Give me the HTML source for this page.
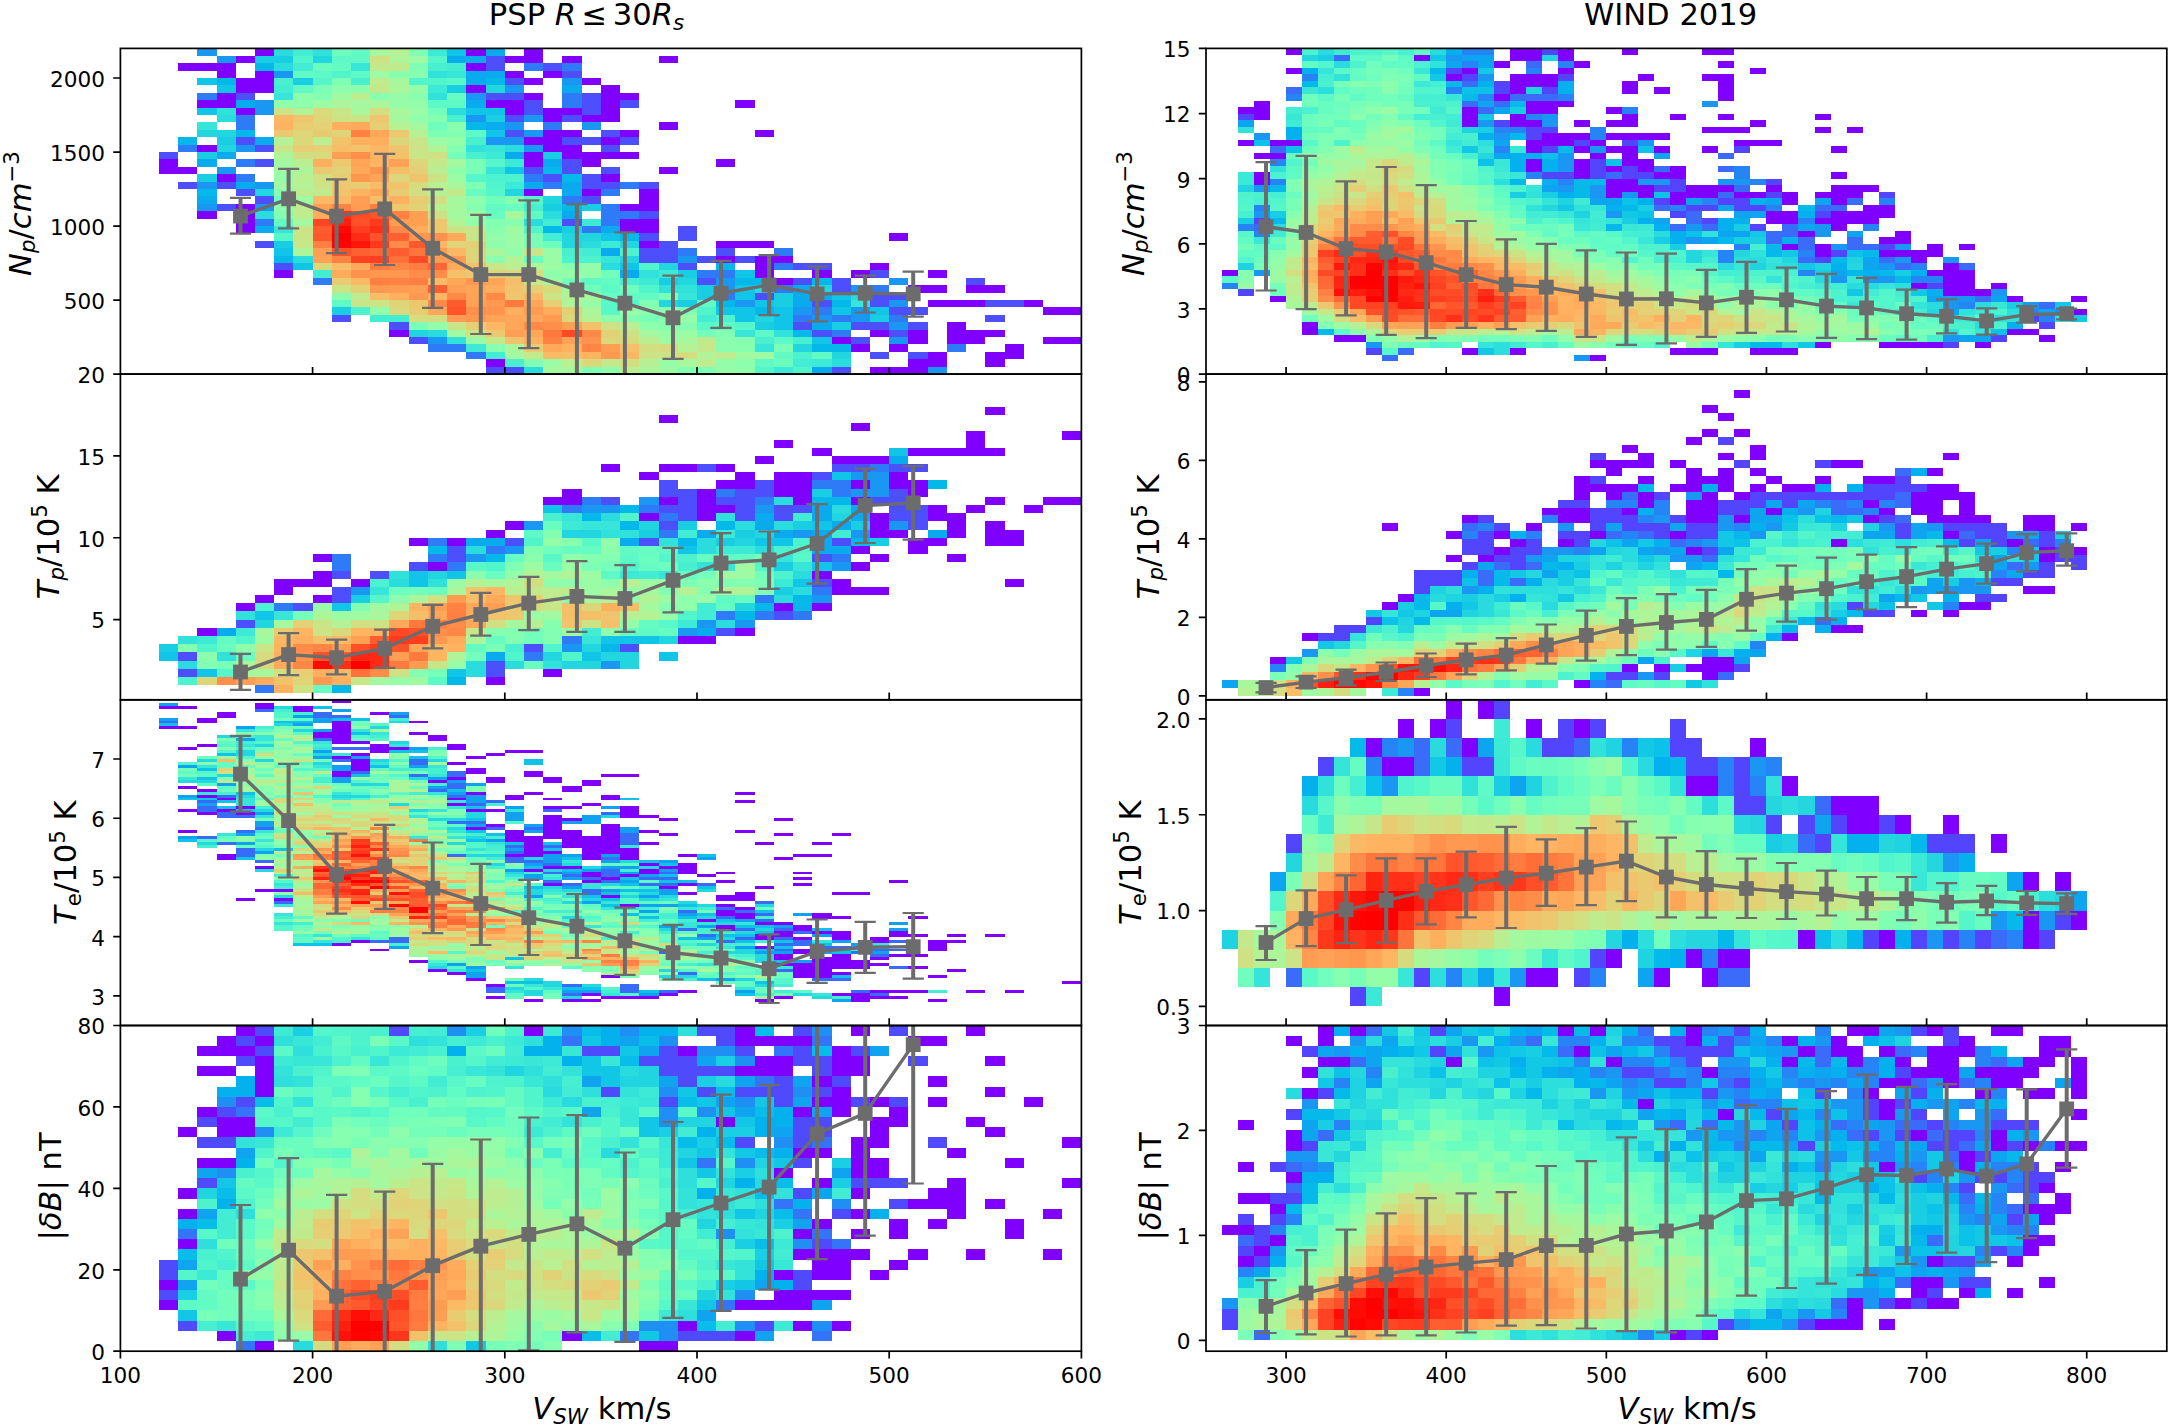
<!DOCTYPE html>
<html><head><meta charset="utf-8"><title>PSP and WIND solar wind statistics</title>
<style>html,body{margin:0;padding:0;background:#fff}svg{display:block}text{font-family:'DejaVu Sans','Liberation Sans',sans-serif;fill:#000}.i{font-style:italic}</style></head><body>
<svg width="2170" height="1427" viewBox="0 0 2170 1427">
<rect width="2170" height="1427" fill="#fff"/>
<g id="panel0">
<clipPath id="c0"><rect x="120.40" y="48.40" width="961.00" height="325.70"/></clipPath>
<g clip-path="url(#c0)"><g><g transform="translate(120.400 374.100) scale(19.2200 -7.4023)" shape-rendering="crispEdges">
<path fill="#8000ff" d="M2 27h1v2h-1zM3 27h1v1h-1zM3 41h1v1h-1zM4 21h1v1h-1zM4 30h1v1h-1zM4 36h1v1h-1zM4 41h1v1h-1zM5 26h1v1h-1zM5 36h1v2h-1zM5 40h1v2h-1zM6 19h1v4h-1zM6 35h1v1h-1zM6 38h1v2h-1zM6 42h1v1h-1zM7 38h1v3h-1zM7 43h1v1h-1zM8 13h1v1h-1zM14 5h1v1h-1zM18 38h1v1h-1zM18 41h1v1h-1zM18 43h1v1h-1zM19 1h1v1h-1zM19 36h1v1h-1zM20 35h1v2h-1zM20 40h1v1h-1zM20 42h1v1h-1zM21 24h1v1h-1zM21 28h1v2h-1zM21 31h1v1h-1zM21 37h1v1h-1zM21 39h1v1h-1zM21 42h1v2h-1zM22 30h1v3h-1zM22 34h1v2h-1zM22 40h1v1h-1zM23 29h1v2h-1zM23 32h1v1h-1zM23 35h1v1h-1zM23 42h1v1h-1zM24 24h1v1h-1zM24 28h1v2h-1zM24 34h1v1h-1zM24 39h1v1h-1zM25 26h1v1h-1zM25 29h1v1h-1zM25 31h1v1h-1zM25 34h1v5h-1zM26 19h1v2h-1zM26 22h1v1h-1zM26 29h1v1h-1zM26 32h1v1h-1zM26 37h1v1h-1zM27 17h1v1h-1zM27 19h1v2h-1zM27 22h1v3h-1zM28 27h1v1h-1zM28 33h1v1h-1zM28 42h1v1h-1zM31 15h1v1h-1zM31 17h1v1h-1zM31 28h1v1h-1zM32 17h1v1h-1zM32 36h1v1h-1zM33 13h1v3h-1zM33 17h1v1h-1zM33 32h1v1h-1zM34 12h1v1h-1zM34 15h1v1h-1zM36 13h1v1h-1zM37 4h1v1h-1zM38 3h1v1h-1zM38 13h1v1h-1zM39 0h1v1h-1zM39 5h1v1h-1zM39 14h1v1h-1zM40 0h1v1h-1zM40 3h1v1h-1zM40 18h1v1h-1zM41 0h1v2h-1zM41 4h1v2h-1zM41 11h1v1h-1zM42 1h1v2h-1zM42 9h1v1h-1zM42 11h1v1h-1zM42 13h1v1h-1zM43 4h1v3h-1zM43 9h1v1h-1zM44 4h1v2h-1zM44 9h1v1h-1zM44 11h1v1h-1zM45 1h1v2h-1zM45 5h1v1h-1zM45 11h1v1h-1zM46 2h1v2h-1zM47 9h1v1h-1zM48 4h1v1h-1zM48 8h1v1h-1zM49 4h1v1h-1zM49 8h1v1h-1z"/>
<path fill="#4d4ffc" d="M2 29h1v1h-1zM3 25h1v1h-1zM5 22h1v1h-1zM5 25h1v1h-1zM6 24h1v1h-1zM6 31h1v1h-1zM6 37h1v1h-1zM7 17h1v1h-1zM7 23h1v1h-1zM7 28h1v1h-1zM7 30h1v1h-1zM8 14h1v1h-1zM11 7h1v1h-1zM14 6h1v1h-1zM15 4h1v1h-1zM19 0h1v1h-1zM19 37h1v1h-1zM19 41h1v2h-1zM20 0h1v1h-1zM20 32h1v1h-1zM20 34h1v1h-1zM20 37h1v1h-1zM20 39h1v1h-1zM21 27h1v1h-1zM21 35h1v2h-1zM22 26h1v1h-1zM22 41h1v1h-1zM23 20h1v1h-1zM23 27h1v2h-1zM23 31h1v1h-1zM23 34h1v1h-1zM23 40h1v1h-1zM24 23h1v1h-1zM24 25h1v2h-1zM24 31h1v1h-1zM24 35h1v3h-1zM25 25h1v1h-1zM25 27h1v1h-1zM25 30h1v1h-1zM25 32h1v1h-1zM26 31h1v1h-1zM26 36h1v1h-1zM27 15h1v2h-1zM27 18h1v1h-1zM27 21h1v1h-1zM27 25h1v1h-1zM28 15h1v3h-1zM29 14h1v1h-1zM29 18h1v2h-1zM30 12h1v1h-1zM30 15h1v1h-1zM31 16h1v1h-1zM32 15h1v1h-1zM33 10h1v1h-1zM35 6h1v1h-1zM35 12h1v1h-1zM35 14h1v1h-1zM36 5h1v1h-1zM36 9h1v1h-1zM36 14h1v1h-1zM37 0h1v1h-1zM37 11h1v2h-1zM38 4h1v1h-1zM38 6h1v1h-1zM39 2h1v1h-1zM39 6h1v1h-1zM39 9h1v2h-1zM39 13h1v1h-1zM40 5h1v1h-1zM40 8h1v1h-1zM40 10h1v1h-1zM41 2h1v1h-1zM41 6h1v1h-1zM41 8h1v1h-1zM44 12h1v1h-1zM45 7h1v1h-1zM45 9h1v1h-1zM46 9h1v1h-1z"/>
<path fill="#2f7af7" d="M3 30h1v1h-1zM4 37h1v1h-1zM6 26h1v1h-1zM6 28h1v1h-1zM6 33h1v2h-1zM7 20h1v1h-1zM10 12h1v1h-1zM16 3h1v1h-1zM17 3h1v1h-1zM18 2h1v1h-1zM21 26h1v1h-1zM21 41h1v1h-1zM22 25h1v1h-1zM22 33h1v1h-1zM23 23h1v1h-1zM23 36h1v2h-1zM23 41h1v1h-1zM24 19h1v1h-1zM25 20h1v3h-1zM25 24h1v1h-1zM26 21h1v1h-1zM26 25h1v1h-1zM29 16h1v1h-1zM30 13h1v1h-1zM31 10h1v1h-1zM31 13h1v1h-1zM34 11h1v1h-1zM34 14h1v1h-1zM34 16h1v1h-1zM35 7h1v1h-1zM36 8h1v1h-1zM37 5h1v1h-1zM37 7h1v1h-1zM39 11h1v1h-1zM40 7h1v1h-1zM43 3h1v1h-1z"/>
<path fill="#04b9ea" d="M3 31h1v1h-1zM4 24h1v1h-1zM5 39h1v1h-1zM6 32h1v1h-1zM7 41h1v1h-1zM8 15h1v1h-1zM18 33h1v1h-1zM19 39h1v1h-1zM22 19h1v1h-1zM22 27h1v1h-1zM23 22h1v1h-1zM23 26h1v1h-1zM26 18h1v1h-1zM31 9h1v1h-1zM31 14h1v1h-1zM32 12h1v1h-1zM33 8h1v1h-1zM33 12h1v1h-1zM35 5h1v1h-1zM36 3h1v1h-1zM36 12h1v1h-1zM37 3h1v1h-1zM37 9h1v1h-1z"/>
<path fill="#1a96f3" d="M4 22h1v1h-1zM4 25h1v1h-1zM4 43h1v1h-1zM5 27h1v1h-1zM5 42h1v1h-1zM6 30h1v1h-1zM7 22h1v1h-1zM7 25h1v1h-1zM7 35h1v2h-1zM8 40h1v1h-1zM16 4h1v1h-1zM18 34h1v1h-1zM18 37h1v1h-1zM19 31h1v1h-1zM20 31h1v1h-1zM20 33h1v1h-1zM20 38h1v1h-1zM21 30h1v1h-1zM21 32h1v1h-1zM21 34h1v1h-1zM23 39h1v1h-1zM24 33h1v1h-1zM29 15h1v1h-1zM31 11h1v2h-1zM32 9h1v1h-1zM35 8h1v1h-1zM36 7h1v1h-1zM38 7h1v2h-1zM38 11h1v1h-1zM40 4h1v1h-1zM40 6h1v1h-1zM40 9h1v1h-1zM40 12h1v1h-1zM42 0h1v1h-1z"/>
<path fill="#09aaee" d="M4 23h1v1h-1zM4 28h1v1h-1zM5 29h1v1h-1zM6 25h1v1h-1zM6 36h1v1h-1zM7 19h1v1h-1zM7 31h1v1h-1zM17 42h1v1h-1zM18 36h1v1h-1zM18 39h1v2h-1zM18 42h1v1h-1zM19 33h1v1h-1zM19 40h1v1h-1zM19 43h1v1h-1zM20 29h1v1h-1zM21 25h1v1h-1zM22 28h1v1h-1zM23 21h1v1h-1zM23 24h1v2h-1zM23 38h1v1h-1zM25 16h1v1h-1zM25 19h1v1h-1zM26 13h1v1h-1zM35 9h1v3h-1zM36 0h1v1h-1zM36 6h1v1h-1zM36 10h1v1h-1z"/>
<path fill="#19cee3" d="M4 26h1v1h-1zM4 29h1v1h-1zM5 31h1v1h-1zM7 42h1v1h-1zM8 17h1v1h-1zM8 42h1v1h-1zM9 39h1v1h-1zM11 8h1v1h-1zM17 38h1v1h-1zM19 34h1v1h-1zM22 22h1v1h-1zM22 29h1v1h-1zM23 19h1v1h-1zM24 22h1v1h-1zM28 12h1v1h-1zM29 9h1v1h-1zM29 13h1v1h-1zM30 10h1v2h-1zM33 6h1v1h-1zM34 9h1v2h-1zM37 6h1v1h-1zM39 7h1v1h-1z"/>
<path fill="#22d6e0" d="M4 32h1v1h-1zM5 30h1v1h-1zM5 32h1v1h-1zM7 24h1v1h-1zM10 42h1v1h-1zM15 5h1v1h-1zM19 38h1v1h-1zM20 24h1v1h-1zM22 23h1v1h-1zM23 17h1v2h-1zM24 18h1v1h-1zM26 15h1v1h-1zM26 17h1v1h-1zM28 9h1v1h-1zM28 14h1v1h-1zM29 12h1v1h-1zM33 7h1v1h-1zM35 3h1v1h-1zM36 11h1v1h-1zM37 2h1v1h-1z"/>
<path fill="#37e6d8" d="M4 33h1v1h-1zM8 19h1v1h-1zM8 37h1v1h-1zM12 41h1v1h-1zM17 40h1v1h-1zM19 27h1v1h-1zM19 30h1v1h-1zM25 15h1v1h-1zM29 10h1v1h-1zM32 5h1v1h-1zM33 3h1v1h-1zM38 9h1v1h-1z"/>
<path fill="#10c5e7" d="M4 35h1v1h-1zM4 39h1v1h-1zM5 38h1v1h-1zM8 16h1v1h-1zM9 14h1v1h-1zM17 43h1v1h-1zM18 35h1v1h-1zM19 32h1v1h-1zM19 35h1v1h-1zM20 27h1v1h-1zM25 18h1v1h-1zM26 14h1v1h-1zM31 8h1v1h-1zM32 7h1v2h-1zM32 10h1v2h-1zM32 13h1v1h-1zM33 9h1v1h-1zM34 6h1v3h-1zM36 4h1v1h-1zM37 8h1v1h-1zM37 10h1v1h-1zM39 8h1v1h-1z"/>
<path fill="#2adcdd" d="M5 34h1v1h-1zM7 21h1v1h-1zM8 41h1v1h-1zM8 43h1v1h-1zM9 15h1v1h-1zM16 5h1v1h-1zM17 35h1v1h-1zM20 30h1v1h-1zM21 0h1v1h-1zM21 20h1v1h-1zM22 21h1v1h-1zM24 17h1v1h-1zM25 14h1v1h-1zM33 11h1v1h-1zM37 1h1v1h-1zM38 10h1v1h-1z"/>
<path fill="#31e2da" d="M5 35h1v1h-1zM10 43h1v1h-1zM16 37h1v1h-1zM16 40h1v1h-1zM17 4h1v1h-1zM18 30h1v1h-1zM27 13h1v1h-1zM28 11h1v1h-1zM29 11h1v1h-1zM34 5h1v1h-1z"/>
<path fill="#55f6ca" d="M8 18h1v1h-1zM10 39h1v1h-1zM16 42h1v1h-1zM18 26h1v1h-1zM19 24h1v1h-1zM19 28h1v1h-1zM21 23h1v1h-1zM26 9h1v1h-1zM32 6h1v1h-1zM33 0h1v1h-1z"/>
<path fill="#64fbc3" d="M8 20h1v1h-1zM11 41h1v1h-1zM25 12h1v1h-1zM26 10h1v1h-1zM27 10h1v1h-1zM30 9h1v1h-1zM34 2h1v1h-1z"/>
<path fill="#84ffb2" d="M8 21h1v1h-1zM17 30h1v1h-1zM17 32h1v1h-1zM19 20h1v1h-1zM20 23h1v1h-1zM26 7h1v1h-1zM29 0h1v1h-1z"/>
<path fill="#90feab" d="M8 22h1v1h-1zM8 36h1v1h-1zM15 34h1v1h-1zM18 20h1v1h-1zM32 0h1v1h-1z"/>
<path fill="#6afdc0" d="M8 23h1v1h-1zM10 41h1v1h-1zM20 22h1v1h-1zM34 1h1v1h-1z"/>
<path fill="#8afeae" d="M8 24h1v1h-1zM11 10h1v1h-1zM17 33h1v1h-1zM27 8h1v1h-1zM31 3h1v2h-1z"/>
<path fill="#a2f9a0" d="M8 25h1v1h-1zM9 20h1v1h-1z"/>
<path fill="#97fca7" d="M8 26h1v1h-1zM14 36h1v2h-1zM24 9h1v1h-1zM28 5h1v1h-1z"/>
<path fill="#9cfba4" d="M8 27h1v1h-1zM16 31h1v1h-1zM20 18h1v1h-1z"/>
<path fill="#a3f99f" d="M8 28h1v1h-1zM17 21h1v1h-1z"/>
<path fill="#aef599" d="M8 29h1v1h-1zM14 42h1v1h-1z"/>
<path fill="#c8e688" d="M8 30h1v1h-1zM9 18h1v1h-1zM15 29h1v1h-1zM18 18h1v1h-1z"/>
<path fill="#b4f295" d="M8 31h1v1h-1zM9 25h1v1h-1zM14 43h1v1h-1zM16 24h1v1h-1zM29 3h1v1h-1z"/>
<path fill="#ebc970" d="M8 32h1v1h-1zM19 5h1v1h-1z"/>
<path fill="#ffb360" d="M8 33h1v1h-1z"/>
<path fill="#fdb663" d="M8 34h1v1h-1zM19 6h1v1h-1zM21 10h1v1h-1z"/>
<path fill="#cce486" d="M8 35h1v1h-1zM9 19h1v1h-1zM10 25h1v1h-1zM13 9h1v1h-1zM17 19h1v1h-1z"/>
<path fill="#43edd3" d="M8 38h1v1h-1zM9 41h1v1h-1zM9 43h1v1h-1zM10 13h1v1h-1zM13 7h1v1h-1zM14 7h1v1h-1zM17 41h1v1h-1zM19 2h1v1h-1zM22 18h1v1h-1zM22 20h1v1h-1zM24 16h1v1h-1zM30 7h1v1h-1zM35 1h1v1h-1z"/>
<path fill="#48f0d0" d="M8 39h1v1h-1zM12 39h1v1h-1zM16 41h1v1h-1zM17 34h1v1h-1zM18 29h1v1h-1zM18 31h1v1h-1zM20 1h1v1h-1zM21 22h1v1h-1zM23 16h1v1h-1zM26 12h1v1h-1zM33 4h1v1h-1zM35 4h1v1h-1z"/>
<path fill="#adf59a" d="M9 16h1v1h-1zM11 36h1v1h-1zM13 36h1v1h-1zM24 8h1v1h-1z"/>
<path fill="#c7e789" d="M9 17h1v1h-1z"/>
<path fill="#bfec8e" d="M9 21h1v1h-1z"/>
<path fill="#beec8e" d="M9 22h1v1h-1zM12 10h1v1h-1zM13 39h1v1h-1zM30 1h1v1h-1zM31 2h1v1h-1z"/>
<path fill="#9ffaa2" d="M9 23h1v1h-1zM11 37h1v1h-1zM20 19h1v1h-1zM32 2h1v1h-1z"/>
<path fill="#bded8f" d="M9 24h1v1h-1zM12 37h1v1h-1z"/>
<path fill="#b8f092" d="M9 26h1v1h-1zM16 22h1v1h-1zM16 25h1v1h-1zM23 1h1v1h-1z"/>
<path fill="#abf69a" d="M9 27h1v1h-1zM14 38h1v1h-1z"/>
<path fill="#b9ef92" d="M9 28h1v1h-1zM16 27h1v1h-1zM26 6h1v1h-1z"/>
<path fill="#d1df82" d="M9 29h1v1h-1zM15 24h1v1h-1zM16 23h1v1h-1zM26 1h1v1h-1z"/>
<path fill="#e7cd73" d="M9 30h1v1h-1zM18 6h1v1h-1zM22 9h1v1h-1z"/>
<path fill="#dbd87b" d="M9 31h1v1h-1zM20 13h1v1h-1zM24 1h1v1h-1zM25 4h1v1h-1z"/>
<path fill="#ded579" d="M9 32h1v1h-1z"/>
<path fill="#e9cb71" d="M9 33h1v1h-1zM11 12h1v1h-1zM11 26h1v1h-1zM12 25h1v1h-1zM15 8h1v1h-1zM21 3h1v1h-1z"/>
<path fill="#f0c46c" d="M9 34h1v1h-1zM14 30h1v1h-1z"/>
<path fill="#b2f396" d="M9 35h1v1h-1zM24 7h1v1h-1z"/>
<path fill="#8efeac" d="M9 36h1v1h-1zM12 38h1v1h-1zM17 27h1v1h-1zM19 17h1v1h-1zM25 0h1v1h-1z"/>
<path fill="#8cfead" d="M9 37h1v1h-1zM11 38h1v1h-1zM18 23h1v1h-1zM19 15h1v1h-1zM22 13h1v1h-1zM25 7h1v1h-1zM27 6h1v1h-1zM28 8h1v1h-1zM32 1h1v1h-1z"/>
<path fill="#61fac5" d="M9 38h1v1h-1zM9 40h1v1h-1zM12 42h1v2h-1zM19 22h1v1h-1zM21 21h1v1h-1zM31 6h1v1h-1zM33 1h1v1h-1zM36 2h1v1h-1z"/>
<path fill="#51f5cc" d="M9 42h1v1h-1zM11 40h1v1h-1zM15 39h1v1h-1zM16 39h1v1h-1zM19 25h1v1h-1zM21 19h1v1h-1zM27 11h1v1h-1zM27 14h1v1h-1zM30 8h1v1h-1zM35 0h1v1h-1z"/>
<path fill="#d9d97c" d="M10 14h1v1h-1z"/>
<path fill="#ffa256" d="M10 15h1v1h-1zM14 28h1v1h-1z"/>
<path fill="#ff9f54" d="M10 16h1v1h-1zM11 29h1v1h-1zM15 11h1v1h-1zM15 20h1v2h-1zM17 11h1v1h-1zM23 6h1v1h-1z"/>
<path fill="#ff8042" d="M10 17h1v1h-1z"/>
<path fill="#ff572c" d="M10 18h1v1h-1z"/>
<path fill="#ff5b2e" d="M10 19h1v1h-1zM17 9h1v1h-1z"/>
<path fill="#ff4523" d="M10 20h1v1h-1z"/>
<path fill="#ffac5d" d="M10 21h1v1h-1zM17 14h1v1h-1z"/>
<path fill="#ffa155" d="M10 22h1v1h-1zM18 9h1v1h-1z"/>
<path fill="#faba65" d="M10 23h1v1h-1z"/>
<path fill="#c0eb8d" d="M10 24h1v1h-1zM14 41h1v1h-1z"/>
<path fill="#cfe183" d="M10 26h1v1h-1zM16 29h1v1h-1z"/>
<path fill="#eaca71" d="M10 27h1v1h-1z"/>
<path fill="#ffaf5e" d="M10 28h1v1h-1zM11 33h1v1h-1zM12 31h1v1h-1zM13 31h1v1h-1zM20 8h1v1h-1zM21 4h1v1h-1z"/>
<path fill="#d7db7e" d="M10 29h1v1h-1z"/>
<path fill="#e4d075" d="M10 30h1v1h-1z"/>
<path fill="#bced90" d="M10 31h1v1h-1zM20 14h1v1h-1zM27 4h1v1h-1z"/>
<path fill="#eaca70" d="M10 32h1v1h-1z"/>
<path fill="#e3d176" d="M10 33h1v1h-1zM12 11h1v1h-1zM15 22h1v1h-1zM25 5h1v1h-1z"/>
<path fill="#ddd67a" d="M10 34h1v1h-1zM14 26h1v1h-1z"/>
<path fill="#dad97c" d="M10 35h1v1h-1zM22 11h1v1h-1z"/>
<path fill="#9dfba3" d="M10 36h1v1h-1zM13 40h1v1h-1zM15 42h1v1h-1zM22 12h1v1h-1zM22 14h1v1h-1zM28 4h1v1h-1zM33 2h1v1h-1z"/>
<path fill="#82ffb3" d="M10 37h1v1h-1zM27 9h1v1h-1zM31 5h1v1h-1z"/>
<path fill="#7dffb6" d="M10 38h1v1h-1zM15 41h1v1h-1zM24 0h1v1h-1zM30 0h1v1h-1z"/>
<path fill="#5df9c6" d="M10 40h1v1h-1zM11 9h1v1h-1zM11 42h1v1h-1zM12 40h1v1h-1zM16 36h1v1h-1zM17 36h1v1h-1zM18 32h1v1h-1zM24 12h1v1h-1zM25 11h1v1h-1zM33 5h1v1h-1zM34 4h1v1h-1z"/>
<path fill="#c9e587" d="M11 11h1v1h-1zM11 35h1v1h-1zM15 31h1v1h-1zM17 6h1v1h-1zM18 19h1v1h-1zM22 10h1v1h-1z"/>
<path fill="#ffab5c" d="M11 13h1v1h-1z"/>
<path fill="#f7bd67" d="M11 14h1v1h-1zM11 30h1v1h-1z"/>
<path fill="#ff8243" d="M11 15h1v1h-1zM12 32h1v1h-1zM14 21h1v1h-1z"/>
<path fill="#ff5129" d="M11 16h1v1h-1zM12 20h1v1h-1z"/>
<path fill="#ff0402" d="M11 17h1v1h-1z"/>
<path fill="#ff0000" d="M11 18h1v1h-1z"/>
<path fill="#ff0904" d="M11 19h1v1h-1z"/>
<path fill="#ff2010" d="M11 20h1v1h-1z"/>
<path fill="#ff3018" d="M11 21h1v1h-1z"/>
<path fill="#ff8344" d="M11 22h1v1h-1z"/>
<path fill="#fcb864" d="M11 23h1v1h-1z"/>
<path fill="#f3c26a" d="M11 24h1v1h-1z"/>
<path fill="#eec76e" d="M11 25h1v1h-1z"/>
<path fill="#e1d277" d="M11 27h1v1h-1zM11 32h1v1h-1z"/>
<path fill="#ecc86f" d="M11 28h1v1h-1zM14 22h1v1h-1zM16 19h1v1h-1z"/>
<path fill="#f2c36b" d="M11 31h1v1h-1zM12 30h1v1h-1zM14 25h1v1h-1z"/>
<path fill="#cee284" d="M11 34h1v1h-1zM13 42h1v1h-1z"/>
<path fill="#80ffb4" d="M11 39h1v1h-1zM15 43h1v1h-1zM18 25h1v1h-1zM21 1h1v1h-1zM29 8h1v1h-1z"/>
<path fill="#6dfdbe" d="M11 43h1v1h-1zM21 15h1v1h-1zM22 17h1v1h-1zM26 11h1v1h-1z"/>
<path fill="#4cf3ce" d="M12 8h1v1h-1zM19 26h1v1h-1zM20 26h1v1h-1zM23 15h1v1h-1zM24 15h1v1h-1zM26 16h1v1h-1zM31 7h1v1h-1zM35 2h1v1h-1z"/>
<path fill="#cae587" d="M12 9h1v1h-1z"/>
<path fill="#fab965" d="M12 12h1v1h-1z"/>
<path fill="#ff924d" d="M12 13h1v1h-1z"/>
<path fill="#ffa95a" d="M12 14h1v1h-1zM17 18h1v1h-1z"/>
<path fill="#ff4322" d="M12 15h1v1h-1z"/>
<path fill="#ff6031" d="M12 16h1v1h-1zM14 18h1v1h-1z"/>
<path fill="#ff150b" d="M12 17h1v1h-1z"/>
<path fill="#ff2b16" d="M12 18h1v1h-1z"/>
<path fill="#ff3f20" d="M12 19h1v1h-1zM13 15h1v1h-1z"/>
<path fill="#ff4c26" d="M12 21h1v1h-1z"/>
<path fill="#ff9d53" d="M12 22h1v1h-1zM14 20h1v1h-1z"/>
<path fill="#ff9e54" d="M12 23h1v1h-1zM20 5h1v1h-1z"/>
<path fill="#ffb260" d="M12 24h1v1h-1z"/>
<path fill="#ff974f" d="M12 26h1v1h-1zM13 13h1v1h-1zM18 7h1v1h-1z"/>
<path fill="#ffaa5b" d="M12 27h1v1h-1zM12 33h1v1h-1zM22 3h1v1h-1z"/>
<path fill="#ffa558" d="M12 28h1v1h-1zM13 24h1v1h-1zM18 11h1v1h-1zM19 12h1v1h-1z"/>
<path fill="#ff8e4a" d="M12 29h1v1h-1zM22 6h1v1h-1z"/>
<path fill="#cbe486" d="M12 34h1v1h-1zM15 30h1v1h-1zM28 2h1v1h-1z"/>
<path fill="#a7f79d" d="M12 35h1v1h-1zM17 22h1v1h-1zM20 21h1v1h-1zM23 0h1v1h-1zM29 1h1v1h-1zM29 4h1v1h-1z"/>
<path fill="#a5f89f" d="M12 36h1v1h-1zM17 28h1v1h-1zM20 2h1v1h-1zM22 0h1v1h-1zM27 5h1v1h-1z"/>
<path fill="#92fdaa" d="M13 8h1v1h-1zM17 31h1v1h-1zM20 16h1v1h-1zM31 1h1v1h-1z"/>
<path fill="#f5bf68" d="M13 10h1v1h-1zM14 27h1v1h-1z"/>
<path fill="#ff9850" d="M13 11h1v1h-1zM25 2h1v1h-1z"/>
<path fill="#ff7f42" d="M13 12h1v1h-1zM13 22h1v1h-1zM15 12h1v1h-1z"/>
<path fill="#ff7c40" d="M13 14h1v1h-1z"/>
<path fill="#ff6634" d="M13 16h1v1h-1z"/>
<path fill="#ff371c" d="M13 17h1v1h-1z"/>
<path fill="#ff522a" d="M13 18h1v1h-1z"/>
<path fill="#ff2e17" d="M13 19h1v1h-1z"/>
<path fill="#ff3a1d" d="M13 20h1v1h-1z"/>
<path fill="#ff552b" d="M13 21h1v1h-1z"/>
<path fill="#f6be68" d="M13 23h1v1h-1zM20 12h1v1h-1zM23 2h1v1h-1z"/>
<path fill="#f8bc67" d="M13 25h1v1h-1z"/>
<path fill="#ffa457" d="M13 26h1v1h-1zM19 7h1v1h-1z"/>
<path fill="#ff944e" d="M13 27h1v1h-1zM19 8h1v1h-1z"/>
<path fill="#ffb462" d="M13 28h1v1h-1z"/>
<path fill="#ffb461" d="M13 29h1v1h-1zM16 10h1v1h-1zM24 2h1v1h-1z"/>
<path fill="#fdb763" d="M13 30h1v1h-1z"/>
<path fill="#ffa759" d="M13 32h1v1h-1zM16 8h1v1h-1zM20 6h1v2h-1zM21 5h1v1h-1zM21 7h1v1h-1z"/>
<path fill="#e5ce74" d="M13 33h1v1h-1zM15 27h1v1h-1z"/>
<path fill="#efc66d" d="M13 34h1v1h-1zM20 10h1v1h-1z"/>
<path fill="#d4dd80" d="M13 35h1v1h-1zM21 13h1v1h-1zM29 2h1v1h-1z"/>
<path fill="#88ffaf" d="M13 37h1v1h-1zM14 40h1v1h-1zM15 37h1v1h-1zM15 40h1v1h-1zM19 19h1v1h-1zM20 20h1v1h-1zM28 6h1v1h-1zM32 3h1v1h-1z"/>
<path fill="#c4e98b" d="M13 38h1v1h-1zM19 4h1v1h-1z"/>
<path fill="#c2ea8c" d="M13 41h1v1h-1zM25 1h1v1h-1zM30 4h1v1h-1z"/>
<path fill="#a9f79c" d="M13 43h1v1h-1zM14 39h1v1h-1zM17 25h1v1h-1zM19 16h1v1h-1zM20 3h1v1h-1zM24 10h1v1h-1z"/>
<path fill="#d8da7d" d="M14 8h1v1h-1z"/>
<path fill="#e0d478" d="M14 9h1v1h-1zM15 28h1v1h-1zM18 15h1v1h-1zM19 13h1v1h-1z"/>
<path fill="#ffb160" d="M14 10h1v1h-1zM14 23h1v1h-1zM23 3h1v1h-1z"/>
<path fill="#ff9a51" d="M14 11h1v1h-1zM17 15h1v1h-1zM22 7h1v1h-1z"/>
<path fill="#ff8143" d="M14 12h1v1h-1zM22 4h1v1h-1z"/>
<path fill="#ff9750" d="M14 13h1v1h-1zM15 18h1v1h-1z"/>
<path fill="#ff8545" d="M14 14h1v1h-1zM24 3h1v1h-1z"/>
<path fill="#ff713a" d="M14 15h1v1h-1z"/>
<path fill="#ff5c2f" d="M14 16h1v1h-1z"/>
<path fill="#ff8b48" d="M14 17h1v1h-1z"/>
<path fill="#ff8948" d="M14 19h1v1h-1z"/>
<path fill="#e8cc72" d="M14 24h1v1h-1zM15 23h1v1h-1z"/>
<path fill="#f4c16a" d="M14 29h1v1h-1z"/>
<path fill="#dcd67a" d="M14 31h1v1h-1zM18 16h1v1h-1z"/>
<path fill="#ecc970" d="M14 32h1v1h-1zM18 13h1v1h-1z"/>
<path fill="#b6f194" d="M14 33h1v1h-1zM15 32h1v1h-1z"/>
<path fill="#a6f89e" d="M14 34h1v1h-1zM15 33h1v1h-1zM17 23h1v1h-1zM23 11h1v1h-1z"/>
<path fill="#aaf69b" d="M14 35h1v1h-1zM27 0h1v1h-1z"/>
<path fill="#7bffb7" d="M15 6h1v1h-1zM16 32h1v1h-1zM21 17h1v1h-1z"/>
<path fill="#d5dd7f" d="M15 7h1v1h-1z"/>
<path fill="#edc76e" d="M15 9h1v1h-1z"/>
<path fill="#ff9951" d="M15 10h1v1h-1zM19 9h1v1h-1z"/>
<path fill="#ff8c49" d="M15 13h1v1h-1zM16 13h1v1h-1z"/>
<path fill="#ff7d40" d="M15 14h1v1h-1z"/>
<path fill="#ff4a25" d="M15 15h1v1h-1z"/>
<path fill="#ff753c" d="M15 16h1v1h-1z"/>
<path fill="#ff5a2e" d="M15 17h1v1h-1z"/>
<path fill="#ffac5c" d="M15 19h1v1h-1z"/>
<path fill="#d6db7e" d="M15 25h1v1h-1zM26 4h1v1h-1zM28 3h1v1h-1z"/>
<path fill="#f0c46d" d="M15 26h1v1h-1z"/>
<path fill="#9afca5" d="M15 35h1v1h-1zM17 26h1v1h-1zM18 21h1v1h-1zM20 17h1v1h-1zM22 1h1v1h-1zM22 15h1v1h-1zM28 0h1v1h-1zM29 5h1v1h-1z"/>
<path fill="#94fda9" d="M15 36h1v1h-1zM16 6h1v1h-1zM19 18h1v1h-1zM24 13h1v2h-1z"/>
<path fill="#95fda8" d="M15 38h1v1h-1zM18 4h1v1h-1zM23 13h1v1h-1zM28 1h1v1h-1zM31 0h1v1h-1z"/>
<path fill="#d3de81" d="M16 7h1v1h-1z"/>
<path fill="#ff8847" d="M16 9h1v1h-1zM17 10h1v1h-1z"/>
<path fill="#ff5e30" d="M16 11h1v1h-1z"/>
<path fill="#faba66" d="M16 12h1v1h-1z"/>
<path fill="#ff6534" d="M16 14h1v1h-1z"/>
<path fill="#ff9b52" d="M16 15h1v2h-1zM17 7h1v1h-1z"/>
<path fill="#feb662" d="M16 17h1v1h-1z"/>
<path fill="#ff914c" d="M16 18h1v1h-1z"/>
<path fill="#efc56d" d="M16 20h1v1h-1z"/>
<path fill="#d0e183" d="M16 21h1v1h-1z"/>
<path fill="#cde284" d="M16 26h1v1h-1zM25 6h1v1h-1zM26 5h1v1h-1z"/>
<path fill="#c3e98b" d="M16 28h1v1h-1zM17 24h1v1h-1z"/>
<path fill="#b0f497" d="M16 30h1v1h-1zM23 10h1v1h-1z"/>
<path fill="#70febd" d="M16 33h1v1h-1zM19 23h1v1h-1zM24 11h1v1h-1z"/>
<path fill="#86ffb1" d="M16 34h1v1h-1zM18 22h1v1h-1zM19 3h1v1h-1zM23 14h1v1h-1zM28 7h1v1h-1zM29 6h1v1h-1zM32 4h1v1h-1z"/>
<path fill="#73febb" d="M16 35h1v1h-1zM23 12h1v1h-1zM25 13h1v1h-1zM30 5h1v1h-1z"/>
<path fill="#3dead5" d="M16 38h1v1h-1zM16 43h1v1h-1zM18 3h1v1h-1zM19 29h1v1h-1zM20 25h1v1h-1zM20 28h1v1h-1zM24 20h1v1h-1zM25 17h1v1h-1zM27 12h1v1h-1zM28 13h1v1h-1zM34 0h1v1h-1zM36 1h1v1h-1z"/>
<path fill="#a0faa1" d="M17 5h1v1h-1z"/>
<path fill="#ff532a" d="M17 8h1v1h-1z"/>
<path fill="#ffa85a" d="M17 12h1v1h-1z"/>
<path fill="#f3c16a" d="M17 13h1v1h-1z"/>
<path fill="#fbb864" d="M17 16h1v1h-1zM26 2h1v1h-1z"/>
<path fill="#e0d378" d="M17 17h1v1h-1z"/>
<path fill="#b1f397" d="M17 20h1v1h-1zM20 15h1v1h-1z"/>
<path fill="#76ffba" d="M17 29h1v1h-1z"/>
<path fill="#67fcc1" d="M17 37h1v1h-1zM18 24h1v1h-1zM19 21h1v1h-1zM25 10h1v1h-1z"/>
<path fill="#59f8c8" d="M17 39h1v1h-1zM25 8h1v2h-1zM30 6h1v1h-1z"/>
<path fill="#c7e688" d="M18 5h1v1h-1zM19 14h1v1h-1z"/>
<path fill="#ff904b" d="M18 8h1v1h-1z"/>
<path fill="#ffa357" d="M18 10h1v1h-1z"/>
<path fill="#ff954e" d="M18 12h1v1h-1z"/>
<path fill="#f4c069" d="M18 14h1v1h-1zM26 3h1v1h-1z"/>
<path fill="#e3d075" d="M18 17h1v1h-1z"/>
<path fill="#78ffb8" d="M18 27h1v2h-1zM21 18h1v1h-1zM27 7h1v1h-1zM28 10h1v1h-1zM34 3h1v1h-1z"/>
<path fill="#ff8a48" d="M19 10h1v1h-1z"/>
<path fill="#ffae5d" d="M19 11h1v1h-1z"/>
<path fill="#f1c36c" d="M20 4h1v1h-1zM20 11h1v1h-1z"/>
<path fill="#ff7a3f" d="M20 9h1v1h-1z"/>
<path fill="#c5e88a" d="M21 2h1v1h-1zM21 12h1v1h-1zM21 16h1v1h-1zM30 3h1v1h-1z"/>
<path fill="#ff8947" d="M21 6h1v1h-1zM24 5h1v1h-1z"/>
<path fill="#ff9c52" d="M21 8h1v1h-1z"/>
<path fill="#ffa659" d="M21 9h1v1h-1z"/>
<path fill="#e5cf74" d="M21 11h1v1h-1z"/>
<path fill="#aff498" d="M21 14h1v1h-1zM23 9h1v1h-1zM30 2h1v1h-1z"/>
<path fill="#f9bb66" d="M22 2h1v1h-1z"/>
<path fill="#ff793e" d="M22 5h1v1h-1z"/>
<path fill="#ffad5d" d="M22 8h1v1h-1z"/>
<path fill="#99fca6" d="M22 16h1v1h-1zM26 8h1v1h-1zM29 7h1v1h-1z"/>
<path fill="#ffa156" d="M23 4h1v1h-1z"/>
<path fill="#ff4925" d="M23 5h1v1h-1z"/>
<path fill="#dcd77b" d="M23 7h1v1h-1z"/>
<path fill="#e4cf75" d="M23 8h1v1h-1z"/>
<path fill="#ff934d" d="M24 4h1v1h-1z"/>
<path fill="#f2c26b" d="M24 6h1v1h-1z"/>
<path fill="#ff9e53" d="M25 3h1v1h-1z"/>
<path fill="#bbee90" d="M26 0h1v1h-1z"/>
<path fill="#b5f194" d="M27 1h1v1h-1z"/>
<path fill="#cce385" d="M27 2h1v1h-1z"/>
<path fill="#d2df81" d="M27 3h1v1h-1z"/>
</g></g></g>
<g clip-path="url(#c0)" stroke="#6c6c6c" fill="#6c6c6c">
<path d="M240.5 233.6V197.9M288.6 228.3V168.8M336.6 253.1V179.4M384.7 265.0V153.8M432.7 307.8V189.3M480.8 334.0V214.8M528.8 348.2V200.4M576.9 383.0V204.1M624.9 383.0V232.3M673.0 358.9V275.6M721.0 327.8V260.8M769.1 315.2V255.1M817.1 321.4V266.5M865.2 312.5V275.6M913.2 316.7V271.7" fill="none" stroke-width="4.0"/>
<path d="M229.9 233.6h21.2M229.9 197.9h21.2M278.0 228.3h21.2M278.0 168.8h21.2M326.0 253.1h21.2M326.0 179.4h21.2M374.1 265.0h21.2M374.1 153.8h21.2M422.1 307.8h21.2M422.1 189.3h21.2M470.2 334.0h21.2M470.2 214.8h21.2M518.2 348.2h21.2M518.2 200.4h21.2M566.3 383.0h21.2M566.3 204.1h21.2M614.3 383.0h21.2M614.3 232.3h21.2M662.4 358.9h21.2M662.4 275.6h21.2M710.4 327.8h21.2M710.4 260.8h21.2M758.5 315.2h21.2M758.5 255.1h21.2M806.5 321.4h21.2M806.5 266.5h21.2M854.6 312.5h21.2M854.6 275.6h21.2M902.6 316.7h21.2M902.6 271.7h21.2" fill="none" stroke-width="2.2" />
<polyline points="240.5,216.1 288.6,198.8 336.6,216.1 384.7,208.9 432.7,248.3 480.8,274.6 528.8,274.6 576.9,289.9 624.9,303.2 673.0,317.8 721.0,293.3 769.1,285.0 817.1,293.9 865.2,293.3 913.2,293.9" fill="none" stroke-width="3.4" stroke-linejoin="round"/>
<rect x="233.1" y="208.7" width="14.8" height="14.8" stroke="none"/>
<rect x="281.2" y="191.4" width="14.8" height="14.8" stroke="none"/>
<rect x="329.2" y="208.7" width="14.8" height="14.8" stroke="none"/>
<rect x="377.3" y="201.5" width="14.8" height="14.8" stroke="none"/>
<rect x="425.3" y="240.9" width="14.8" height="14.8" stroke="none"/>
<rect x="473.4" y="267.2" width="14.8" height="14.8" stroke="none"/>
<rect x="521.4" y="267.2" width="14.8" height="14.8" stroke="none"/>
<rect x="569.5" y="282.5" width="14.8" height="14.8" stroke="none"/>
<rect x="617.5" y="295.8" width="14.8" height="14.8" stroke="none"/>
<rect x="665.6" y="310.4" width="14.8" height="14.8" stroke="none"/>
<rect x="713.6" y="285.9" width="14.8" height="14.8" stroke="none"/>
<rect x="761.7" y="277.6" width="14.8" height="14.8" stroke="none"/>
<rect x="809.7" y="286.5" width="14.8" height="14.8" stroke="none"/>
<rect x="857.8" y="285.9" width="14.8" height="14.8" stroke="none"/>
<rect x="905.8" y="286.5" width="14.8" height="14.8" stroke="none"/>
</g>
</g>
<g id="panel1">
<clipPath id="c1"><rect x="120.40" y="374.10" width="961.00" height="325.70"/></clipPath>
<g clip-path="url(#c1)"><g><g transform="translate(120.400 701.437) scale(19.2200 -8.1834)" shape-rendering="crispEdges">
<path fill="#10c5e7" d="M2 5h1v1h-1zM4 3h1v1h-1zM7 10h1v1h-1zM11 11h1v1h-1zM15 14h1v2h-1zM17 3h1v1h-1zM17 15h1v1h-1zM22 23h1v1h-1zM24 5h1v1h-1zM25 7h1v1h-1zM26 7h1v1h-1zM27 7h1v1h-1zM28 5h1v1h-1zM29 18h1v1h-1zM33 19h1v1h-1zM34 19h1v1h-1zM35 14h1v1h-1zM36 16h1v1h-1zM36 21h1v1h-1zM37 27h1v1h-1zM40 30h1v1h-1z"/>
<path fill="#19cee3" d="M2 6h1v1h-1zM12 12h1v1h-1zM27 20h1v1h-1zM29 21h1v1h-1zM31 19h1v1h-1zM32 20h1v1h-1zM34 13h1v1h-1zM34 16h1v1h-1zM35 21h1v1h-1zM36 25h1v1h-1zM38 21h1v1h-1zM39 19h1v1h-1z"/>
<path fill="#4cf3ce" d="M3 2h1v1h-1zM7 11h1v1h-1zM13 14h1v1h-1zM29 17h1v1h-1zM34 15h1v1h-1zM34 18h1v1h-1zM35 19h1v1h-1z"/>
<path fill="#4d4ffc" d="M3 3h1v1h-1zM3 5h1v1h-1zM6 9h1v1h-1zM9 11h1v1h-1zM11 12h1v2h-1zM11 15h1v1h-1zM13 15h1v1h-1zM15 16h1v1h-1zM17 17h1v2h-1zM19 3h1v2h-1zM20 19h1v1h-1zM21 6h1v1h-1zM25 24h1v1h-1zM26 6h1v1h-1zM27 19h1v1h-1zM28 21h1v1h-1zM28 23h1v1h-1zM28 25h1v2h-1zM29 22h1v4h-1zM30 28h1v1h-1zM31 8h1v1h-1zM31 24h1v1h-1zM32 22h1v4h-1zM33 25h1v2h-1zM34 10h1v1h-1zM34 22h1v2h-1zM35 23h1v1h-1zM36 14h1v1h-1zM36 17h1v1h-1zM36 27h1v1h-1zM37 19h1v1h-1zM37 28h1v1h-1zM38 28h1v1h-1zM39 24h1v1h-1zM40 22h1v4h-1zM40 28h1v1h-1zM41 21h1v3h-1zM41 28h1v1h-1z"/>
<path fill="#2adcdd" d="M3 4h1v1h-1zM14 14h1v1h-1zM18 3h1v2h-1zM18 18h1v1h-1zM20 4h1v1h-1zM25 22h1v1h-1zM30 18h1v2h-1zM31 9h1v1h-1zM32 21h1v1h-1zM33 18h1v1h-1zM34 12h1v1h-1zM34 21h1v1h-1zM34 24h1v1h-1zM35 13h1v1h-1zM35 15h1v1h-1zM37 23h1v1h-1z"/>
<path fill="#86ffb1" d="M3 6h1v1h-1zM19 8h1v1h-1zM24 17h1v1h-1zM28 11h1v1h-1zM30 13h1v1h-1z"/>
<path fill="#31e2da" d="M3 7h1v1h-1zM5 5h1v1h-1zM6 10h1v1h-1zM14 15h1v1h-1zM16 14h1v1h-1zM22 4h1v1h-1zM25 20h1v1h-1zM26 20h1v1h-1zM28 19h1v1h-1zM30 16h1v1h-1zM31 22h1v1h-1z"/>
<path fill="#ded579" d="M4 2h1v1h-1z"/>
<path fill="#82ffb3" d="M4 4h1v1h-1zM20 7h1v1h-1zM21 18h1v1h-1zM22 8h1v1h-1zM28 13h1v1h-1z"/>
<path fill="#8cfead" d="M4 5h1v1h-1zM14 12h1v1h-1zM23 14h1v1h-1zM25 14h1v1h-1zM25 18h1v1h-1zM29 12h1v1h-1zM30 14h1v1h-1z"/>
<path fill="#51f5cc" d="M4 6h1v1h-1zM6 7h1v1h-1zM19 16h1v1h-1zM20 5h1v1h-1zM21 19h1v1h-1zM22 6h1v1h-1zM23 5h1v1h-1zM26 16h1v1h-1zM26 22h1v1h-1zM29 10h1v1h-1z"/>
<path fill="#3dead5" d="M4 7h1v1h-1zM6 8h1v1h-1zM23 21h1v1h-1zM26 15h1v1h-1zM29 9h1v1h-1zM31 18h1v1h-1zM31 20h1v1h-1zM32 18h1v1h-1zM34 14h1v1h-1z"/>
<path fill="#8000ff" d="M4 8h1v1h-1zM6 11h1v1h-1zM7 12h1v1h-1zM8 13h1v2h-1zM9 14h1v1h-1zM10 12h1v1h-1zM10 14h1v2h-1zM10 17h1v1h-1zM12 14h1v1h-1zM15 19h1v1h-1zM16 16h1v1h-1zM17 19h1v1h-1zM19 2h1v1h-1zM19 20h1v1h-1zM20 21h1v1h-1zM22 3h1v1h-1zM22 24h1v1h-1zM23 24h1v2h-1zM25 28h1v1h-1zM27 22h1v1h-1zM27 27h1v1h-1zM28 24h1v1h-1zM28 28h1v1h-1zM28 34h1v1h-1zM29 7h1v1h-1zM29 28h1v1h-1zM30 7h1v1h-1zM30 22h1v4h-1zM31 23h1v1h-1zM31 26h1v1h-1zM31 28h1v1h-1zM32 8h1v1h-1zM32 26h1v2h-1zM33 29h1v1h-1zM34 11h1v1h-1zM34 25h1v3h-1zM34 31h1v1h-1zM35 24h1v4h-1zM36 11h1v1h-1zM36 15h1v1h-1zM36 30h1v1h-1zM37 13h1v2h-1zM37 29h1v1h-1zM38 13h1v1h-1zM38 16h1v1h-1zM38 18h1v1h-1zM38 24h1v1h-1zM38 26h1v1h-1zM38 29h1v1h-1zM38 33h1v1h-1zM39 13h1v1h-1zM39 17h1v1h-1zM39 20h1v3h-1zM39 29h1v1h-1zM40 20h1v1h-1zM40 26h1v2h-1zM41 18h1v2h-1zM41 25h1v2h-1zM41 30h1v1h-1zM42 19h1v1h-1zM42 22h1v2h-1zM42 30h1v1h-1zM43 17h1v1h-1zM43 20h1v3h-1zM43 30h1v1h-1zM44 23h1v1h-1zM44 30h1v3h-1zM45 19h1v3h-1zM45 24h1v1h-1zM45 30h1v1h-1zM45 35h1v1h-1zM46 14h1v1h-1zM46 19h1v2h-1zM47 23h1v1h-1zM48 24h1v1h-1zM49 24h1v1h-1zM49 32h1v1h-1z"/>
<path fill="#ff904b" d="M5 2h1v1h-1z"/>
<path fill="#55f6ca" d="M5 3h1v1h-1zM13 12h1v1h-1zM28 17h1v1h-1zM33 16h1v1h-1zM35 18h1v1h-1z"/>
<path fill="#78ffb8" d="M5 4h1v1h-1zM16 3h1v1h-1z"/>
<path fill="#6afdc0" d="M5 6h1v1h-1zM6 5h1v1h-1zM16 13h1v1h-1zM19 15h1v1h-1zM21 4h1v1h-1zM22 16h1v1h-1zM22 21h1v1h-1zM27 17h1v1h-1zM29 15h1v1h-1z"/>
<path fill="#64fbc3" d="M5 7h1v1h-1zM18 6h1v1h-1zM27 9h1v1h-1zM31 11h1v1h-1zM32 17h1v1h-1z"/>
<path fill="#09aaee" d="M5 8h1v1h-1zM18 19h1v1h-1zM19 5h1v1h-1zM19 19h1v1h-1zM26 19h1v1h-1zM30 8h1v1h-1zM30 20h1v1h-1zM33 21h1v2h-1zM34 20h1v1h-1zM36 18h1v3h-1zM36 22h1v2h-1zM37 18h1v1h-1zM37 21h1v1h-1zM38 22h1v2h-1zM40 29h1v1h-1zM42 20h1v1h-1z"/>
<path fill="#ff9f54" d="M6 2h1v1h-1zM19 11h1v1h-1z"/>
<path fill="#a6f89e" d="M6 3h1v1h-1zM8 9h1v1h-1zM20 9h1v1h-1z"/>
<path fill="#aff498" d="M6 4h1v1h-1zM20 14h1v1h-1z"/>
<path fill="#8efeac" d="M6 6h1v1h-1zM22 14h1v1h-1z"/>
<path fill="#2f7af7" d="M7 1h1v1h-1zM8 11h1v1h-1zM11 16h1v2h-1zM16 17h1v1h-1zM16 19h1v1h-1zM17 16h1v1h-1zM19 18h1v1h-1zM21 5h1v1h-1zM23 7h1v1h-1zM23 23h1v1h-1zM24 24h1v1h-1zM27 23h1v1h-1zM28 20h1v1h-1zM28 22h1v1h-1zM31 10h1v1h-1zM31 25h1v1h-1zM33 10h1v1h-1zM33 12h1v1h-1zM33 24h1v1h-1zM35 10h1v1h-1zM36 13h1v1h-1zM36 26h1v1h-1zM37 17h1v1h-1zM37 25h1v2h-1zM39 28h1v1h-1z"/>
<path fill="#ffac5c" d="M7 2h1v1h-1zM18 10h1v1h-1z"/>
<path fill="#a7f79d" d="M7 3h1v1h-1zM7 8h1v1h-1zM25 13h1v1h-1z"/>
<path fill="#dad97c" d="M7 4h1v1h-1z"/>
<path fill="#d8da7d" d="M7 5h1v1h-1z"/>
<path fill="#c6e889" d="M7 6h1v1h-1zM18 8h1v1h-1z"/>
<path fill="#a0faa1" d="M7 7h1v1h-1zM27 14h1v1h-1z"/>
<path fill="#22d6e0" d="M7 9h1v1h-1zM16 15h1v1h-1zM22 5h1v1h-1zM23 4h1v1h-1zM23 20h1v1h-1zM24 4h1v1h-1zM24 6h1v1h-1zM24 20h1v1h-1zM25 5h1v1h-1zM26 4h1v2h-1zM27 21h1v1h-1zM28 7h1v1h-1zM32 11h1v1h-1zM32 19h1v1h-1zM33 20h1v1h-1zM37 22h1v1h-1z"/>
<path fill="#ffb160" d="M8 1h1v1h-1z"/>
<path fill="#f2c26b" d="M8 2h1v1h-1z"/>
<path fill="#d0e183" d="M8 3h1v1h-1z"/>
<path fill="#ffa95b" d="M8 4h1v1h-1z"/>
<path fill="#ffb05f" d="M8 5h1v1h-1zM11 2h1v1h-1zM25 11h1v1h-1z"/>
<path fill="#ffb260" d="M8 6h1v1h-1zM13 8h1v1h-1zM15 11h1v1h-1z"/>
<path fill="#fdb663" d="M8 7h1v1h-1zM19 13h1v1h-1z"/>
<path fill="#e9cb71" d="M8 8h1v1h-1z"/>
<path fill="#37e6d8" d="M8 10h1v1h-1zM13 13h1v1h-1zM23 22h1v1h-1zM24 7h1v1h-1zM24 21h1v1h-1zM25 21h1v1h-1zM28 15h1v1h-1zM31 16h1v1h-1zM34 17h1v1h-1zM35 16h1v1h-1z"/>
<path fill="#cee284" d="M9 1h1v1h-1z"/>
<path fill="#e1d377" d="M9 2h1v1h-1z"/>
<path fill="#e7cd73" d="M9 3h1v1h-1zM21 12h1v1h-1z"/>
<path fill="#ff8746" d="M9 4h1v1h-1zM17 8h1v1h-1z"/>
<path fill="#ff934d" d="M9 5h1v1h-1z"/>
<path fill="#ff8c49" d="M9 6h1v1h-1zM13 3h1v1h-1z"/>
<path fill="#ffaf5e" d="M9 7h1v1h-1zM10 3h1v1h-1z"/>
<path fill="#feb662" d="M9 8h1v1h-1z"/>
<path fill="#e4d075" d="M9 9h1v1h-1z"/>
<path fill="#76ffba" d="M9 10h1v1h-1zM18 5h1v1h-1zM25 16h1v1h-1zM30 15h1v1h-1z"/>
<path fill="#67fcc1" d="M10 1h1v1h-1zM19 7h1v1h-1zM20 17h1v1h-1zM23 18h1v1h-1zM24 18h1v1h-1zM26 8h1v1h-1zM27 16h1v1h-1zM27 18h1v1h-1zM28 8h1v1h-1zM30 17h1v1h-1zM32 12h1v1h-1z"/>
<path fill="#ff9850" d="M10 2h1v1h-1zM16 7h1v1h-1z"/>
<path fill="#ff0905" d="M10 4h1v1h-1z"/>
<path fill="#ff5129" d="M10 5h1v1h-1zM15 8h1v1h-1z"/>
<path fill="#ff8445" d="M10 6h1v1h-1z"/>
<path fill="#f4c16a" d="M10 7h1v1h-1zM25 9h1v1h-1z"/>
<path fill="#cce486" d="M10 8h1v1h-1z"/>
<path fill="#cae587" d="M10 9h1v1h-1z"/>
<path fill="#aef599" d="M10 10h1v1h-1zM17 5h1v1h-1z"/>
<path fill="#99fca6" d="M10 11h1v1h-1zM17 4h1v1h-1zM23 16h1v1h-1zM26 13h1v1h-1zM30 12h1v1h-1z"/>
<path fill="#04b9ea" d="M11 1h1v1h-1zM16 18h1v1h-1zM17 2h1v1h-1zM19 17h1v1h-1zM24 22h1v1h-1zM25 6h1v1h-1zM26 21h1v1h-1zM26 23h1v1h-1zM29 19h1v1h-1zM31 21h1v1h-1zM32 10h1v1h-1zM33 11h1v1h-1zM35 11h1v2h-1zM36 24h1v1h-1zM37 24h1v1h-1zM38 19h1v1h-1zM42 26h1v1h-1z"/>
<path fill="#fab965" d="M11 3h1v1h-1z"/>
<path fill="#ff3018" d="M11 4h1v1h-1z"/>
<path fill="#ff592d" d="M11 5h1v1h-1z"/>
<path fill="#ff9d53" d="M11 6h1v1h-1zM16 11h1v1h-1z"/>
<path fill="#faba65" d="M11 7h1v1h-1z"/>
<path fill="#d9d97c" d="M11 8h1v1h-1z"/>
<path fill="#b4f295" d="M11 9h1v1h-1zM18 14h1v1h-1zM25 12h1v1h-1zM27 10h1v1h-1z"/>
<path fill="#9dfba3" d="M11 10h1v1h-1zM21 16h1v1h-1zM24 15h1v1h-1z"/>
<path fill="#c7e688" d="M12 2h1v1h-1zM16 4h1v1h-1z"/>
<path fill="#ff713a" d="M12 3h1v1h-1z"/>
<path fill="#ff0000" d="M12 4h1v1h-1z"/>
<path fill="#ff2714" d="M12 5h1v1h-1z"/>
<path fill="#ff4f28" d="M12 6h1v1h-1z"/>
<path fill="#ffa055" d="M12 7h1v1h-1z"/>
<path fill="#ffb461" d="M12 8h1v1h-1z"/>
<path fill="#d3de81" d="M12 9h1v1h-1z"/>
<path fill="#9ffaa2" d="M12 10h1v1h-1zM15 2h1v1h-1zM22 10h1v1h-1z"/>
<path fill="#84ffb2" d="M12 11h1v1h-1zM15 3h1v1h-1zM20 8h1v1h-1zM22 7h1v1h-1zM22 9h1v1h-1zM22 20h1v1h-1zM25 17h1v1h-1zM32 14h1v1h-1z"/>
<path fill="#1a96f3" d="M12 13h1v1h-1zM18 17h1v1h-1zM20 18h1v1h-1zM21 21h1v1h-1zM23 6h1v1h-1zM24 23h1v1h-1zM25 4h1v1h-1zM25 23h1v1h-1zM27 24h1v1h-1zM29 8h1v1h-1zM30 9h1v1h-1zM32 9h1v1h-1zM33 23h1v1h-1zM35 20h1v1h-1zM36 12h1v1h-1zM37 16h1v1h-1zM38 20h1v1h-1zM38 25h1v1h-1zM38 27h1v1h-1zM39 25h1v3h-1zM40 21h1v1h-1z"/>
<path fill="#a2f9a0" d="M13 2h1v1h-1zM31 15h1v1h-1zM32 16h1v1h-1z"/>
<path fill="#ff2a15" d="M13 4h1v1h-1z"/>
<path fill="#ff2914" d="M13 5h1v1h-1z"/>
<path fill="#ff3b1e" d="M13 6h1v1h-1z"/>
<path fill="#ff5c2f" d="M13 7h1v1h-1z"/>
<path fill="#cde284" d="M13 9h1v1h-1z"/>
<path fill="#aaf69b" d="M13 10h1v1h-1zM17 13h1v1h-1z"/>
<path fill="#a3f99f" d="M13 11h1v1h-1zM27 11h1v1h-1z"/>
<path fill="#97fca7" d="M14 2h1v1h-1z"/>
<path fill="#cce385" d="M14 3h1v1h-1zM24 9h1v1h-1z"/>
<path fill="#ff7a3f" d="M14 4h1v1h-1zM15 5h1v1h-1z"/>
<path fill="#ff9e54" d="M14 5h1v1h-1z"/>
<path fill="#ff532a" d="M14 6h1v1h-1z"/>
<path fill="#ff3b1d" d="M14 7h1v1h-1z"/>
<path fill="#ff4824" d="M14 8h1v1h-1z"/>
<path fill="#ffa85a" d="M14 9h1v1h-1zM18 11h1v1h-1z"/>
<path fill="#e0d478" d="M14 10h1v1h-1z"/>
<path fill="#b2f396" d="M14 11h1v1h-1zM21 15h1v1h-1zM27 12h1v1h-1z"/>
<path fill="#6dfdbe" d="M14 13h1v1h-1zM28 16h1v1h-1z"/>
<path fill="#ff9c52" d="M15 4h1v1h-1z"/>
<path fill="#ffa759" d="M15 6h1v1h-1zM18 9h1v1h-1z"/>
<path fill="#ff3e1f" d="M15 7h1v1h-1z"/>
<path fill="#ff793e" d="M15 9h1v1h-1z"/>
<path fill="#f5bf69" d="M15 10h1v1h-1z"/>
<path fill="#abf69a" d="M15 12h1v1h-1zM18 7h1v1h-1z"/>
<path fill="#73febb" d="M15 13h1v1h-1zM21 7h1v2h-1zM33 15h1v1h-1z"/>
<path fill="#5df9c6" d="M16 2h1v1h-1zM21 20h1v1h-1zM25 15h1v1h-1zM26 17h1v1h-1zM28 18h1v1h-1zM31 12h1v1h-1z"/>
<path fill="#ffb462" d="M16 5h1v1h-1z"/>
<path fill="#fbb864" d="M16 6h1v1h-1z"/>
<path fill="#ff8f4b" d="M16 8h1v1h-1z"/>
<path fill="#ff7e41" d="M16 9h1v1h-1zM17 10h1v1h-1z"/>
<path fill="#ffa659" d="M16 10h1v1h-1z"/>
<path fill="#d0e082" d="M16 12h1v1h-1zM19 9h1v1h-1z"/>
<path fill="#ffb361" d="M17 6h1v1h-1z"/>
<path fill="#ffad5d" d="M17 7h1v1h-1z"/>
<path fill="#ff8b48" d="M17 9h1v1h-1z"/>
<path fill="#ff8243" d="M17 11h1v1h-1z"/>
<path fill="#ff9a51" d="M17 12h1v1h-1z"/>
<path fill="#9cfba4" d="M17 14h1v1h-1zM23 8h1v1h-1zM24 13h1v1h-1zM28 12h1v1h-1zM32 15h1v1h-1z"/>
<path fill="#f7bd67" d="M18 12h1v1h-1zM26 11h1v1h-1z"/>
<path fill="#f0c46c" d="M18 13h1v1h-1z"/>
<path fill="#8afeae" d="M18 15h1v1h-1zM23 12h1v1h-1z"/>
<path fill="#59f8c8" d="M18 16h1v1h-1zM22 17h1v1h-1zM24 19h1v1h-1zM28 9h1v1h-1zM35 17h1v1h-1z"/>
<path fill="#7bffb7" d="M19 6h1v1h-1zM33 14h1v1h-1zM33 17h1v1h-1z"/>
<path fill="#f1c36c" d="M19 10h1v1h-1z"/>
<path fill="#ffaa5b" d="M19 12h1v1h-1z"/>
<path fill="#a9f79c" d="M19 14h1v1h-1zM24 12h1v1h-1z"/>
<path fill="#48f0d0" d="M20 6h1v1h-1zM22 22h1v1h-1zM29 16h1v1h-1z"/>
<path fill="#edc76e" d="M20 10h1v1h-1z"/>
<path fill="#e8cc72" d="M20 11h1v1h-1z"/>
<path fill="#efc56d" d="M20 12h1v1h-1z"/>
<path fill="#b7f093" d="M20 13h1v1h-1z"/>
<path fill="#94fda9" d="M20 15h1v1h-1zM25 19h1v1h-1zM26 9h1v1h-1z"/>
<path fill="#80ffb4" d="M20 16h1v1h-1zM31 14h1v1h-1zM33 13h1v1h-1z"/>
<path fill="#b5f194" d="M21 9h1v1h-1zM31 13h1v1h-1z"/>
<path fill="#9afca5" d="M21 10h1v1h-1zM24 14h1v1h-1z"/>
<path fill="#d6db7e" d="M21 11h1v1h-1z"/>
<path fill="#c1ea8c" d="M21 13h1v1h-1z"/>
<path fill="#d5dd7f" d="M21 14h1v1h-1z"/>
<path fill="#88ffaf" d="M21 17h1v1h-1zM23 19h1v1h-1z"/>
<path fill="#c8e688" d="M22 11h1v1h-1z"/>
<path fill="#beec8e" d="M22 12h1v2h-1z"/>
<path fill="#a5f89f" d="M22 15h1v1h-1zM27 13h1v1h-1zM28 14h1v1h-1z"/>
<path fill="#70febd" d="M22 18h1v1h-1z"/>
<path fill="#95fda8" d="M22 19h1v1h-1zM28 10h1v1h-1z"/>
<path fill="#f3c26a" d="M23 9h1v1h-1z"/>
<path fill="#f5bf68" d="M23 10h1v1h-1zM24 10h1v1h-1z"/>
<path fill="#f5c069" d="M23 11h1v1h-1z"/>
<path fill="#c3e98b" d="M23 13h1v1h-1z"/>
<path fill="#b0f497" d="M23 15h1v1h-1z"/>
<path fill="#90feab" d="M23 17h1v1h-1zM26 12h1v1h-1zM29 11h1v1h-1z"/>
<path fill="#43edd3" d="M24 8h1v1h-1zM27 15h1v1h-1zM29 20h1v1h-1zM30 10h1v2h-1zM35 22h1v1h-1zM37 20h1v1h-1z"/>
<path fill="#dcd67a" d="M24 11h1v1h-1z"/>
<path fill="#7dffb6" d="M24 16h1v1h-1zM29 14h1v1h-1z"/>
<path fill="#92fdaa" d="M25 8h1v1h-1z"/>
<path fill="#f0c46d" d="M25 10h1v1h-1z"/>
<path fill="#b6f194" d="M26 10h1v1h-1zM29 13h1v1h-1z"/>
<path fill="#b8f092" d="M26 14h1v1h-1z"/>
<path fill="#61fac5" d="M26 18h1v1h-1zM27 8h1v1h-1zM31 17h1v1h-1z"/>
<path fill="#b1f397" d="M32 13h1v1h-1z"/>
</g></g></g>
<g clip-path="url(#c1)" stroke="#6c6c6c" fill="#6c6c6c">
<path d="M240.5 689.8V653.8M288.6 675.1V633.2M336.6 674.3V639.6M384.7 667.9V629.7M432.7 648.4V604.9M480.8 635.6V592.9M528.8 630.2V576.9M576.9 631.9V561.2M624.9 631.9V565.1M673.0 612.4V547.8M721.0 592.4V533.2M769.1 588.8V531.5M817.1 583.6V504.2M865.2 543.0V468.7M913.2 539.7V466.1" fill="none" stroke-width="4.0"/>
<path d="M229.9 689.8h21.2M229.9 653.8h21.2M278.0 675.1h21.2M278.0 633.2h21.2M326.0 674.3h21.2M326.0 639.6h21.2M374.1 667.9h21.2M374.1 629.7h21.2M422.1 648.4h21.2M422.1 604.9h21.2M470.2 635.6h21.2M470.2 592.9h21.2M518.2 630.2h21.2M518.2 576.9h21.2M566.3 631.9h21.2M566.3 561.2h21.2M614.3 631.9h21.2M614.3 565.1h21.2M662.4 612.4h21.2M662.4 547.8h21.2M710.4 592.4h21.2M710.4 533.2h21.2M758.5 588.8h21.2M758.5 531.5h21.2M806.5 583.6h21.2M806.5 504.2h21.2M854.6 543.0h21.2M854.6 468.7h21.2M902.6 539.7h21.2M902.6 466.1h21.2" fill="none" stroke-width="2.2" />
<polyline points="240.5,672.0 288.6,654.6 336.6,657.7 384.7,648.4 432.7,626.3 480.8,614.5 528.8,603.1 576.9,596.4 624.9,598.5 673.0,580.3 721.0,563.0 769.1,559.9 817.1,543.5 865.2,505.5 913.2,502.9" fill="none" stroke-width="3.4" stroke-linejoin="round"/>
<rect x="233.1" y="664.6" width="14.8" height="14.8" stroke="none"/>
<rect x="281.2" y="647.2" width="14.8" height="14.8" stroke="none"/>
<rect x="329.2" y="650.3" width="14.8" height="14.8" stroke="none"/>
<rect x="377.3" y="641.0" width="14.8" height="14.8" stroke="none"/>
<rect x="425.3" y="618.9" width="14.8" height="14.8" stroke="none"/>
<rect x="473.4" y="607.1" width="14.8" height="14.8" stroke="none"/>
<rect x="521.4" y="595.7" width="14.8" height="14.8" stroke="none"/>
<rect x="569.5" y="589.0" width="14.8" height="14.8" stroke="none"/>
<rect x="617.5" y="591.1" width="14.8" height="14.8" stroke="none"/>
<rect x="665.6" y="572.9" width="14.8" height="14.8" stroke="none"/>
<rect x="713.6" y="555.6" width="14.8" height="14.8" stroke="none"/>
<rect x="761.7" y="552.5" width="14.8" height="14.8" stroke="none"/>
<rect x="809.7" y="536.1" width="14.8" height="14.8" stroke="none"/>
<rect x="857.8" y="498.1" width="14.8" height="14.8" stroke="none"/>
<rect x="905.8" y="495.5" width="14.8" height="14.8" stroke="none"/>
</g>
</g>
<g id="panel2">
<clipPath id="c2"><rect x="120.40" y="699.80" width="961.00" height="325.70"/></clipPath>
<g clip-path="url(#c2)"><g><g transform="translate(120.400 1025.500) scale(19.2200 -2.9609)" shape-rendering="crispEdges">
<path fill="#8000ff" d="M2 100h1v1h-1zM2 107h1v1h-1zM3 65h1v1h-1zM3 72h1v1h-1zM3 80h1v1h-1zM3 93h1v1h-1zM3 100h1v1h-1zM3 107h1v1h-1zM4 71h1v1h-1zM4 77h1v1h-1zM4 79h1v1h-1zM4 94h1v1h-1zM4 102h1v2h-1zM5 56h1v2h-1zM5 72h1v1h-1zM5 76h1v1h-1zM5 104h1v2h-1zM6 42h1v1h-1zM6 71h1v1h-1zM6 73h1v1h-1zM7 45h1v1h-1zM7 53h1v1h-1zM7 107h1v2h-1zM8 42h1v1h-1zM8 45h1v1h-1zM9 106h1v2h-1zM10 97h1v2h-1zM11 27h1v1h-1zM11 84h1v2h-1zM11 90h1v1h-1zM11 95h1v8h-1zM11 109h1v1h-1zM12 28h1v1h-1zM12 86h1v4h-1zM12 91h1v1h-1zM12 95h1v1h-1zM13 25h1v1h-1zM13 92h1v3h-1zM13 105h1v1h-1zM14 93h1v1h-1zM15 21h1v1h-1zM15 98h1v1h-1zM15 102h1v1h-1zM16 18h1v1h-1zM16 82h1v1h-1zM16 96h1v2h-1zM17 17h1v1h-1zM17 74h1v1h-1zM17 76h1v1h-1zM17 83h1v1h-1zM17 88h1v1h-1zM17 93h1v2h-1zM18 15h1v1h-1zM18 66h1v1h-1zM18 72h1v1h-1zM18 78h1v1h-1zM18 85h1v2h-1zM18 90h1v1h-1zM19 9h1v1h-1zM19 13h1v1h-1zM19 67h1v1h-1zM19 72h1v1h-1zM19 82h1v2h-1zM19 91h1v1h-1zM20 57h1v1h-1zM20 62h1v4h-1zM20 76h1v2h-1zM20 92h1v1h-1zM21 8h1v1h-1zM21 52h1v1h-1zM21 57h1v7h-1zM21 78h1v1h-1zM21 84h1v2h-1zM21 92h1v1h-1zM22 47h1v1h-1zM22 53h1v1h-1zM22 58h1v1h-1zM22 63h1v8h-1zM22 73h1v1h-1zM22 76h1v1h-1zM22 82h1v2h-1zM23 8h1v1h-1zM23 53h1v1h-1zM23 60h1v6h-1zM23 69h1v1h-1zM23 73h1v1h-1zM23 79h1v2h-1zM24 8h1v1h-1zM24 10h1v1h-1zM24 48h1v1h-1zM24 50h1v2h-1zM24 56h1v8h-1zM24 74h1v1h-1zM24 81h1v2h-1zM25 9h1v1h-1zM25 16h1v1h-1zM25 43h1v1h-1zM25 49h1v1h-1zM25 58h1v10h-1zM25 76h1v2h-1zM25 84h1v1h-1zM26 9h1v1h-1zM26 40h1v1h-1zM26 50h1v1h-1zM26 56h1v4h-1zM26 70h1v4h-1zM26 84h1v1h-1zM27 9h1v1h-1zM27 51h1v2h-1zM27 54h1v1h-1zM27 61h1v1h-1zM27 65h1v1h-1zM27 70h1v1h-1zM28 10h1v1h-1zM28 46h1v1h-1zM28 53h1v1h-1zM28 64h1v1h-1zM28 69h1v1h-1zM29 11h1v1h-1zM29 44h1v1h-1zM29 47h1v1h-1zM29 51h1v4h-1zM29 57h1v1h-1zM30 35h1v1h-1zM30 50h1v1h-1zM31 32h1v2h-1zM31 37h1v2h-1zM31 40h1v1h-1zM31 42h1v2h-1zM31 48h1v1h-1zM31 51h1v1h-1zM32 36h1v2h-1zM32 39h1v1h-1zM32 42h1v3h-1zM32 65h1v1h-1zM32 75h1v1h-1zM32 78h1v1h-1zM33 8h1v1h-1zM33 26h1v1h-1zM33 29h1v2h-1zM33 34h1v1h-1zM33 46h1v1h-1zM33 61h1v1h-1zM34 9h1v1h-1zM34 20h1v1h-1zM34 22h1v2h-1zM34 30h1v2h-1zM34 34h1v1h-1zM34 56h1v1h-1zM34 64h1v1h-1zM34 69h1v1h-1zM35 16h1v5h-1zM35 24h1v2h-1zM35 29h1v1h-1zM35 32h1v2h-1zM35 47h1v1h-1zM35 49h1v1h-1zM35 51h1v1h-1zM35 57h1v1h-1zM36 16h1v7h-1zM36 31h1v1h-1zM36 36h1v2h-1zM36 57h1v1h-1zM36 61h1v1h-1zM37 10h1v1h-1zM37 17h1v1h-1zM37 19h1v5h-1zM37 29h1v3h-1zM37 36h1v1h-1zM37 44h1v1h-1zM37 64h1v1h-1zM38 8h1v3h-1zM38 19h1v3h-1zM38 44h1v1h-1zM39 9h1v1h-1zM39 11h1v1h-1zM39 20h1v1h-1zM39 22h1v1h-1zM39 28h1v2h-1zM40 9h1v1h-1zM40 11h1v1h-1zM40 23h1v1h-1zM40 30h1v2h-1zM40 48h1v1h-1zM41 11h1v1h-1zM41 19h1v1h-1zM41 23h1v1h-1zM41 30h1v1h-1zM41 36h1v1h-1zM42 8h1v1h-1zM42 16h1v1h-1zM42 25h1v4h-1zM43 18h1v1h-1zM43 28h1v1h-1zM43 30h1v1h-1zM44 11h1v1h-1zM45 30h1v1h-1zM46 11h1v1h-1zM49 14h1v1h-1z"/>
<path fill="#0ec3e7" d="M2 101h1v1h-1zM3 62h1v1h-1zM3 76h1v1h-1zM4 76h1v1h-1zM4 83h1v1h-1zM4 86h1v1h-1zM5 73h1v1h-1zM5 75h1v1h-1zM5 91h1v1h-1zM6 56h1v1h-1zM6 72h1v1h-1zM6 78h1v1h-1zM8 59h1v1h-1zM8 102h1v1h-1zM9 27h1v1h-1zM9 102h1v1h-1zM10 27h1v1h-1zM10 107h1v1h-1zM11 103h1v1h-1zM12 84h1v1h-1zM12 98h1v1h-1zM12 103h1v1h-1zM13 87h1v1h-1zM14 92h1v1h-1zM15 90h1v1h-1zM15 92h1v1h-1zM17 79h1v1h-1zM18 18h1v1h-1zM18 62h1v1h-1zM18 65h1v1h-1zM18 69h1v1h-1zM18 73h1v1h-1zM19 64h1v1h-1zM20 14h1v1h-1zM20 22h1v1h-1zM20 61h1v1h-1zM21 14h1v1h-1zM21 46h1v1h-1zM21 53h1v1h-1zM21 88h1v2h-1zM22 59h1v1h-1zM22 61h1v1h-1zM23 12h1v1h-1zM23 52h1v1h-1zM23 56h1v1h-1zM24 12h1v1h-1zM24 43h1v1h-1zM25 40h1v1h-1zM25 42h1v1h-1zM25 44h1v1h-1zM26 37h1v1h-1zM26 45h1v1h-1zM26 47h1v1h-1zM26 49h1v1h-1zM26 76h1v1h-1zM27 11h1v1h-1zM27 36h1v1h-1zM27 45h1v1h-1zM27 55h1v1h-1zM28 48h1v1h-1zM28 50h1v1h-1zM28 54h1v1h-1zM29 29h1v1h-1zM29 36h1v1h-1zM29 40h1v1h-1zM29 48h1v1h-1zM30 15h1v1h-1zM30 37h1v1h-1zM30 46h1v1h-1zM30 57h1v1h-1zM31 30h1v1h-1zM31 35h1v1h-1zM32 10h1v1h-1zM32 28h1v1h-1zM32 30h1v1h-1zM32 33h1v1h-1zM33 14h1v1h-1zM33 25h1v1h-1zM33 31h1v1h-1zM33 33h1v1h-1zM33 38h1v1h-1zM34 21h1v1h-1zM34 26h1v1h-1zM34 28h1v1h-1zM36 27h1v1h-1zM36 32h1v1h-1zM37 16h1v1h-1zM37 24h1v2h-1z"/>
<path fill="#396bf9" d="M2 102h1v1h-1zM4 63h1v1h-1zM4 72h1v2h-1zM4 75h1v1h-1zM5 61h1v1h-1zM5 70h1v2h-1zM5 77h1v1h-1zM6 57h1v3h-1zM6 65h1v1h-1zM6 70h1v1h-1zM7 55h1v1h-1zM7 66h1v1h-1zM7 106h1v1h-1zM8 41h1v1h-1zM10 96h1v1h-1zM10 104h1v2h-1zM11 89h1v1h-1zM11 93h1v1h-1zM11 104h1v1h-1zM12 85h1v1h-1zM12 93h1v1h-1zM13 28h1v1h-1zM14 28h1v2h-1zM14 104h1v1h-1zM15 84h1v1h-1zM15 88h1v2h-1zM16 79h1v1h-1zM17 57h1v1h-1zM17 68h1v1h-1zM17 77h1v1h-1zM17 80h1v2h-1zM17 84h1v2h-1zM18 68h1v1h-1zM18 74h1v1h-1zM19 11h1v2h-1zM19 66h1v1h-1zM19 75h1v1h-1zM20 55h1v2h-1zM20 58h1v1h-1zM20 60h1v1h-1zM21 55h1v1h-1zM21 66h1v1h-1zM22 48h1v1h-1zM22 51h1v1h-1zM22 54h1v1h-1zM22 60h1v1h-1zM22 72h1v1h-1zM23 10h1v1h-1zM23 13h1v1h-1zM23 47h1v1h-1zM23 50h1v1h-1zM24 44h1v2h-1zM24 49h1v1h-1zM25 48h1v1h-1zM25 50h1v3h-1zM25 56h1v1h-1zM25 71h1v1h-1zM26 11h1v3h-1zM26 61h1v4h-1zM27 47h1v1h-1zM27 49h1v1h-1zM28 11h1v1h-1zM28 24h1v1h-1zM28 47h1v1h-1zM28 49h1v1h-1zM28 51h1v1h-1zM29 17h1v1h-1zM29 32h1v1h-1zM29 38h1v1h-1zM30 30h1v1h-1zM30 47h1v1h-1zM31 28h1v1h-1zM31 36h1v1h-1zM31 39h1v1h-1zM32 29h1v1h-1zM32 32h1v1h-1zM32 38h1v1h-1zM33 35h1v1h-1zM33 37h1v1h-1zM33 41h1v1h-1zM34 18h1v1h-1zM34 25h1v1h-1zM34 27h1v1h-1zM34 29h1v1h-1zM34 32h1v1h-1zM35 27h1v2h-1zM35 31h1v1h-1zM36 15h1v1h-1zM36 26h1v1h-1zM37 15h1v1h-1zM37 26h1v1h-1zM38 11h1v1h-1zM38 24h1v1h-1zM39 10h1v1h-1zM39 23h1v1h-1zM39 25h1v1h-1zM40 19h1v1h-1zM40 25h1v1h-1zM40 28h1v1h-1z"/>
<path fill="#10a2f0" d="M2 103h1v1h-1zM2 108h1v1h-1zM3 63h1v1h-1zM3 77h1v1h-1zM3 87h1v1h-1zM4 74h1v1h-1zM5 81h1v1h-1zM6 61h1v1h-1zM6 64h1v1h-1zM6 96h1v1h-1zM6 100h1v1h-1zM7 58h1v1h-1zM7 67h1v2h-1zM7 71h1v1h-1zM9 101h1v1h-1zM9 104h1v1h-1zM10 90h1v1h-1zM10 92h1v1h-1zM10 99h1v1h-1zM10 102h1v2h-1zM11 82h1v2h-1zM11 86h1v2h-1zM11 106h1v1h-1zM12 90h1v1h-1zM14 26h1v1h-1zM14 105h1v1h-1zM15 87h1v1h-1zM15 93h1v1h-1zM16 80h1v1h-1zM16 83h1v1h-1zM17 20h1v1h-1zM17 78h1v1h-1zM17 82h1v1h-1zM18 16h1v2h-1zM18 19h1v1h-1zM18 67h1v1h-1zM18 75h1v3h-1zM18 81h1v1h-1zM19 62h1v1h-1zM20 52h1v1h-1zM20 59h1v1h-1zM20 69h1v3h-1zM20 73h1v1h-1zM21 43h1v1h-1zM21 49h1v2h-1zM21 54h1v1h-1zM21 65h1v1h-1zM21 67h1v1h-1zM22 55h1v3h-1zM23 11h1v1h-1zM23 46h1v1h-1zM23 49h1v1h-1zM23 51h1v1h-1zM23 57h1v1h-1zM23 68h1v1h-1zM24 11h1v1h-1zM24 41h1v1h-1zM24 52h1v1h-1zM24 68h1v3h-1zM25 45h1v1h-1zM25 53h1v1h-1zM25 55h1v1h-1zM25 57h1v1h-1zM25 73h1v1h-1zM26 48h1v1h-1zM26 51h1v1h-1zM26 53h1v1h-1zM26 65h1v2h-1zM27 10h1v1h-1zM27 38h1v1h-1zM27 40h1v1h-1zM27 43h1v1h-1zM27 50h1v1h-1zM28 33h1v1h-1zM28 40h1v1h-1zM28 44h1v2h-1zM28 52h1v1h-1zM28 55h1v1h-1zM29 37h1v1h-1zM30 29h1v1h-1zM30 33h1v1h-1zM30 56h1v1h-1zM31 15h1v1h-1zM32 11h1v1h-1zM32 26h1v1h-1zM32 35h1v1h-1zM33 24h1v1h-1zM34 24h1v1h-1zM34 33h1v1h-1zM35 21h1v1h-1zM35 37h1v1h-1zM36 24h1v1h-1zM36 30h1v1h-1zM37 8h1v1h-1zM37 28h1v1h-1zM38 26h1v2h-1zM39 24h1v1h-1zM40 32h1v1h-1zM40 34h1v1h-1z"/>
<path fill="#24d8df" d="M3 82h1v1h-1zM4 61h1v1h-1zM4 82h1v1h-1zM4 89h1v1h-1zM5 84h1v1h-1zM5 97h1v1h-1zM6 77h1v1h-1zM6 91h1v2h-1zM7 52h1v1h-1zM7 59h1v1h-1zM7 72h1v1h-1zM7 89h1v1h-1zM7 94h1v1h-1zM8 43h1v1h-1zM8 101h1v1h-1zM8 107h1v1h-1zM9 99h1v1h-1zM10 88h1v1h-1zM10 91h1v1h-1zM11 77h1v1h-1zM12 77h1v1h-1zM12 81h1v1h-1zM13 81h1v1h-1zM13 89h1v1h-1zM13 100h1v1h-1zM14 74h1v1h-1zM14 95h1v1h-1zM14 102h1v1h-1zM15 72h1v1h-1zM15 83h1v1h-1zM16 19h1v1h-1zM16 69h1v1h-1zM16 89h1v1h-1zM17 61h1v1h-1zM17 66h1v1h-1zM17 69h1v1h-1zM18 57h1v1h-1zM18 63h1v1h-1zM18 70h1v2h-1zM19 54h1v1h-1zM19 57h1v1h-1zM20 12h1v1h-1zM20 51h1v1h-1zM21 10h1v2h-1zM21 15h1v1h-1zM21 44h1v2h-1zM21 56h1v1h-1zM22 13h1v2h-1zM22 46h1v1h-1zM22 52h1v1h-1zM23 9h1v1h-1zM23 36h1v1h-1zM23 41h1v1h-1zM23 45h1v1h-1zM23 54h1v1h-1zM24 13h1v1h-1zM24 42h1v1h-1zM24 53h1v1h-1zM25 47h1v1h-1zM25 70h1v1h-1zM26 43h1v1h-1zM26 55h1v1h-1zM27 42h1v1h-1zM27 44h1v1h-1zM27 53h1v1h-1zM28 16h1v1h-1zM28 18h1v1h-1zM28 32h1v1h-1zM28 43h1v1h-1zM29 16h1v1h-1zM29 41h1v1h-1zM30 27h1v1h-1zM30 36h1v1h-1zM30 40h1v1h-1zM30 45h1v1h-1zM31 24h1v1h-1zM31 29h1v1h-1zM31 34h1v1h-1zM32 15h1v1h-1zM32 24h1v2h-1zM32 31h1v1h-1zM33 13h1v1h-1zM33 21h1v3h-1zM33 32h1v1h-1zM33 40h1v1h-1zM35 10h1v1h-1zM36 9h1v1h-1zM39 26h1v1h-1z"/>
<path fill="#37e6d8" d="M3 83h1v1h-1zM4 78h1v1h-1zM4 87h1v1h-1zM5 64h1v1h-1zM6 74h1v3h-1zM6 94h1v1h-1zM6 99h1v1h-1zM7 62h1v1h-1zM7 65h1v1h-1zM7 70h1v1h-1zM7 96h1v2h-1zM8 34h1v1h-1zM8 37h1v1h-1zM8 40h1v1h-1zM8 47h1v1h-1zM10 28h1v1h-1zM10 30h1v1h-1zM10 87h1v1h-1zM10 93h1v1h-1zM10 95h1v1h-1zM11 76h1v1h-1zM11 78h1v1h-1zM11 91h1v1h-1zM12 29h1v1h-1zM12 99h1v1h-1zM13 88h1v1h-1zM13 98h1v1h-1zM14 94h1v1h-1zM15 63h1v1h-1zM15 70h1v1h-1zM16 20h1v1h-1zM16 72h1v1h-1zM16 78h1v1h-1zM16 84h1v1h-1zM16 87h1v1h-1zM17 18h1v1h-1zM17 63h1v1h-1zM17 65h1v1h-1zM17 73h1v1h-1zM17 75h1v1h-1zM18 59h1v1h-1zM19 61h1v1h-1zM20 11h1v1h-1zM20 19h1v1h-1zM20 50h1v1h-1zM20 72h1v1h-1zM21 13h1v1h-1zM22 12h1v1h-1zM22 45h1v1h-1zM22 49h1v1h-1zM23 43h1v1h-1zM23 55h1v1h-1zM24 33h1v1h-1zM24 46h1v2h-1zM25 10h1v1h-1zM25 39h1v1h-1zM25 41h1v1h-1zM26 39h1v1h-1zM26 60h1v1h-1zM28 42h1v1h-1zM29 33h1v2h-1zM29 39h1v1h-1zM30 20h1v1h-1zM30 34h1v1h-1zM31 26h1v1h-1zM32 12h1v1h-1zM32 34h1v1h-1zM34 19h1v1h-1zM36 10h1v1h-1zM36 28h1v1h-1zM39 27h1v1h-1z"/>
<path fill="#75feba" d="M3 84h1v1h-1zM3 86h1v1h-1zM4 90h1v1h-1zM5 62h1v1h-1zM7 69h1v1h-1zM8 57h1v1h-1zM8 66h1v1h-1zM8 100h1v1h-1zM8 103h1v1h-1zM9 32h1v1h-1zM10 31h1v1h-1zM10 63h1v1h-1zM10 89h1v1h-1zM11 30h1v1h-1zM11 74h1v1h-1zM12 101h1v2h-1zM13 82h1v2h-1zM15 82h1v1h-1zM15 85h1v1h-1zM16 67h1v1h-1zM17 46h1v1h-1zM18 55h1v1h-1zM19 33h1v1h-1zM19 42h1v1h-1zM20 15h1v1h-1zM20 53h1v1h-1zM21 37h1v1h-1zM22 9h1v2h-1zM22 31h1v1h-1zM22 37h1v1h-1zM22 40h1v1h-1zM23 30h1v1h-1zM23 39h1v1h-1zM23 42h1v1h-1zM24 37h1v1h-1zM26 38h1v1h-1zM27 24h1v1h-1zM28 15h1v1h-1zM30 21h1v1h-1zM30 25h1v1h-1zM30 38h1v1h-1zM31 25h1v1h-1zM33 11h1v1h-1zM34 10h1v1h-1z"/>
<path fill="#60fac5" d="M3 85h1v1h-1zM4 81h1v1h-1zM4 84h1v1h-1zM5 63h1v1h-1zM5 80h1v1h-1zM5 95h1v1h-1zM7 64h1v1h-1zM7 76h1v1h-1zM7 84h1v1h-1zM7 99h1v1h-1zM9 28h1v2h-1zM9 36h1v1h-1zM9 88h1v1h-1zM9 98h1v1h-1zM9 103h1v1h-1zM12 30h1v1h-1zM12 79h1v1h-1zM13 29h1v1h-1zM13 31h1v1h-1zM13 80h1v1h-1zM13 86h1v1h-1zM14 78h1v1h-1zM14 87h1v1h-1zM15 71h1v1h-1zM16 70h1v1h-1zM17 58h1v1h-1zM17 67h1v1h-1zM18 58h1v1h-1zM20 9h1v2h-1zM20 38h1v1h-1zM21 47h1v1h-1zM22 11h1v1h-1zM23 19h1v1h-1zM23 33h1v1h-1zM24 35h1v1h-1zM24 40h1v1h-1zM25 33h1v1h-1zM26 33h1v1h-1zM26 46h1v1h-1zM26 54h1v1h-1zM27 41h1v1h-1zM27 48h1v1h-1zM28 28h1v1h-1zM28 34h1v2h-1zM29 31h1v1h-1zM30 16h1v1h-1zM32 13h1v2h-1zM32 17h1v1h-1zM32 19h1v1h-1zM35 11h1v1h-1z"/>
<path fill="#54f6cb" d="M3 88h1v1h-1zM4 62h1v1h-1zM4 85h1v1h-1zM5 92h1v1h-1zM5 94h1v1h-1zM6 90h1v1h-1zM6 93h1v1h-1zM7 60h1v1h-1zM7 95h1v1h-1zM8 32h1v2h-1zM8 48h1v1h-1zM8 104h1v2h-1zM9 30h1v1h-1zM9 86h1v1h-1zM9 95h1v1h-1zM10 77h1v1h-1zM10 86h1v1h-1zM11 29h1v1h-1zM12 76h1v1h-1zM12 78h1v1h-1zM12 82h1v1h-1zM12 97h1v1h-1zM13 96h1v1h-1zM13 101h1v1h-1zM14 84h1v1h-1zM14 89h1v1h-1zM16 21h1v1h-1zM16 66h1v1h-1zM16 90h1v1h-1zM17 19h1v1h-1zM17 24h1v1h-1zM18 60h1v2h-1zM19 48h1v1h-1zM19 58h1v1h-1zM20 49h1v1h-1zM20 68h1v1h-1zM21 12h1v1h-1zM21 39h1v1h-1zM21 42h1v1h-1zM22 41h1v1h-1zM23 35h1v1h-1zM24 36h1v1h-1zM25 12h1v1h-1zM26 10h1v1h-1zM26 41h1v2h-1zM27 33h1v1h-1zM27 37h1v1h-1zM29 18h1v1h-1zM29 28h1v1h-1zM31 17h1v1h-1zM31 23h1v1h-1zM32 22h1v1h-1zM33 17h1v2h-1zM34 14h1v2h-1z"/>
<path fill="#47efd1" d="M4 60h1v1h-1zM5 78h1v1h-1zM6 95h1v1h-1zM6 97h1v1h-1zM7 73h1v1h-1zM7 100h1v1h-1zM8 36h1v1h-1zM8 46h1v1h-1zM8 50h1v1h-1zM8 106h1v1h-1zM9 34h1v1h-1zM9 105h1v1h-1zM10 82h1v2h-1zM10 94h1v1h-1zM11 28h1v1h-1zM13 77h1v1h-1zM13 97h1v1h-1zM14 27h1v1h-1zM14 86h1v1h-1zM14 103h1v1h-1zM15 78h1v1h-1zM15 86h1v1h-1zM16 81h1v1h-1zM16 85h1v2h-1zM16 93h1v1h-1zM18 64h1v1h-1zM19 53h1v1h-1zM19 56h1v1h-1zM19 59h1v2h-1zM19 63h1v1h-1zM19 74h1v1h-1zM20 44h1v1h-1zM21 51h1v1h-1zM22 38h1v1h-1zM22 42h1v1h-1zM22 44h1v1h-1zM22 50h1v1h-1zM23 38h1v1h-1zM23 44h1v1h-1zM25 11h1v1h-1zM25 29h1v1h-1zM26 31h1v1h-1zM26 44h1v1h-1zM26 52h1v1h-1zM27 35h1v1h-1zM27 39h1v1h-1zM27 46h1v1h-1zM28 31h1v1h-1zM28 36h1v2h-1zM29 15h1v1h-1zM29 20h1v1h-1zM29 27h1v1h-1zM29 35h1v1h-1zM30 24h1v1h-1zM30 31h1v2h-1zM30 39h1v1h-1zM31 27h1v1h-1zM31 31h1v1h-1zM32 23h1v1h-1zM32 27h1v1h-1zM33 10h1v1h-1zM33 28h1v1h-1zM33 36h1v1h-1zM34 11h1v1h-1zM34 13h1v1h-1zM36 25h1v1h-1zM37 9h1v1h-1zM38 25h1v1h-1zM42 11h1v1h-1z"/>
<path fill="#86ffb1" d="M4 88h1v1h-1zM5 83h1v1h-1zM5 93h1v1h-1zM6 62h1v1h-1zM6 81h1v1h-1zM6 89h1v1h-1zM6 98h1v1h-1zM7 57h1v1h-1zM7 80h1v1h-1zM7 85h1v1h-1zM7 98h1v1h-1zM8 81h1v1h-1zM8 99h1v1h-1zM9 60h1v1h-1zM9 63h1v1h-1zM9 77h1v1h-1zM9 82h1v1h-1zM9 84h1v2h-1zM10 35h1v1h-1zM10 75h1v1h-1zM10 81h1v1h-1zM11 73h1v1h-1zM11 80h1v1h-1zM13 32h1v2h-1zM13 79h1v1h-1zM14 85h1v1h-1zM15 64h1v1h-1zM16 55h1v1h-1zM16 91h1v1h-1zM17 47h1v1h-1zM17 71h1v1h-1zM18 21h1v1h-1zM18 79h1v1h-1zM19 45h1v1h-1zM19 49h1v1h-1zM19 51h1v1h-1zM20 41h1v1h-1zM20 48h1v1h-1zM21 20h1v1h-1zM21 38h1v1h-1zM21 40h1v1h-1zM22 21h1v1h-1zM22 36h1v1h-1zM22 43h1v1h-1zM23 26h1v1h-1zM24 19h1v1h-1zM25 19h1v1h-1zM27 17h1v1h-1zM27 30h1v1h-1zM28 39h1v1h-1zM30 19h1v1h-1zM30 23h1v1h-1z"/>
<path fill="#6bfdbf" d="M5 79h1v1h-1zM5 87h1v2h-1zM6 60h1v1h-1zM6 87h1v1h-1zM7 61h1v1h-1zM7 63h1v1h-1zM7 86h1v1h-1zM7 93h1v1h-1zM8 35h1v1h-1zM8 65h1v1h-1zM8 77h1v1h-1zM8 87h1v1h-1zM8 96h1v1h-1zM9 33h1v1h-1zM9 91h1v1h-1zM9 100h1v1h-1zM10 84h1v1h-1zM11 79h1v1h-1zM11 81h1v1h-1zM12 35h1v1h-1zM12 80h1v1h-1zM12 96h1v1h-1zM13 30h1v1h-1zM13 84h1v1h-1zM14 83h1v1h-1zM15 80h1v1h-1zM16 68h1v1h-1zM17 64h1v1h-1zM17 70h1v1h-1zM18 56h1v1h-1zM19 21h1v1h-1zM20 13h1v1h-1zM20 45h1v1h-1zM23 37h1v1h-1zM24 39h1v1h-1zM25 34h1v1h-1zM25 38h1v1h-1zM25 46h1v1h-1zM25 54h1v1h-1zM28 20h1v1h-1zM28 29h1v2h-1zM28 38h1v1h-1zM28 41h1v1h-1zM29 26h1v1h-1zM30 17h1v1h-1zM30 26h1v1h-1zM30 28h1v1h-1zM31 14h1v1h-1zM31 16h1v1h-1zM32 18h1v1h-1zM33 12h1v1h-1zM33 39h1v1h-1zM34 16h1v2h-1z"/>
<path fill="#bbee90" d="M5 82h1v1h-1zM6 83h1v1h-1zM8 51h1v1h-1zM8 55h1v1h-1zM8 58h1v1h-1zM8 68h1v1h-1zM9 50h1v1h-1zM9 96h1v1h-1zM10 34h1v1h-1zM10 85h1v1h-1zM12 69h1v1h-1zM12 75h1v1h-1zM15 24h1v1h-1zM15 65h1v1h-1zM15 75h1v1h-1zM15 79h1v1h-1zM18 23h1v1h-1zM18 37h1v1h-1zM18 44h1v1h-1zM21 35h1v1h-1zM22 33h1v1h-1zM23 24h1v1h-1zM29 24h1v1h-1z"/>
<path fill="#cce385" d="M5 85h1v1h-1zM8 64h1v1h-1zM9 68h1v1h-1zM9 70h1v1h-1zM9 89h1v1h-1zM10 39h1v1h-1zM10 62h1v1h-1zM10 64h1v1h-1zM12 37h1v1h-1zM13 68h1v1h-1zM13 70h1v2h-1zM14 55h1v1h-1zM16 57h1v1h-1zM18 32h1v1h-1zM18 40h1v1h-1zM19 25h1v1h-1zM19 41h1v1h-1zM22 25h1v2h-1zM22 29h1v1h-1z"/>
<path fill="#e1d277" d="M5 86h1v1h-1zM8 52h1v1h-1zM9 61h1v1h-1zM9 69h1v1h-1zM10 61h1v1h-1zM12 67h1v1h-1zM15 55h1v1h-1zM16 51h1v1h-1zM24 23h1v1h-1zM27 20h1v1h-1z"/>
<path fill="#f3c16a" d="M5 89h1v1h-1zM9 78h1v1h-1zM14 61h1v1h-1zM15 60h1v1h-1z"/>
<path fill="#9bfba5" d="M5 90h1v1h-1zM6 82h1v1h-1zM7 83h1v1h-1zM7 87h1v1h-1zM7 90h1v1h-1zM8 54h1v1h-1zM8 94h1v1h-1zM9 38h1v1h-1zM9 47h1v1h-1zM10 29h1v1h-1zM10 78h1v2h-1zM11 70h1v1h-1zM11 72h1v1h-1zM12 32h1v1h-1zM12 83h1v1h-1zM13 76h1v1h-1zM15 23h1v1h-1zM15 25h1v1h-1zM16 76h1v1h-1zM17 22h1v1h-1zM17 26h1v1h-1zM18 52h1v1h-1zM19 24h1v1h-1zM19 52h1v1h-1zM21 36h1v1h-1zM23 34h1v1h-1zM24 27h1v1h-1zM25 30h1v1h-1zM26 25h1v1h-1zM27 19h1v1h-1zM27 27h1v1h-1zM28 25h1v1h-1z"/>
<path fill="#7dffb5" d="M5 96h1v1h-1zM7 78h1v1h-1zM7 92h1v1h-1zM8 60h1v1h-1zM8 88h1v1h-1zM8 93h1v1h-1zM9 79h1v1h-1zM9 87h1v1h-1zM9 94h1v1h-1zM10 76h1v1h-1zM11 33h1v1h-1zM11 35h1v1h-1zM13 78h1v1h-1zM15 74h1v1h-1zM15 76h1v1h-1zM16 59h1v1h-1zM16 62h1v1h-1zM16 64h1v1h-1zM16 77h1v1h-1zM16 92h1v1h-1zM17 21h1v1h-1zM17 54h1v1h-1zM17 59h1v1h-1zM17 72h1v1h-1zM18 22h1v1h-1zM18 80h1v1h-1zM19 20h1v1h-1zM19 50h1v1h-1zM20 20h1v1h-1zM20 43h1v1h-1zM20 46h1v1h-1zM22 39h1v1h-1zM23 40h1v1h-1zM25 18h1v1h-1zM25 37h1v1h-1zM26 16h1v1h-1zM26 30h1v1h-1zM26 35h1v1h-1zM27 32h1v1h-1zM27 34h1v1h-1zM28 21h1v2h-1zM29 21h1v1h-1zM31 19h1v1h-1zM31 21h1v2h-1zM33 15h1v1h-1z"/>
<path fill="#94fda8" d="M6 63h1v1h-1zM7 56h1v1h-1zM7 75h1v1h-1zM7 77h1v1h-1zM8 44h1v1h-1zM8 56h1v1h-1zM8 61h1v1h-1zM8 79h1v1h-1zM8 90h1v2h-1zM9 31h1v1h-1zM9 65h1v1h-1zM9 81h1v1h-1zM9 90h1v1h-1zM11 32h1v1h-1zM12 73h1v1h-1zM14 31h1v1h-1zM14 71h1v1h-1zM14 91h1v1h-1zM15 61h1v1h-1zM15 67h1v1h-1zM16 23h1v1h-1zM16 26h1v1h-1zM16 71h1v1h-1zM17 27h1v1h-1zM17 60h1v1h-1zM18 53h1v1h-1zM19 37h1v1h-1zM19 47h1v1h-1zM20 37h1v1h-1zM21 21h1v1h-1zM21 34h1v1h-1zM21 41h1v1h-1zM22 32h1v1h-1zM22 35h1v1h-1zM24 21h1v1h-1zM24 38h1v1h-1zM25 32h1v1h-1zM25 35h1v1h-1zM26 32h1v1h-1zM26 36h1v1h-1zM27 18h1v1h-1zM27 26h1v1h-1zM29 25h1v1h-1zM29 30h1v1h-1zM32 20h1v1h-1z"/>
<path fill="#a7f89d" d="M6 79h1v1h-1zM6 86h1v1h-1zM7 81h1v1h-1zM8 74h1v1h-1zM8 83h1v1h-1zM12 31h1v1h-1zM13 34h1v1h-1zM14 75h1v1h-1zM14 80h1v1h-1zM14 82h1v1h-1zM15 73h1v1h-1zM15 77h1v1h-1zM15 81h1v1h-1zM17 50h1v1h-1zM17 52h1v1h-1zM17 55h1v1h-1zM18 47h1v1h-1zM21 29h1v1h-1zM28 23h1v1h-1zM30 18h1v1h-1zM33 9h1v1h-1z"/>
<path fill="#a1faa1" d="M6 80h1v1h-1zM7 74h1v1h-1zM8 69h1v2h-1zM8 78h1v1h-1zM8 92h1v1h-1zM8 95h1v1h-1zM9 35h1v1h-1zM9 40h1v2h-1zM9 71h1v1h-1zM9 92h1v1h-1zM13 35h1v1h-1zM13 74h1v1h-1zM13 85h1v1h-1zM13 99h1v1h-1zM14 30h1v1h-1zM14 32h1v1h-1zM17 62h1v1h-1zM18 20h1v1h-1zM23 27h1v1h-1zM24 32h1v1h-1zM26 24h1v1h-1zM27 28h1v1h-1zM29 22h1v1h-1z"/>
<path fill="#b6f193" d="M6 84h1v1h-1zM8 67h1v1h-1zM8 72h1v1h-1zM8 80h1v1h-1zM8 86h1v1h-1zM9 39h1v1h-1zM9 83h1v1h-1zM10 73h1v1h-1zM11 31h1v1h-1zM11 67h1v1h-1zM14 68h1v1h-1zM14 72h1v1h-1zM15 26h1v1h-1zM15 33h1v1h-1zM15 66h1v1h-1zM15 68h1v1h-1zM17 25h1v1h-1zM19 38h1v1h-1zM20 40h1v1h-1zM22 20h1v1h-1zM22 22h1v1h-1zM23 32h1v1h-1zM24 29h1v1h-1zM24 34h1v1h-1zM26 29h1v1h-1zM29 23h1v1h-1zM33 16h1v1h-1z"/>
<path fill="#8dfead" d="M6 85h1v1h-1zM7 79h1v1h-1zM7 88h1v1h-1zM8 49h1v1h-1zM8 62h1v1h-1zM8 98h1v1h-1zM9 64h1v1h-1zM10 33h1v1h-1zM12 33h1v1h-1zM12 100h1v1h-1zM13 36h1v1h-1zM14 33h1v1h-1zM14 66h1v1h-1zM14 77h1v1h-1zM14 88h1v1h-1zM14 90h1v1h-1zM16 22h1v1h-1zM16 61h1v1h-1zM16 73h1v2h-1zM18 54h1v1h-1zM19 55h1v1h-1zM20 54h1v1h-1zM23 20h1v1h-1zM23 29h1v1h-1zM23 31h1v1h-1zM24 18h1v1h-1zM25 31h1v1h-1zM25 36h1v1h-1zM27 31h1v1h-1zM28 17h1v1h-1zM28 26h1v1h-1zM29 19h1v1h-1zM30 22h1v1h-1zM31 18h1v1h-1zM32 16h1v1h-1zM32 21h1v1h-1zM33 19h1v1h-1z"/>
<path fill="#c4e98b" d="M6 88h1v1h-1zM9 51h1v1h-1zM9 55h1v1h-1zM9 72h1v1h-1zM10 32h1v1h-1zM10 72h1v1h-1zM13 75h1v1h-1zM14 35h1v1h-1zM14 65h1v1h-1zM15 28h1v1h-1zM16 25h1v1h-1zM16 50h1v1h-1zM16 63h1v1h-1zM17 49h1v1h-1zM18 50h1v1h-1zM19 23h1v1h-1zM20 27h1v1h-1zM20 47h1v1h-1zM21 33h1v1h-1zM22 34h1v1h-1zM23 22h1v1h-1zM24 31h1v1h-1zM25 28h1v1h-1z"/>
<path fill="#c0eb8d" d="M7 82h1v1h-1zM8 82h1v1h-1zM8 85h1v1h-1zM9 48h1v1h-1zM9 73h1v1h-1zM9 80h1v1h-1zM10 36h1v1h-1zM10 68h1v1h-1zM11 37h1v1h-1zM11 75h1v1h-1zM12 71h1v1h-1zM16 53h1v1h-1zM17 40h1v1h-1zM18 26h1v1h-1zM18 43h1v1h-1zM20 23h1v1h-1zM23 25h1v1h-1zM27 25h1v1h-1zM27 29h1v1h-1zM31 20h1v1h-1z"/>
<path fill="#d4dd80" d="M7 91h1v1h-1zM8 71h1v1h-1zM9 45h1v1h-1zM9 62h1v1h-1zM10 37h1v1h-1zM11 68h1v1h-1zM15 58h1v1h-1zM17 51h1v1h-1zM17 56h1v1h-1zM18 29h1v1h-1zM19 27h1v1h-1zM20 34h1v1h-1zM20 39h1v1h-1zM26 27h1v1h-1z"/>
<path fill="#b1f397" d="M8 53h1v1h-1zM8 73h1v1h-1zM8 84h1v1h-1zM8 89h1v1h-1zM9 43h1v1h-1zM9 46h1v1h-1zM9 52h1v1h-1zM9 54h1v1h-1zM9 58h1v1h-1zM9 97h1v1h-1zM10 65h1v1h-1zM10 74h1v1h-1zM11 36h1v1h-1zM12 66h1v1h-1zM12 74h1v1h-1zM13 72h1v2h-1zM15 69h1v1h-1zM16 52h1v1h-1zM16 60h1v1h-1zM16 75h1v1h-1zM20 42h1v1h-1zM21 25h1v1h-1zM24 26h1v1h-1z"/>
<path fill="#d7db7e" d="M8 63h1v1h-1zM9 67h1v1h-1zM10 40h1v1h-1zM14 69h1v2h-1zM15 27h1v1h-1zM15 30h1v1h-1zM16 30h1v1h-1zM17 31h1v1h-1zM18 28h1v1h-1zM18 45h1v1h-1zM18 49h1v1h-1zM19 43h1v1h-1zM21 23h1v1h-1zM22 27h1v1h-1zM24 30h1v1h-1zM26 26h1v1h-1zM27 23h1v1h-1z"/>
<path fill="#dbd87b" d="M8 75h1v2h-1zM9 59h1v1h-1zM10 69h1v1h-1zM12 38h1v1h-1zM12 68h1v1h-1zM12 70h1v1h-1zM13 67h1v1h-1zM15 32h1v1h-1zM18 24h1v1h-1zM18 27h1v1h-1zM19 26h1v1h-1zM26 34h1v1h-1z"/>
<path fill="#acf59a" d="M8 97h1v1h-1zM9 37h1v1h-1zM9 42h1v1h-1zM9 75h1v1h-1zM9 93h1v1h-1zM12 72h1v1h-1zM14 76h1v1h-1zM14 79h1v1h-1zM14 81h1v1h-1zM16 54h1v1h-1zM16 58h1v1h-1zM16 65h1v1h-1zM16 88h1v1h-1zM17 23h1v1h-1zM17 53h1v1h-1zM19 40h1v1h-1zM19 46h1v1h-1zM20 21h1v1h-1zM25 17h1v1h-1zM25 27h1v1h-1zM28 19h1v1h-1z"/>
<path fill="#f8bc67" d="M9 44h1v1h-1zM11 42h1v1h-1zM14 52h1v1h-1zM16 29h1v1h-1zM16 42h1v1h-1zM17 43h1v1h-1zM19 30h1v1h-1zM22 23h1v1h-1z"/>
<path fill="#e7cd72" d="M9 49h1v1h-1zM10 60h1v1h-1zM10 70h1v1h-1zM11 65h1v1h-1zM14 62h1v1h-1zM15 29h1v1h-1zM17 28h1v1h-1zM20 36h1v1h-1zM21 30h1v1h-1z"/>
<path fill="#ffac5c" d="M9 53h1v1h-1zM14 63h1v1h-1zM15 59h1v1h-1zM17 33h1v1h-1zM20 35h1v1h-1zM24 22h1v1h-1zM26 19h1v1h-1z"/>
<path fill="#ffa256" d="M9 56h1v1h-1zM10 41h1v1h-1zM13 50h1v1h-1zM16 35h1v1h-1zM17 39h1v1h-1zM17 44h1v1h-1z"/>
<path fill="#ff9b52" d="M9 57h1v1h-1zM10 43h1v1h-1zM16 38h1v1h-1zM21 31h1v1h-1zM25 20h1v1h-1z"/>
<path fill="#e4cf75" d="M9 66h1v1h-1zM14 73h1v1h-1zM21 26h1v1h-1zM22 30h1v1h-1zM23 23h1v1h-1z"/>
<path fill="#f5bf69" d="M9 74h1v1h-1zM11 38h1v1h-1zM11 63h1v1h-1zM11 66h1v1h-1zM16 24h1v1h-1zM22 28h1v1h-1z"/>
<path fill="#ded579" d="M9 76h1v1h-1zM10 67h1v1h-1zM10 80h1v1h-1zM11 34h1v1h-1zM11 69h1v1h-1zM12 36h1v1h-1zM12 64h1v1h-1zM14 56h1v1h-1zM14 67h1v1h-1zM15 54h1v1h-1zM15 56h1v1h-1zM18 48h1v1h-1zM21 22h1v1h-1zM21 24h1v1h-1zM21 32h1v1h-1zM28 27h1v1h-1z"/>
<path fill="#edc76e" d="M10 38h1v1h-1zM11 59h1v1h-1zM14 36h1v1h-1zM16 56h1v1h-1zM18 51h1v1h-1zM20 28h1v1h-1zM21 27h1v1h-1zM22 24h1v1h-1z"/>
<path fill="#fdb763" d="M10 42h1v1h-1zM12 34h1v1h-1zM13 62h1v1h-1zM15 46h1v1h-1zM15 49h1v1h-1zM17 29h1v1h-1zM18 30h1v1h-1zM20 31h1v1h-1zM23 28h1v1h-1z"/>
<path fill="#ff7b40" d="M10 44h1v1h-1zM15 62h1v1h-1zM18 33h1v1h-1zM25 23h1v1h-1z"/>
<path fill="#ff7e41" d="M10 45h1v1h-1zM16 33h1v1h-1z"/>
<path fill="#ff6634" d="M10 46h1v2h-1zM11 57h1v1h-1z"/>
<path fill="#ff964f" d="M10 48h1v1h-1zM10 59h1v1h-1zM11 41h1v1h-1zM14 59h1v1h-1z"/>
<path fill="#ff2512" d="M10 49h1v1h-1zM15 36h1v1h-1z"/>
<path fill="#ff552b" d="M10 50h1v1h-1z"/>
<path fill="#ff6835" d="M10 51h1v1h-1zM11 54h1v1h-1zM17 34h1v2h-1z"/>
<path fill="#ff1008" d="M10 52h1v1h-1z"/>
<path fill="#ff341a" d="M10 53h1v1h-1zM11 48h1v1h-1z"/>
<path fill="#fab965" d="M10 54h1v1h-1zM13 69h1v1h-1zM15 31h1v1h-1zM15 50h1v1h-1zM16 46h1v1h-1zM20 32h1v1h-1zM25 26h1v1h-1z"/>
<path fill="#eaca70" d="M10 55h1v1h-1zM12 39h1v1h-1zM13 41h1v1h-1zM13 44h1v1h-1zM26 18h1v1h-1z"/>
<path fill="#ff8243" d="M10 56h1v1h-1zM14 38h1v1h-1zM18 38h1v1h-1zM26 20h1v1h-1z"/>
<path fill="#ff773d" d="M10 57h1v1h-1zM14 49h1v1h-1zM17 41h1v1h-1z"/>
<path fill="#ffaf5e" d="M10 58h1v1h-1zM11 61h1v1h-1zM11 64h1v1h-1zM13 58h1v1h-1z"/>
<path fill="#ffb461" d="M10 66h1v1h-1zM11 55h1v1h-1zM12 65h1v1h-1zM14 34h1v1h-1zM15 51h1v1h-1zM16 47h1v1h-1zM19 34h1v1h-1zM20 29h1v1h-1zM26 22h1v1h-1z"/>
<path fill="#d0e083" d="M10 71h1v1h-1zM11 71h1v1h-1zM13 37h1v1h-1zM14 64h1v1h-1zM16 27h1v2h-1zM16 48h1v1h-1zM17 30h1v1h-1zM18 46h1v1h-1zM20 25h1v2h-1zM23 21h1v1h-1zM26 17h1v1h-1zM26 28h1v1h-1z"/>
<path fill="#ff8b48" d="M11 39h1v1h-1zM19 32h1v1h-1z"/>
<path fill="#ffb160" d="M11 40h1v1h-1zM13 39h1v1h-1zM16 32h1v1h-1zM16 49h1v1h-1zM17 42h1v1h-1zM17 48h1v1h-1zM19 29h1v1h-1zM25 22h1v1h-1zM27 21h1v1h-1z"/>
<path fill="#ff5c2f" d="M11 43h1v1h-1zM11 47h1v1h-1zM15 40h1v1h-1zM15 42h1v1h-1z"/>
<path fill="#ff4020" d="M11 44h1v1h-1z"/>
<path fill="#ff2c16" d="M11 45h1v1h-1z"/>
<path fill="#ff4523" d="M11 46h1v1h-1zM12 59h1v1h-1z"/>
<path fill="#ff0101" d="M11 49h1v1h-1z"/>
<path fill="#ff170b" d="M11 50h1v1h-1z"/>
<path fill="#ff2412" d="M11 51h1v1h-1z"/>
<path fill="#ff4b26" d="M11 52h1v1h-1z"/>
<path fill="#ff8444" d="M11 53h1v1h-1zM12 46h1v1h-1zM13 66h1v1h-1zM15 37h1v1h-1zM16 34h1v1h-1zM25 21h1v1h-1z"/>
<path fill="#ff5b2e" d="M11 56h1v1h-1zM13 61h1v1h-1z"/>
<path fill="#ff592d" d="M11 58h1v1h-1z"/>
<path fill="#ff8f4b" d="M11 60h1v1h-1zM14 50h1v1h-1zM14 58h1v1h-1zM16 41h1v1h-1zM17 45h1v1h-1z"/>
<path fill="#ffa055" d="M11 62h1v1h-1zM12 54h1v1h-1zM13 40h1v1h-1zM13 64h1v1h-1zM17 37h1v1h-1z"/>
<path fill="#ffa558" d="M12 40h1v1h-1zM14 37h1v1h-1zM14 47h1v1h-1zM18 31h1v1h-1zM24 24h1v1h-1z"/>
<path fill="#ff0d07" d="M12 41h1v1h-1z"/>
<path fill="#ff6232" d="M12 42h1v1h-1z"/>
<path fill="#ff572c" d="M12 43h1v1h-1zM13 47h1v1h-1z"/>
<path fill="#ff1e0f" d="M12 44h1v1h-1zM12 60h1v1h-1zM13 51h1v1h-1z"/>
<path fill="#ff2613" d="M12 45h1v1h-1zM13 49h1v1h-1zM13 52h1v1h-1z"/>
<path fill="#ff2915" d="M12 47h1v1h-1z"/>
<path fill="#ff0000" d="M12 48h1v1h-1zM13 46h1v1h-1zM15 38h1v2h-1z"/>
<path fill="#ff3f20" d="M12 49h1v1h-1z"/>
<path fill="#ff2211" d="M12 50h1v1h-1z"/>
<path fill="#ff4221" d="M12 51h1v1h-1z"/>
<path fill="#ff2814" d="M12 52h1v1h-1z"/>
<path fill="#ff8646" d="M12 53h1v1h-1zM14 57h1v1h-1zM19 35h1v1h-1zM21 28h1v1h-1z"/>
<path fill="#ff6433" d="M12 55h1v1h-1zM15 48h1v1h-1zM16 39h1v1h-1z"/>
<path fill="#ff5029" d="M12 56h1v1h-1zM14 48h1v1h-1z"/>
<path fill="#ff130a" d="M12 57h1v1h-1zM14 44h1v1h-1z"/>
<path fill="#ff371c" d="M12 58h1v1h-1z"/>
<path fill="#ff3d1f" d="M12 61h1v1h-1zM16 36h1v1h-1z"/>
<path fill="#ff391c" d="M12 62h1v1h-1z"/>
<path fill="#ff914c" d="M12 63h1v1h-1zM19 39h1v1h-1z"/>
<path fill="#ff8042" d="M13 38h1v1h-1zM13 54h1v2h-1zM26 21h1v1h-1z"/>
<path fill="#ff4624" d="M13 42h1v1h-1zM13 53h1v1h-1z"/>
<path fill="#ff6b37" d="M13 43h1v1h-1zM16 45h1v1h-1z"/>
<path fill="#ffa759" d="M13 45h1v1h-1zM14 60h1v1h-1zM15 35h1v1h-1zM15 52h1v1h-1zM16 43h1v1h-1zM18 39h1v1h-1z"/>
<path fill="#ff0703" d="M13 48h1v1h-1z"/>
<path fill="#ff4322" d="M13 56h1v1h-1z"/>
<path fill="#ff8d4a" d="M13 57h1v1h-1z"/>
<path fill="#ff3119" d="M13 59h1v1h-1z"/>
<path fill="#ff8847" d="M13 60h1v1h-1zM14 39h1v1h-1zM15 53h1v1h-1zM24 25h1v1h-1zM24 28h1v1h-1z"/>
<path fill="#ffaa5b" d="M13 63h1v1h-1zM14 41h1v1h-1zM14 51h1v1h-1zM18 42h1v1h-1zM20 33h1v1h-1z"/>
<path fill="#c8e688" d="M13 65h1v1h-1zM16 31h1v1h-1zM18 25h1v1h-1zM19 22h1v1h-1zM19 28h1v1h-1zM20 24h1v1h-1zM25 24h1v2h-1zM26 23h1v1h-1zM27 22h1v1h-1z"/>
<path fill="#ff0904" d="M14 40h1v1h-1z"/>
<path fill="#ff542a" d="M14 42h1v1h-1z"/>
<path fill="#ff6936" d="M14 43h1v1h-1z"/>
<path fill="#ff9d53" d="M14 45h1v1h-1zM14 53h1v1h-1zM19 31h1v1h-1z"/>
<path fill="#ff4f28" d="M14 46h1v1h-1zM15 43h1v1h-1z"/>
<path fill="#f0c46c" d="M14 54h1v1h-1zM15 57h1v1h-1zM19 36h1v1h-1zM19 44h1v1h-1zM20 30h1v1h-1zM24 20h1v1h-1z"/>
<path fill="#ff944e" d="M15 34h1v1h-1zM15 47h1v1h-1zM16 44h1v1h-1zM18 35h1v1h-1z"/>
<path fill="#ff5e30" d="M15 41h1v1h-1z"/>
<path fill="#ff4a25" d="M15 44h1v1h-1z"/>
<path fill="#ff6031" d="M15 45h1v1h-1zM18 41h1v1h-1z"/>
<path fill="#ff753c" d="M16 37h1v1h-1z"/>
<path fill="#ff4824" d="M16 40h1v1h-1z"/>
<path fill="#ff9850" d="M17 32h1v1h-1zM18 36h1v1h-1z"/>
<path fill="#ff793f" d="M17 36h1v1h-1zM17 38h1v1h-1zM18 34h1v1h-1z"/>
</g></g></g>
<g clip-path="url(#c2)" stroke="#6c6c6c" fill="#6c6c6c">
<path d="M240.5 811.7V735.9M288.6 877.5V763.8M336.6 913.6V833.6M384.7 908.8V824.8M432.7 933.1V842.5M480.8 945.0V863.8M528.8 955.0V879.8M576.9 958.0V894.0M624.9 974.9V907.7M673.0 979.3V924.8M721.0 985.8V930.2M769.1 1003.0V934.3M817.1 982.9V919.5M865.2 972.8V921.9M913.2 978.7V913.0" fill="none" stroke-width="4.0"/>
<path d="M229.9 811.7h21.2M229.9 735.9h21.2M278.0 877.5h21.2M278.0 763.8h21.2M326.0 913.6h21.2M326.0 833.6h21.2M374.1 908.8h21.2M374.1 824.8h21.2M422.1 933.1h21.2M422.1 842.5h21.2M470.2 945.0h21.2M470.2 863.8h21.2M518.2 955.0h21.2M518.2 879.8h21.2M566.3 958.0h21.2M566.3 894.0h21.2M614.3 974.9h21.2M614.3 907.7h21.2M662.4 979.3h21.2M662.4 924.8h21.2M710.4 985.8h21.2M710.4 930.2h21.2M758.5 1003.0h21.2M758.5 934.3h21.2M806.5 982.9h21.2M806.5 919.5h21.2M854.6 972.8h21.2M854.6 921.9h21.2M902.6 978.7h21.2M902.6 913.0h21.2" fill="none" stroke-width="2.2" />
<polyline points="240.5,774.1 288.6,820.6 336.6,874.5 384.7,866.2 432.7,888.1 480.8,903.5 528.8,917.7 576.9,926.3 624.9,940.8 673.0,952.7 721.0,958.0 769.1,968.7 817.1,951.5 865.2,947.3 913.2,946.7" fill="none" stroke-width="3.4" stroke-linejoin="round"/>
<rect x="233.1" y="766.7" width="14.8" height="14.8" stroke="none"/>
<rect x="281.2" y="813.2" width="14.8" height="14.8" stroke="none"/>
<rect x="329.2" y="867.1" width="14.8" height="14.8" stroke="none"/>
<rect x="377.3" y="858.8" width="14.8" height="14.8" stroke="none"/>
<rect x="425.3" y="880.7" width="14.8" height="14.8" stroke="none"/>
<rect x="473.4" y="896.1" width="14.8" height="14.8" stroke="none"/>
<rect x="521.4" y="910.3" width="14.8" height="14.8" stroke="none"/>
<rect x="569.5" y="918.9" width="14.8" height="14.8" stroke="none"/>
<rect x="617.5" y="933.4" width="14.8" height="14.8" stroke="none"/>
<rect x="665.6" y="945.3" width="14.8" height="14.8" stroke="none"/>
<rect x="713.6" y="950.6" width="14.8" height="14.8" stroke="none"/>
<rect x="761.7" y="961.3" width="14.8" height="14.8" stroke="none"/>
<rect x="809.7" y="944.1" width="14.8" height="14.8" stroke="none"/>
<rect x="857.8" y="939.9" width="14.8" height="14.8" stroke="none"/>
<rect x="905.8" y="939.3" width="14.8" height="14.8" stroke="none"/>
</g>
</g>
<g id="panel3">
<clipPath id="c3"><rect x="120.40" y="1025.50" width="961.00" height="325.70"/></clipPath>
<g clip-path="url(#c3)"><g><g transform="translate(120.400 1351.200) scale(19.2200 -10.1781)" shape-rendering="crispEdges">
<path fill="#8000ff" d="M2 4h1v1h-1zM2 6h1v1h-1zM3 10h1v1h-1zM3 13h1v1h-1zM3 15h1v1h-1zM3 21h1v1h-1zM4 18h1v1h-1zM4 23h1v1h-1zM4 27h1v1h-1zM4 29h1v1h-1zM5 1h1v1h-1zM5 18h1v1h-1zM5 21h1v2h-1zM5 27h1v1h-1zM5 29h1v2h-1zM6 21h1v2h-1zM6 29h1v1h-1zM6 31h1v1h-1zM7 0h1v1h-1zM7 25h1v4h-1zM7 30h1v1h-1zM21 31h1v1h-1zM23 1h1v1h-1zM27 0h1v1h-1zM28 0h1v1h-1zM29 2h1v1h-1zM29 29h1v1h-1zM31 22h1v1h-1zM32 1h1v1h-1zM32 4h1v1h-1zM32 27h1v1h-1zM32 30h1v2h-1zM33 4h1v1h-1zM33 27h1v2h-1zM33 30h1v1h-1zM34 4h1v2h-1zM34 7h1v1h-1zM34 17h1v1h-1zM34 27h1v2h-1zM34 30h1v1h-1zM35 2h1v1h-1zM35 4h1v2h-1zM35 9h1v1h-1zM35 11h1v1h-1zM35 19h1v1h-1zM35 23h1v1h-1zM35 30h1v1h-1zM36 5h1v1h-1zM36 7h1v3h-1zM36 12h1v1h-1zM36 16h1v1h-1zM36 19h1v1h-1zM36 24h1v1h-1zM36 26h1v1h-1zM37 2h1v1h-1zM37 5h1v1h-1zM37 7h1v3h-1zM37 23h1v3h-1zM37 27h1v3h-1zM38 9h1v1h-1zM38 11h1v1h-1zM38 13h1v1h-1zM38 15h1v1h-1zM38 17h1v4h-1zM38 27h1v2h-1zM38 31h1v1h-1zM39 7h1v1h-1zM39 17h1v2h-1zM39 20h1v3h-1zM39 24h1v1h-1zM40 8h1v1h-1zM40 11h1v2h-1zM40 22h1v2h-1zM41 9h1v1h-1zM41 14h1v1h-1zM41 30h1v1h-1zM42 12h1v1h-1zM42 14h1v2h-1zM42 24h1v1h-1zM42 26h1v1h-1zM42 30h1v1h-1zM43 13h1v4h-1zM43 19h1v1h-1zM44 9h1v1h-1zM44 22h1v1h-1zM44 31h1v1h-1zM45 14h1v1h-1zM45 21h1v1h-1zM45 25h1v1h-1zM45 28h1v1h-1zM46 11h1v2h-1zM46 18h1v1h-1zM47 24h1v1h-1zM48 9h1v1h-1zM48 13h1v1h-1zM49 16h1v1h-1zM49 20h1v1h-1z"/>
<path fill="#4f4bfc" d="M2 5h1v1h-1zM2 7h1v2h-1zM3 2h1v1h-1zM4 16h1v1h-1zM4 20h1v1h-1zM4 22h1v1h-1zM5 20h1v1h-1zM5 23h1v1h-1zM6 24h1v1h-1zM6 28h1v1h-1zM6 30h1v1h-1zM7 29h1v1h-1zM7 31h1v1h-1zM14 31h1v1h-1zM24 29h1v1h-1zM25 25h1v1h-1zM25 29h1v1h-1zM27 28h1v1h-1zM28 24h1v1h-1zM28 27h1v3h-1zM29 1h1v1h-1zM29 26h1v3h-1zM30 1h1v1h-1zM30 25h1v1h-1zM30 27h1v1h-1zM30 31h1v1h-1zM31 1h1v1h-1zM31 27h1v1h-1zM31 30h1v2h-1zM32 20h1v1h-1zM32 25h1v1h-1zM32 29h1v1h-1zM33 2h1v1h-1zM33 25h1v1h-1zM34 24h1v3h-1zM35 6h1v2h-1zM35 15h1v1h-1zM35 18h1v1h-1zM35 20h1v3h-1zM35 28h1v2h-1zM35 31h1v1h-1zM36 10h1v1h-1zM36 21h1v2h-1zM36 25h1v1h-1zM36 27h1v2h-1zM37 13h1v1h-1zM37 26h1v1h-1zM38 16h1v1h-1zM38 24h1v1h-1zM38 29h1v1h-1zM39 16h1v1h-1zM40 14h1v1h-1zM40 16h1v1h-1zM40 24h1v1h-1zM40 31h1v1h-1zM41 28h1v1h-1zM42 20h1v1h-1z"/>
<path fill="#12c7e6" d="M3 3h1v1h-1zM5 16h1v1h-1zM18 0h1v1h-1zM24 27h1v2h-1zM24 30h1v1h-1zM25 26h1v2h-1zM26 29h1v1h-1zM27 1h1v1h-1zM27 21h1v2h-1zM29 18h1v1h-1zM29 25h1v1h-1zM30 4h1v1h-1zM30 17h1v1h-1zM30 19h1v1h-1zM30 24h1v1h-1zM31 23h1v1h-1zM32 6h1v1h-1zM32 13h1v1h-1zM32 19h1v1h-1zM32 22h1v1h-1zM33 8h1v1h-1zM33 24h1v1h-1zM34 18h1v1h-1z"/>
<path fill="#5efac6" d="M3 4h1v1h-1zM6 8h1v1h-1zM11 30h1v1h-1zM14 27h1v1h-1zM15 26h1v1h-1zM21 23h1v1h-1zM23 18h1v1h-1zM23 21h1v1h-1zM27 17h1v1h-1zM28 6h1v1h-1zM28 12h1v2h-1z"/>
<path fill="#1acfe3" d="M3 5h1v1h-1zM9 31h1v1h-1zM18 31h1v1h-1zM28 21h1v1h-1zM30 20h1v1h-1zM30 26h1v1h-1zM31 6h1v1h-1zM31 21h1v1h-1zM31 28h1v1h-1zM32 10h1v1h-1zM32 17h1v1h-1zM32 21h1v1h-1zM33 9h1v1h-1zM34 12h1v1h-1zM37 16h1v1h-1zM37 18h1v1h-1z"/>
<path fill="#0fa3f0" d="M3 6h1v1h-1zM3 8h1v1h-1zM4 13h1v1h-1zM4 17h1v1h-1zM6 19h1v1h-1zM24 23h1v1h-1zM24 26h1v1h-1zM26 30h1v1h-1zM27 29h1v1h-1zM28 26h1v1h-1zM30 3h1v1h-1zM30 28h1v1h-1zM31 24h1v1h-1zM32 23h1v1h-1zM32 26h1v1h-1zM33 1h1v1h-1zM33 6h1v1h-1zM34 21h1v1h-1zM35 12h1v1h-1zM35 24h1v1h-1zM35 26h1v1h-1zM36 4h1v1h-1zM36 15h1v1h-1zM36 23h1v1h-1zM37 17h1v1h-1zM39 29h1v1h-1z"/>
<path fill="#55f6ca" d="M3 7h1v1h-1zM7 17h1v1h-1zM7 22h1v1h-1zM8 22h1v1h-1zM9 21h1v1h-1zM10 31h1v1h-1zM13 25h1v1h-1zM14 26h1v1h-1zM18 23h1v1h-1zM18 28h1v1h-1zM19 23h1v1h-1zM25 21h1v2h-1zM26 17h1v1h-1zM28 10h1v2h-1zM28 14h1v1h-1zM29 9h1v1h-1zM30 9h1v1h-1zM30 16h1v1h-1zM31 9h1v1h-1zM31 18h1v1h-1z"/>
<path fill="#08bde9" d="M3 9h1v1h-1zM4 12h1v1h-1zM5 15h1v1h-1zM7 24h1v1h-1zM24 1h1v1h-1zM24 31h1v1h-1zM26 28h1v1h-1zM27 30h1v1h-1zM29 20h1v1h-1zM29 24h1v1h-1zM30 2h1v1h-1zM31 20h1v1h-1zM31 25h1v1h-1zM33 10h1v1h-1zM33 15h1v1h-1zM33 19h1v1h-1zM33 23h1v1h-1zM33 31h1v1h-1zM34 13h1v1h-1zM34 16h1v1h-1zM36 29h1v1h-1z"/>
<path fill="#3374f8" d="M3 11h1v1h-1zM6 0h1v1h-1zM6 23h1v1h-1zM23 30h1v1h-1zM26 1h1v1h-1zM30 18h1v1h-1zM31 4h1v1h-1zM33 26h1v1h-1zM34 14h1v1h-1zM34 29h1v1h-1zM35 13h1v1h-1zM36 1h1v1h-1zM36 11h1v1h-1zM36 20h1v1h-1zM36 30h1v1h-1zM37 10h1v1h-1z"/>
<path fill="#03b1ec" d="M3 12h1v1h-1zM5 14h1v1h-1zM5 25h1v1h-1zM6 18h1v1h-1zM6 25h1v2h-1zM17 29h1v1h-1zM21 29h1v1h-1zM22 29h1v2h-1zM23 28h1v1h-1zM25 30h1v2h-1zM27 31h1v1h-1zM28 31h1v1h-1zM30 15h1v1h-1zM30 21h1v1h-1zM32 16h1v1h-1zM33 7h1v1h-1zM33 21h1v2h-1zM34 6h1v1h-1zM34 19h1v1h-1zM34 22h1v2h-1zM35 14h1v1h-1zM39 13h1v1h-1z"/>
<path fill="#46efd1" d="M4 2h1v1h-1zM5 8h1v1h-1zM6 1h1v1h-1zM14 25h1v1h-1zM15 31h1v1h-1zM17 27h1v1h-1zM17 30h1v1h-1zM22 19h1v1h-1zM23 26h1v1h-1zM25 24h1v1h-1zM29 13h1v1h-1zM31 10h1v1h-1zM31 12h1v1h-1z"/>
<path fill="#78ffb8" d="M4 3h1v1h-1zM7 11h1v1h-1zM8 19h1v1h-1zM19 24h1v1h-1zM22 1h1v1h-1zM22 17h1v1h-1zM23 20h1v1h-1zM24 14h1v1h-1zM29 7h1v1h-1z"/>
<path fill="#61fbc4" d="M4 4h1v1h-1zM7 2h1v1h-1zM9 23h1v1h-1zM12 26h1v1h-1zM15 28h1v1h-1zM16 27h1v1h-1zM17 25h1v1h-1zM19 22h1v1h-1zM24 18h1v1h-1zM26 19h1v1h-1zM27 18h1v1h-1zM29 11h1v1h-1z"/>
<path fill="#64fbc3" d="M4 5h1v1h-1zM6 16h1v1h-1zM10 19h1v1h-1zM10 24h1v2h-1zM12 28h1v1h-1zM16 23h1v1h-1zM17 23h1v1h-1zM20 24h1v2h-1zM25 17h1v1h-1zM28 5h1v1h-1zM29 8h1v1h-1zM30 10h1v1h-1z"/>
<path fill="#72febc" d="M4 6h1v1h-1zM5 3h1v1h-1zM5 5h1v1h-1zM6 3h1v1h-1zM7 3h1v1h-1zM7 12h1v1h-1zM7 14h1v1h-1zM7 18h1v1h-1zM9 17h1v1h-1zM12 22h1v1h-1zM20 23h1v1h-1zM22 20h1v1h-1z"/>
<path fill="#3dead5" d="M4 7h1v1h-1zM7 1h1v1h-1zM8 21h1v1h-1zM8 28h1v1h-1zM8 31h1v1h-1zM14 29h1v1h-1zM18 30h1v1h-1zM20 28h1v1h-1zM20 30h1v1h-1zM21 21h1v1h-1zM22 24h1v1h-1zM22 28h1v1h-1zM22 31h1v1h-1zM26 24h1v1h-1zM27 25h1v1h-1zM28 3h1v1h-1zM28 18h1v2h-1zM32 14h1v1h-1zM34 2h1v1h-1zM34 10h1v1h-1z"/>
<path fill="#51f5cc" d="M4 8h1v1h-1zM5 9h1v1h-1zM7 19h1v1h-1zM8 18h1v1h-1zM8 24h1v1h-1zM10 27h1v1h-1zM11 25h1v1h-1zM11 31h1v1h-1zM12 23h1v1h-1zM13 29h1v1h-1zM14 28h1v1h-1zM15 25h1v1h-1zM19 25h1v1h-1zM21 24h1v2h-1zM22 23h1v1h-1zM28 17h1v1h-1zM32 9h1v1h-1z"/>
<path fill="#4af1cf" d="M4 9h1v1h-1zM6 17h1v1h-1zM8 23h1v1h-1zM9 27h1v1h-1zM10 29h1v1h-1zM12 29h1v1h-1zM13 31h1v1h-1zM15 24h1v1h-1zM16 29h1v1h-1zM17 28h1v1h-1zM19 30h1v1h-1zM21 22h1v1h-1zM24 22h1v1h-1zM24 24h1v1h-1zM25 20h1v1h-1zM25 23h1v1h-1zM28 16h1v1h-1zM30 6h1v1h-1z"/>
<path fill="#2edfdc" d="M4 10h1v1h-1zM6 13h1v1h-1zM8 26h1v1h-1zM8 30h1v1h-1zM9 29h1v1h-1zM15 30h1v1h-1zM16 0h1v1h-1zM21 27h1v1h-1zM21 30h1v1h-1zM22 26h1v1h-1zM24 25h1v1h-1zM29 3h1v1h-1zM29 16h1v2h-1zM29 31h1v1h-1zM31 13h1v1h-1zM32 15h1v1h-1zM33 14h1v1h-1zM33 17h1v1h-1z"/>
<path fill="#58f8c9" d="M4 11h1v1h-1zM6 2h1v1h-1zM7 16h1v1h-1zM9 25h1v1h-1zM10 22h1v2h-1zM10 26h1v1h-1zM11 26h1v1h-1zM11 29h1v1h-1zM13 23h1v1h-1zM14 24h1v1h-1zM14 30h1v1h-1zM17 26h1v1h-1zM18 22h1v1h-1zM21 20h1v1h-1zM23 23h1v1h-1zM24 20h1v1h-1zM27 10h1v1h-1zM27 23h1v1h-1zM28 4h1v1h-1zM28 15h1v1h-1zM29 23h1v1h-1zM30 7h1v1h-1z"/>
<path fill="#4ef3ce" d="M4 14h1v1h-1zM6 14h1v1h-1zM11 28h1v1h-1zM12 30h1v2h-1zM16 25h1v1h-1zM18 25h1v1h-1zM19 26h1v1h-1zM20 26h1v1h-1zM20 31h1v1h-1zM22 21h1v1h-1zM26 18h1v1h-1zM27 19h1v1h-1zM30 8h1v1h-1zM34 11h1v1h-1z"/>
<path fill="#21d5e0" d="M4 15h1v1h-1zM20 27h1v1h-1zM26 26h1v1h-1zM27 26h1v2h-1zM29 19h1v1h-1zM29 22h1v1h-1zM30 5h1v1h-1zM30 12h1v1h-1zM30 22h1v1h-1zM31 16h1v1h-1zM33 13h1v1h-1zM33 18h1v1h-1z"/>
<path fill="#39e7d7" d="M5 2h1v1h-1zM7 20h1v1h-1zM9 28h1v1h-1zM9 30h1v1h-1zM10 28h1v1h-1zM13 28h1v1h-1zM18 27h1v1h-1zM21 26h1v1h-1zM21 28h1v1h-1zM23 29h1v1h-1zM25 28h1v1h-1zM26 22h1v2h-1zM27 24h1v1h-1zM28 20h1v1h-1zM29 4h1v1h-1zM30 14h1v1h-1zM31 8h1v1h-1zM31 15h1v1h-1zM32 12h1v1h-1zM33 11h1v1h-1zM34 8h1v1h-1z"/>
<path fill="#70febd" d="M5 4h1v1h-1zM5 10h1v1h-1zM14 23h1v1h-1zM15 19h1v1h-1zM15 23h1v1h-1zM19 31h1v1h-1zM20 19h1v1h-1zM20 21h1v1h-1z"/>
<path fill="#66fcc2" d="M5 6h1v2h-1zM18 26h1v1h-1zM25 18h1v1h-1zM26 21h1v1h-1zM27 13h1v1h-1zM29 12h1v1h-1z"/>
<path fill="#42edd3" d="M5 11h1v3h-1zM9 22h1v1h-1zM10 30h1v1h-1zM15 29h1v1h-1zM16 26h1v1h-1zM16 31h1v1h-1zM19 28h1v1h-1zM20 29h1v1h-1zM22 22h1v1h-1zM22 27h1v1h-1zM23 25h1v1h-1zM25 1h1v1h-1zM29 21h1v1h-1zM30 11h1v1h-1zM31 2h1v1h-1zM34 9h1v1h-1zM37 15h1v1h-1z"/>
<path fill="#1f8ff4" d="M5 17h1v1h-1zM5 24h1v1h-1zM7 21h1v1h-1zM17 31h1v1h-1zM23 31h1v1h-1zM26 31h1v1h-1zM27 2h1v1h-1zM28 1h1v2h-1zM28 22h1v2h-1zM28 25h1v1h-1zM28 30h1v1h-1zM30 23h1v1h-1zM30 29h1v1h-1zM31 11h1v1h-1zM31 29h1v1h-1zM32 2h1v1h-1zM32 5h1v1h-1zM32 18h1v1h-1zM32 24h1v1h-1zM32 28h1v1h-1zM34 20h1v1h-1zM35 10h1v1h-1zM35 25h1v1h-1zM36 2h1v1h-1zM36 31h1v1h-1zM37 14h1v1h-1z"/>
<path fill="#7affb7" d="M6 4h1v2h-1zM8 16h1v1h-1zM11 18h1v1h-1zM12 20h1v1h-1zM13 30h1v1h-1zM15 22h1v1h-1zM22 18h1v1h-1zM23 16h1v2h-1zM25 16h1v1h-1z"/>
<path fill="#5bf9c7" d="M6 6h1v1h-1zM6 11h1v2h-1zM6 15h1v1h-1zM7 23h1v1h-1zM8 29h1v1h-1zM11 19h1v1h-1zM11 23h1v1h-1zM13 27h1v1h-1zM18 29h1v1h-1zM24 19h1v1h-1zM27 20h1v1h-1zM29 6h1v1h-1zM29 10h1v1h-1zM31 7h1v1h-1z"/>
<path fill="#93fda9" d="M6 7h1v1h-1zM7 7h1v1h-1zM16 20h1v1h-1zM19 20h1v1h-1zM23 14h1v1h-1z"/>
<path fill="#6bfdbf" d="M6 9h1v1h-1zM7 15h1v1h-1zM8 25h1v1h-1zM9 20h1v1h-1zM19 29h1v1h-1zM21 18h1v1h-1zM27 16h1v1h-1zM28 7h1v1h-1zM29 5h1v1h-1z"/>
<path fill="#6efdbe" d="M6 10h1v1h-1zM8 17h1v1h-1zM10 21h1v1h-1zM11 24h1v1h-1zM16 28h1v1h-1zM20 22h1v1h-1zM24 21h1v1h-1zM27 15h1v1h-1z"/>
<path fill="#33e3d9" d="M6 20h1v1h-1zM8 27h1v1h-1zM9 24h1v1h-1zM9 26h1v1h-1zM16 30h1v1h-1zM19 27h1v1h-1zM23 22h1v1h-1zM23 27h1v1h-1zM26 20h1v1h-1zM26 25h1v1h-1zM29 14h1v2h-1zM30 13h1v1h-1zM31 5h1v1h-1zM31 14h1v1h-1zM31 17h1v1h-1zM31 19h1v1h-1zM32 7h1v2h-1zM32 11h1v1h-1zM33 12h1v1h-1zM34 15h1v1h-1z"/>
<path fill="#87ffb0" d="M7 4h1v2h-1zM10 18h1v1h-1zM11 20h1v2h-1zM12 24h1v1h-1zM14 20h1v1h-1zM22 16h1v1h-1z"/>
<path fill="#7cffb6" d="M7 6h1v1h-1zM7 9h1v1h-1zM11 22h1v1h-1zM11 27h1v1h-1zM16 22h1v1h-1zM24 17h1v1h-1zM26 15h1v1h-1zM28 9h1v1h-1z"/>
<path fill="#8dfead" d="M7 8h1v1h-1zM8 13h1v1h-1zM19 17h1v1h-1zM27 5h1v1h-1z"/>
<path fill="#95fda8" d="M7 10h1v1h-1zM17 20h1v1h-1zM19 19h1v1h-1zM21 15h1v1h-1zM23 2h1v1h-1z"/>
<path fill="#8efeac" d="M7 13h1v1h-1zM8 1h1v1h-1zM8 15h1v1h-1zM14 21h1v1h-1zM20 18h1v1h-1z"/>
<path fill="#91fdaa" d="M8 2h1v1h-1z"/>
<path fill="#acf69a" d="M8 3h1v1h-1zM15 18h1v1h-1zM19 13h1v1h-1zM21 13h1v1h-1zM25 11h1v1h-1z"/>
<path fill="#b9ef92" d="M8 4h1v1h-1z"/>
<path fill="#beec8e" d="M8 5h1v1h-1zM19 15h1v1h-1zM25 9h1v1h-1z"/>
<path fill="#c7e789" d="M8 6h1v1h-1zM16 1h1v1h-1zM24 3h1v2h-1z"/>
<path fill="#c0eb8d" d="M8 7h1v1h-1zM9 11h1v1h-1zM16 16h1v1h-1zM18 12h1v1h-1zM20 11h1v1h-1zM26 6h1v1h-1z"/>
<path fill="#bded8f" d="M8 8h1v1h-1zM9 12h1v1h-1z"/>
<path fill="#b6f193" d="M8 9h1v1h-1zM24 8h1v1h-1z"/>
<path fill="#c2ea8c" d="M8 10h1v1h-1zM20 8h1v1h-1z"/>
<path fill="#c1eb8d" d="M8 11h1v1h-1zM20 4h1v1h-1zM20 6h1v1h-1zM21 5h1v1h-1zM22 9h1v1h-1zM23 4h1v1h-1z"/>
<path fill="#a0faa1" d="M8 12h1v1h-1zM18 17h1v1h-1z"/>
<path fill="#a3f9a0" d="M8 14h1v1h-1zM10 15h1v1h-1zM14 19h1v1h-1zM20 2h1v1h-1z"/>
<path fill="#69fdc0" d="M8 20h1v1h-1zM9 19h1v1h-1zM13 22h1v1h-1zM13 26h1v1h-1zM15 27h1v1h-1zM17 21h1v1h-1zM17 24h1v1h-1zM23 19h1v1h-1z"/>
<path fill="#28dbde" d="M9 0h1v1h-1zM22 25h1v1h-1zM23 24h1v1h-1zM25 19h1v1h-1zM26 27h1v1h-1zM31 26h1v1h-1zM33 16h1v1h-1z"/>
<path fill="#97fca7" d="M9 1h1v1h-1z"/>
<path fill="#cfe183" d="M9 2h1v1h-1z"/>
<path fill="#d9da7d" d="M9 3h1v1h-1z"/>
<path fill="#e2d277" d="M9 4h1v1h-1zM22 7h1v1h-1z"/>
<path fill="#e3d176" d="M9 5h1v1h-1z"/>
<path fill="#edc76e" d="M9 6h1v1h-1z"/>
<path fill="#f2c26b" d="M9 7h1v1h-1zM15 1h1v1h-1z"/>
<path fill="#eaca70" d="M9 8h1v1h-1z"/>
<path fill="#edc76f" d="M9 9h1v1h-1z"/>
<path fill="#d7db7e" d="M9 10h1v1h-1zM15 12h1v1h-1zM17 11h1v1h-1zM19 6h1v1h-1zM20 7h1v1h-1z"/>
<path fill="#baee91" d="M9 13h1v1h-1zM22 4h1v1h-1zM22 11h1v1h-1z"/>
<path fill="#99fca5" d="M9 14h1v1h-1zM17 17h1v1h-1zM18 19h1v1h-1zM22 3h1v1h-1zM25 14h1v1h-1zM27 7h1v1h-1z"/>
<path fill="#aef599" d="M9 15h1v1h-1zM22 12h1v1h-1zM24 10h1v1h-1z"/>
<path fill="#9efba3" d="M9 16h1v1h-1zM19 18h1v1h-1zM24 11h1v1h-1zM25 3h1v1h-1zM25 15h1v1h-1zM26 7h1v1h-1z"/>
<path fill="#83ffb2" d="M9 18h1v1h-1zM26 14h1v1h-1z"/>
<path fill="#d5dc7f" d="M10 0h1v1h-1zM12 15h1v1h-1z"/>
<path fill="#ff773e" d="M10 1h1v1h-1zM15 3h1v1h-1z"/>
<path fill="#ff5c2f" d="M10 2h1v1h-1zM15 6h1v1h-1z"/>
<path fill="#ff6a36" d="M10 3h1v1h-1z"/>
<path fill="#ff9b52" d="M10 4h1v1h-1zM11 9h1v1h-1z"/>
<path fill="#ffb160" d="M10 5h1v1h-1z"/>
<path fill="#feb663" d="M10 6h1v1h-1z"/>
<path fill="#ffae5e" d="M10 7h1v1h-1z"/>
<path fill="#ff9f54" d="M10 8h1v1h-1z"/>
<path fill="#f3c16a" d="M10 9h1v1h-1zM12 12h1v1h-1zM17 2h1v1h-1z"/>
<path fill="#d3de80" d="M10 10h1v1h-1zM17 14h1v1h-1zM19 5h1v1h-1zM20 10h1v1h-1z"/>
<path fill="#e6ce74" d="M10 11h1v1h-1zM19 9h1v1h-1z"/>
<path fill="#e9cb71" d="M10 12h1v1h-1z"/>
<path fill="#d2df81" d="M10 13h1v1h-1zM17 13h1v1h-1zM18 13h1v1h-1zM19 7h1v1h-1z"/>
<path fill="#9cfba4" d="M10 14h1v1h-1zM20 16h1v1h-1zM21 14h1v1h-1z"/>
<path fill="#a8f79d" d="M10 16h1v1h-1zM18 16h1v1h-1zM26 4h1v1h-1z"/>
<path fill="#a5f89f" d="M10 17h1v1h-1zM20 3h1v1h-1zM23 12h1v1h-1z"/>
<path fill="#82ffb3" d="M10 20h1v1h-1zM17 22h1v1h-1zM20 20h1v1h-1zM21 1h1v1h-1zM27 4h1v1h-1zM27 11h1v1h-1z"/>
<path fill="#ffa055" d="M11 0h1v1h-1zM16 7h1v1h-1z"/>
<path fill="#ff1209" d="M11 1h1v1h-1z"/>
<path fill="#ff1f0f" d="M11 2h1v1h-1z"/>
<path fill="#ff2c16" d="M11 3h1v1h-1z"/>
<path fill="#ff6232" d="M11 4h1v1h-1z"/>
<path fill="#ff6534" d="M11 5h1v1h-1z"/>
<path fill="#ff713a" d="M11 6h1v1h-1z"/>
<path fill="#ff8344" d="M11 7h1v1h-1z"/>
<path fill="#ffb05f" d="M11 8h1v1h-1zM12 10h1v1h-1zM15 9h1v2h-1z"/>
<path fill="#ffa558" d="M11 10h1v1h-1z"/>
<path fill="#ebc970" d="M11 11h1v1h-1zM24 5h1v1h-1z"/>
<path fill="#e8cc72" d="M11 12h1v1h-1zM17 3h1v1h-1zM25 6h1v1h-1z"/>
<path fill="#ded579" d="M11 13h1v1h-1zM15 14h1v1h-1zM16 12h1v1h-1z"/>
<path fill="#cee284" d="M11 14h1v1h-1z"/>
<path fill="#b3f296" d="M11 15h1v1h-1z"/>
<path fill="#b1f397" d="M11 16h1v1h-1zM18 15h1v1h-1zM18 18h1v1h-1z"/>
<path fill="#94fda9" d="M11 17h1v1h-1z"/>
<path fill="#ffac5c" d="M12 0h1v1h-1zM17 8h1v1h-1z"/>
<path fill="#ff0301" d="M12 1h1v1h-1z"/>
<path fill="#ff0000" d="M12 2h1v1h-1zM13 2h1v1h-1z"/>
<path fill="#ff0e07" d="M12 3h1v1h-1z"/>
<path fill="#ff592d" d="M12 4h1v1h-1z"/>
<path fill="#ff4b26" d="M12 5h1v1h-1z"/>
<path fill="#ff6131" d="M12 6h1v1h-1z"/>
<path fill="#ff8e4a" d="M12 7h1v1h-1z"/>
<path fill="#ff934d" d="M12 8h1v1h-1zM15 7h1v1h-1z"/>
<path fill="#ff9d53" d="M12 9h1v1h-1z"/>
<path fill="#f7bd67" d="M12 11h1v1h-1z"/>
<path fill="#cbe486" d="M12 13h1v1h-1zM17 1h1v1h-1zM17 15h1v1h-1zM21 6h1v1h-1zM25 4h1v1h-1zM25 10h1v1h-1z"/>
<path fill="#d4dd80" d="M12 14h1v1h-1zM18 3h1v1h-1z"/>
<path fill="#b5f194" d="M12 16h1v1h-1zM15 17h1v1h-1zM18 1h1v1h-1zM20 14h1v2h-1zM26 8h1v1h-1z"/>
<path fill="#8afeae" d="M12 17h1v1h-1zM13 20h1v1h-1zM21 2h1v1h-1zM21 17h1v1h-1zM25 2h1v1h-1zM26 16h1v1h-1z"/>
<path fill="#a1f9a1" d="M12 18h1v1h-1z"/>
<path fill="#aff498" d="M12 19h1v1h-1zM19 1h1v1h-1zM21 4h1v1h-1z"/>
<path fill="#85ffb1" d="M12 21h1v1h-1zM12 25h1v1h-1zM15 20h1v1h-1zM27 8h1v2h-1z"/>
<path fill="#7effb5" d="M12 27h1v1h-1zM17 0h1v1h-1zM20 0h1v1h-1zM23 15h1v1h-1zM24 16h1v1h-1zM26 2h1v1h-1zM26 13h1v1h-1zM27 14h1v1h-1z"/>
<path fill="#ffa256" d="M13 0h1v1h-1z"/>
<path fill="#ff0704" d="M13 1h1v1h-1z"/>
<path fill="#ff2814" d="M13 3h1v1h-1z"/>
<path fill="#ff4423" d="M13 4h1v1h-1z"/>
<path fill="#ff3f20" d="M13 5h1v1h-1z"/>
<path fill="#ff793e" d="M13 6h1v1h-1z"/>
<path fill="#ff924c" d="M13 7h1v1h-1z"/>
<path fill="#ff8042" d="M13 8h1v1h-1zM15 8h1v1h-1z"/>
<path fill="#ffa357" d="M13 9h1v1h-1zM14 11h1v1h-1z"/>
<path fill="#fbb965" d="M13 10h1v1h-1z"/>
<path fill="#ffb15f" d="M13 11h1v1h-1z"/>
<path fill="#edc86f" d="M13 12h1v1h-1z"/>
<path fill="#dfd478" d="M13 13h1v1h-1z"/>
<path fill="#d1df82" d="M13 14h1v1h-1zM18 9h1v1h-1z"/>
<path fill="#c3e98b" d="M13 15h1v1h-1z"/>
<path fill="#a4f99f" d="M13 16h1v1h-1zM17 19h1v1h-1zM22 2h1v1h-1z"/>
<path fill="#a7f89d" d="M13 17h1v1h-1zM23 3h1v1h-1zM24 12h1v1h-1z"/>
<path fill="#adf59a" d="M13 18h1v1h-1zM14 17h1v1h-1z"/>
<path fill="#88ffaf" d="M13 19h1v1h-1zM21 19h1v1h-1zM22 0h1v1h-1z"/>
<path fill="#74feba" d="M13 21h1v1h-1zM15 21h1v1h-1zM16 21h1v1h-1zM18 21h1v1h-1zM18 24h1v1h-1zM19 21h1v1h-1zM21 0h1v1h-1zM24 15h1v1h-1zM27 3h1v1h-1z"/>
<path fill="#76ffb9" d="M13 24h1v1h-1zM14 22h1v1h-1zM16 24h1v1h-1zM19 0h1v1h-1zM22 14h1v1h-1zM27 12h1v1h-1z"/>
<path fill="#d3de81" d="M14 0h1v1h-1zM15 11h1v1h-1zM22 6h1v1h-1z"/>
<path fill="#ff361b" d="M14 1h1v1h-1z"/>
<path fill="#ff552b" d="M14 2h1v1h-1z"/>
<path fill="#ff5028" d="M14 3h1v1h-1z"/>
<path fill="#ff3b1e" d="M14 4h1v1h-1z"/>
<path fill="#ff4e27" d="M14 5h1v1h-1z"/>
<path fill="#ff8244" d="M14 6h1v1h-1z"/>
<path fill="#ff773d" d="M14 7h1v1h-1z"/>
<path fill="#ff6c38" d="M14 8h1v1h-1z"/>
<path fill="#ffaf5e" d="M14 9h1v1h-1zM17 6h1v1h-1z"/>
<path fill="#f9bb66" d="M14 10h1v1h-1z"/>
<path fill="#ffb461" d="M14 12h1v1h-1z"/>
<path fill="#dbd87b" d="M14 13h1v1h-1z"/>
<path fill="#e2d176" d="M14 14h1v1h-1zM19 8h1v1h-1zM25 5h1v1h-1z"/>
<path fill="#ddd67a" d="M14 15h1v1h-1zM15 13h1v1h-1zM18 2h1v1h-1z"/>
<path fill="#baef91" d="M14 16h1v1h-1z"/>
<path fill="#9ffaa2" d="M14 18h1v1h-1zM16 18h1v1h-1zM21 3h1v1h-1zM22 13h1v1h-1zM25 13h1v1h-1zM26 3h1v1h-1z"/>
<path fill="#90feab" d="M15 0h1v1h-1zM21 16h1v1h-1z"/>
<path fill="#ff7b3f" d="M15 2h1v1h-1z"/>
<path fill="#ff7e41" d="M15 4h1v1h-1z"/>
<path fill="#ff7b40" d="M15 5h1v1h-1z"/>
<path fill="#cde385" d="M15 15h1v1h-1z"/>
<path fill="#cae486" d="M15 16h1v1h-1zM18 11h1v1h-1z"/>
<path fill="#ffb260" d="M16 2h1v1h-1z"/>
<path fill="#ff9e53" d="M16 3h1v1h-1z"/>
<path fill="#ff9c52" d="M16 4h1v1h-1z"/>
<path fill="#ffa658" d="M16 5h1v1h-1z"/>
<path fill="#ffa356" d="M16 6h1v1h-1z"/>
<path fill="#ff954e" d="M16 8h1v1h-1z"/>
<path fill="#ffb562" d="M16 9h1v1h-1z"/>
<path fill="#fbb964" d="M16 10h1v1h-1z"/>
<path fill="#f4c069" d="M16 11h1v1h-1z"/>
<path fill="#eec66d" d="M16 13h1v1h-1z"/>
<path fill="#d1e082" d="M16 14h1v1h-1zM24 9h1v1h-1z"/>
<path fill="#c4e88a" d="M16 15h1v1h-1z"/>
<path fill="#b8f092" d="M16 17h1v1h-1zM19 12h1v1h-1zM21 9h1v1h-1zM22 8h1v1h-1z"/>
<path fill="#9afba5" d="M16 19h1v1h-1zM18 20h1v1h-1zM26 9h1v1h-1z"/>
<path fill="#faba66" d="M17 4h1v1h-1z"/>
<path fill="#ff9e54" d="M17 5h1v1h-1z"/>
<path fill="#ffaa5b" d="M17 7h1v1h-1z"/>
<path fill="#e7cc72" d="M17 9h1v1h-1z"/>
<path fill="#e7cd73" d="M17 10h1v1h-1z"/>
<path fill="#dcd77b" d="M17 12h1v1h-1z"/>
<path fill="#c6e889" d="M17 16h1v1h-1z"/>
<path fill="#aaf69b" d="M17 18h1v1h-1zM21 12h1v1h-1zM22 10h1v1h-1zM23 10h1v1h-1z"/>
<path fill="#ecc86f" d="M18 4h1v1h-1z"/>
<path fill="#eec66e" d="M18 5h1v1h-1z"/>
<path fill="#e5cf74" d="M18 6h1v1h-1z"/>
<path fill="#eaca71" d="M18 7h1v1h-1z"/>
<path fill="#e4d075" d="M18 8h1v1h-1zM24 6h1v1h-1z"/>
<path fill="#d6dc7f" d="M18 10h1v1h-1z"/>
<path fill="#cee184" d="M18 14h1v1h-1zM25 7h1v1h-1z"/>
<path fill="#b4f295" d="M19 2h1v1h-1zM26 11h1v1h-1z"/>
<path fill="#bcee90" d="M19 3h1v1h-1zM19 14h1v1h-1zM21 11h1v1h-1zM23 9h1v1h-1z"/>
<path fill="#dad87c" d="M19 4h1v1h-1z"/>
<path fill="#c6e789" d="M19 10h1v1h-1z"/>
<path fill="#dad97c" d="M19 11h1v1h-1z"/>
<path fill="#b5f195" d="M19 16h1v1h-1zM20 13h1v1h-1z"/>
<path fill="#98fca6" d="M20 1h1v1h-1zM20 17h1v1h-1z"/>
<path fill="#c5e88a" d="M20 5h1v1h-1zM22 5h1v1h-1zM23 5h1v1h-1z"/>
<path fill="#d6dc7e" d="M20 9h1v1h-1z"/>
<path fill="#abf69b" d="M20 12h1v1h-1zM23 11h1v1h-1z"/>
<path fill="#d0e183" d="M21 7h1v1h-1zM23 8h1v1h-1z"/>
<path fill="#c8e688" d="M21 8h1v1h-1z"/>
<path fill="#b0f497" d="M21 10h1v1h-1z"/>
<path fill="#80ffb4" d="M22 15h1v1h-1zM27 6h1v1h-1z"/>
<path fill="#d8da7d" d="M23 6h1v1h-1zM24 7h1v1h-1z"/>
<path fill="#cce385" d="M23 7h1v1h-1z"/>
<path fill="#8bfeae" d="M23 13h1v1h-1zM25 12h1v1h-1zM26 10h1v1h-1zM26 12h1v1h-1zM28 8h1v1h-1z"/>
<path fill="#a9f79c" d="M24 2h1v1h-1z"/>
<path fill="#bfec8e" d="M24 13h1v1h-1z"/>
<path fill="#bbee90" d="M25 8h1v1h-1z"/>
<path fill="#9dfba3" d="M26 5h1v1h-1z"/>
</g></g></g>
<g clip-path="url(#c3)" stroke="#6c6c6c" fill="#6c6c6c">
<path d="M240.5 1371.6V1205.0M288.6 1340.6V1158.2M336.6 1371.6V1194.9M384.7 1371.6V1191.6M432.7 1371.6V1163.9M480.8 1371.6V1139.5M528.8 1350.4V1117.5M576.9 1332.5V1115.1M624.9 1341.8V1152.5M673.0 1317.8V1122.0M721.0 1310.9V1094.7M769.1 1289.7V1084.9M817.1 1259.2V984.8M865.2 1235.6V984.8M913.2 1183.5V964.4" fill="none" stroke-width="4.0"/>
<path d="M229.9 1371.6h21.2M229.9 1205.0h21.2M278.0 1340.6h21.2M278.0 1158.2h21.2M326.0 1371.6h21.2M326.0 1194.9h21.2M374.1 1371.6h21.2M374.1 1191.6h21.2M422.1 1371.6h21.2M422.1 1163.9h21.2M470.2 1371.6h21.2M470.2 1139.5h21.2M518.2 1350.4h21.2M518.2 1117.5h21.2M566.3 1332.5h21.2M566.3 1115.1h21.2M614.3 1341.8h21.2M614.3 1152.5h21.2M662.4 1317.8h21.2M662.4 1122.0h21.2M710.4 1310.9h21.2M710.4 1094.7h21.2M758.5 1289.7h21.2M758.5 1084.9h21.2M806.5 1259.2h21.2M806.5 984.8h21.2M854.6 1235.6h21.2M854.6 984.8h21.2M902.6 1183.5h21.2M902.6 964.4h21.2" fill="none" stroke-width="2.2" />
<polyline points="240.5,1279.1 288.6,1250.2 336.6,1296.2 384.7,1291.4 432.7,1265.7 480.8,1246.2 528.8,1234.4 576.9,1223.8 624.9,1248.2 673.0,1219.7 721.0,1203.0 769.1,1187.1 817.1,1133.8 865.2,1113.4 913.2,1044.6" fill="none" stroke-width="3.4" stroke-linejoin="round"/>
<rect x="233.1" y="1271.7" width="14.8" height="14.8" stroke="none"/>
<rect x="281.2" y="1242.8" width="14.8" height="14.8" stroke="none"/>
<rect x="329.2" y="1288.8" width="14.8" height="14.8" stroke="none"/>
<rect x="377.3" y="1284.0" width="14.8" height="14.8" stroke="none"/>
<rect x="425.3" y="1258.3" width="14.8" height="14.8" stroke="none"/>
<rect x="473.4" y="1238.8" width="14.8" height="14.8" stroke="none"/>
<rect x="521.4" y="1227.0" width="14.8" height="14.8" stroke="none"/>
<rect x="569.5" y="1216.4" width="14.8" height="14.8" stroke="none"/>
<rect x="617.5" y="1240.8" width="14.8" height="14.8" stroke="none"/>
<rect x="665.6" y="1212.3" width="14.8" height="14.8" stroke="none"/>
<rect x="713.6" y="1195.6" width="14.8" height="14.8" stroke="none"/>
<rect x="761.7" y="1179.7" width="14.8" height="14.8" stroke="none"/>
<rect x="809.7" y="1126.4" width="14.8" height="14.8" stroke="none"/>
<rect x="857.8" y="1106.0" width="14.8" height="14.8" stroke="none"/>
<rect x="905.8" y="1037.2" width="14.8" height="14.8" stroke="none"/>
</g>
</g>
<g id="panel4">
<clipPath id="c4"><rect x="1206.00" y="48.40" width="960.80" height="325.70"/></clipPath>
<g clip-path="url(#c4)"><g><g transform="translate(1206.000 374.100) scale(16.0133 -6.5140)" shape-rendering="crispEdges">
<path fill="#2784f6" d="M1 13h1v1h-1zM2 22h1v1h-1zM3 21h1v1h-1zM3 25h1v1h-1zM4 29h1v1h-1zM4 32h1v1h-1zM5 42h1v1h-1zM6 45h1v1h-1zM15 43h1v1h-1zM16 47h1v1h-1zM16 49h1v1h-1zM17 42h1v1h-1zM17 49h1v1h-1zM18 34h1v1h-1zM18 37h1v1h-1zM19 37h1v1h-1zM20 30h1v1h-1zM20 39h1v1h-1zM20 46h1v1h-1zM22 29h1v1h-1zM22 42h1v1h-1zM22 47h1v1h-1zM24 36h1v2h-1zM26 40h1v1h-1zM29 25h1v1h-1zM31 26h1v1h-1zM32 17h1v2h-1zM33 19h1v1h-1zM33 30h1v2h-1zM34 29h1v1h-1zM35 25h1v1h-1zM37 15h1v1h-1zM37 18h1v1h-1zM37 23h1v1h-1zM41 22h1v1h-1zM42 26h1v1h-1zM44 14h1v1h-1zM44 16h1v1h-1zM45 14h1v1h-1zM47 10h1v1h-1zM51 9h1v1h-1zM52 8h1v1h-1z"/>
<path fill="#5bf9c7" d="M1 14h1v1h-1zM8 46h1v1h-1zM18 28h1v1h-1zM21 23h1v1h-1zM29 16h1v1h-1zM32 14h1v1h-1z"/>
<path fill="#8000ff" d="M1 15h1v1h-1zM2 35h1v1h-1zM2 40h1v1h-1zM3 29h1v2h-1zM3 33h1v1h-1zM3 39h1v3h-1zM4 11h1v1h-1zM4 33h1v1h-1zM4 35h1v1h-1zM5 35h1v1h-1zM5 46h1v1h-1zM5 49h1v1h-1zM6 6h1v2h-1zM8 5h1v1h-1zM9 5h1v1h-1zM13 48h1v1h-1zM15 45h1v1h-1zM16 3h1v1h-1zM16 38h1v3h-1zM16 46h1v1h-1zM18 42h1v1h-1zM18 47h1v1h-1zM19 3h1v1h-1zM19 38h1v2h-1zM19 43h1v3h-1zM19 48h1v2h-1zM20 31h1v2h-1zM20 34h1v2h-1zM20 38h1v1h-1zM20 40h1v2h-1zM20 44h1v2h-1zM20 48h1v2h-1zM21 35h1v2h-1zM21 40h1v2h-1zM21 44h1v2h-1zM22 35h1v2h-1zM22 41h1v1h-1zM22 46h1v1h-1zM22 48h1v2h-1zM23 30h1v3h-1zM23 34h1v1h-1zM23 36h1v1h-1zM23 38h1v1h-1zM23 47h1v1h-1zM24 2h1v1h-1zM24 33h1v1h-1zM24 35h1v1h-1zM25 27h1v3h-1zM25 31h1v1h-1zM25 34h1v1h-1zM25 36h1v1h-1zM25 38h1v1h-1zM25 40h1v1h-1zM26 28h1v2h-1zM26 32h1v3h-1zM26 36h1v1h-1zM26 38h1v2h-1zM26 43h1v2h-1zM26 49h1v1h-1zM27 27h1v2h-1zM27 31h1v2h-1zM27 36h1v1h-1zM27 45h1v1h-1zM28 30h1v1h-1zM28 34h1v1h-1zM28 36h1v1h-1zM28 43h1v1h-1zM29 3h1v1h-1zM29 26h1v2h-1zM29 30h1v2h-1zM29 39h1v1h-1zM30 3h1v1h-1zM30 27h1v2h-1zM31 3h1v1h-1zM31 27h1v2h-1zM31 34h1v1h-1zM31 37h1v1h-1zM31 45h1v1h-1zM31 49h1v1h-1zM32 28h1v1h-1zM32 37h1v1h-1zM32 39h1v1h-1zM32 42h1v4h-1zM32 47h1v1h-1zM32 49h1v1h-1zM33 27h1v1h-1zM33 35h1v1h-1zM33 37h1v1h-1zM34 3h1v1h-1zM34 27h1v1h-1zM34 35h1v1h-1zM34 38h1v1h-1zM34 46h1v1h-1zM35 3h1v1h-1zM35 23h1v2h-1zM35 28h1v1h-1zM35 35h1v1h-1zM36 3h1v1h-1zM36 19h1v1h-1zM36 23h1v2h-1zM36 26h1v2h-1zM37 21h1v1h-1zM38 4h1v1h-1zM38 18h1v2h-1zM38 23h1v1h-1zM38 27h1v1h-1zM38 37h1v1h-1zM38 39h1v1h-1zM39 22h1v3h-1zM39 26h1v3h-1zM39 30h1v1h-1zM39 34h1v1h-1zM40 23h1v2h-1zM40 27h1v2h-1zM40 37h1v1h-1zM41 23h1v3h-1zM41 28h1v1h-1zM42 4h1v1h-1zM42 18h1v1h-1zM42 20h1v1h-1zM42 24h1v2h-1zM43 4h1v1h-1zM43 18h1v1h-1zM43 20h1v2h-1zM44 4h1v1h-1zM44 13h1v1h-1zM44 17h1v2h-1zM45 4h1v1h-1zM45 15h1v1h-1zM45 18h1v2h-1zM46 12h1v5h-1zM47 12h1v4h-1zM47 19h1v1h-1zM48 4h1v1h-1zM48 12h1v1h-1zM49 13h1v1h-1zM50 6h1v1h-1zM50 11h1v1h-1zM51 6h1v1h-1zM52 5h1v1h-1zM54 9h1v1h-1zM54 11h1v1h-1z"/>
<path fill="#5345fd" d="M2 12h1v1h-1zM2 39h1v1h-1zM3 23h1v1h-1zM10 3h1v1h-1zM15 46h1v1h-1zM16 45h1v1h-1zM18 38h1v1h-1zM18 43h1v2h-1zM20 36h1v2h-1zM21 30h1v1h-1zM21 34h1v1h-1zM21 37h1v1h-1zM21 43h1v1h-1zM21 49h1v1h-1zM22 30h1v1h-1zM22 45h1v1h-1zM23 35h1v1h-1zM24 30h1v3h-1zM26 30h1v2h-1zM26 35h1v1h-1zM27 30h1v1h-1zM28 26h1v1h-1zM28 28h1v1h-1zM29 24h1v1h-1zM29 28h1v2h-1zM30 25h1v1h-1zM31 23h1v1h-1zM31 25h1v1h-1zM32 26h1v1h-1zM33 25h1v2h-1zM33 34h1v1h-1zM34 22h1v1h-1zM34 25h1v1h-1zM35 27h1v1h-1zM35 29h1v1h-1zM38 17h1v1h-1zM38 24h1v1h-1zM39 18h1v1h-1zM42 19h1v1h-1zM42 27h1v1h-1zM45 13h1v1h-1zM46 4h1v1h-1zM49 5h1v1h-1zM51 8h1v1h-1zM52 7h1v1h-1z"/>
<path fill="#98fca6" d="M2 13h1v1h-1zM5 20h1v1h-1zM5 23h1v1h-1zM10 35h1v2h-1zM11 40h1v1h-1zM14 29h1v1h-1zM16 27h1v1h-1zM29 5h1v1h-1zM30 4h1v1h-1zM37 10h1v1h-1zM41 7h1v1h-1z"/>
<path fill="#88ffaf" d="M2 14h1v2h-1zM4 18h1v1h-1zM11 43h1v1h-1zM26 16h1v1h-1zM31 12h1v1h-1zM34 5h1v1h-1zM41 8h1v1h-1z"/>
<path fill="#1fd3e1" d="M2 16h1v1h-1zM2 28h1v1h-1zM16 37h1v1h-1zM20 43h1v1h-1zM21 48h1v1h-1zM22 26h1v1h-1zM23 24h1v1h-1zM34 16h1v1h-1zM38 16h1v1h-1zM40 17h1v1h-1z"/>
<path fill="#52f5cc" d="M2 17h1v1h-1zM4 26h1v1h-1zM5 32h1v1h-1zM7 47h1v1h-1zM13 43h1v1h-1zM14 38h1v1h-1zM26 20h1v1h-1zM41 11h1v1h-1zM42 10h1v1h-1zM42 12h1v1h-1zM47 6h1v1h-1z"/>
<path fill="#61fbc4" d="M2 18h1v1h-1zM2 20h1v1h-1zM3 18h1v1h-1zM6 47h1v1h-1zM8 38h1v1h-1zM8 43h1v1h-1zM11 47h1v1h-1zM12 47h1v1h-1zM16 29h1v1h-1zM18 27h1v1h-1zM24 19h1v1h-1zM26 19h1v1h-1zM41 10h1v1h-1z"/>
<path fill="#73febb" d="M2 19h1v1h-1zM6 32h1v1h-1zM6 36h1v1h-1zM6 41h1v1h-1zM8 39h1v1h-1zM10 39h1v1h-1zM11 48h1v1h-1zM12 43h1v1h-1zM18 5h1v1h-1zM18 25h1v1h-1zM19 22h1v1h-1zM27 16h1v1h-1z"/>
<path fill="#59f8c8" d="M2 21h1v1h-1zM6 35h1v1h-1zM11 3h1v1h-1zM25 21h1v1h-1zM34 14h1v1h-1zM38 12h1v1h-1zM45 8h1v1h-1z"/>
<path fill="#19cee3" d="M2 23h1v1h-1zM4 24h1v1h-1zM7 48h1v1h-1zM17 37h1v1h-1zM19 27h1v1h-1zM19 40h1v1h-1zM21 27h1v1h-1zM26 23h1v1h-1zM27 25h1v1h-1zM28 20h1v1h-1zM29 19h1v1h-1zM33 4h1v1h-1zM33 20h1v1h-1zM33 22h1v1h-1zM34 20h1v1h-1zM38 15h1v1h-1zM43 15h1v1h-1zM50 10h1v1h-1z"/>
<path fill="#48f0d0" d="M2 24h1v1h-1zM3 26h1v1h-1zM12 49h1v1h-1zM13 41h1v1h-1zM14 39h1v1h-1zM14 41h1v1h-1zM16 33h1v1h-1zM16 36h1v1h-1zM21 4h1v1h-1zM28 17h1v1h-1zM37 13h1v1h-1zM45 5h1v1h-1zM47 7h1v1h-1z"/>
<path fill="#55f6ca" d="M2 25h1v1h-1zM15 4h1v1h-1zM15 40h1v1h-1zM17 29h1v1h-1zM19 26h1v1h-1zM20 4h1v1h-1zM27 18h1v1h-1zM31 16h1v1h-1zM42 11h1v1h-1z"/>
<path fill="#50f4cd" d="M2 26h1v1h-1zM14 4h1v1h-1zM14 43h1v1h-1zM17 31h1v1h-1zM22 23h1v1h-1zM26 17h1v1h-1zM28 4h1v1h-1zM29 18h1v1h-1zM36 13h1v1h-1z"/>
<path fill="#4ef3ce" d="M2 27h1v1h-1zM8 35h1v1h-1zM9 47h1v1h-1zM10 49h1v1h-1zM15 37h1v1h-1zM15 41h1v1h-1zM19 28h1v1h-1zM20 23h1v1h-1zM20 26h1v1h-1zM27 19h1v1h-1zM28 18h1v2h-1zM33 14h1v1h-1zM34 15h1v1h-1zM35 15h1v1h-1zM37 14h1v1h-1zM39 12h1v1h-1zM44 11h1v1h-1zM46 7h1v1h-1zM49 7h1v1h-1z"/>
<path fill="#3ce9d6" d="M2 29h1v2h-1zM13 44h1v1h-1zM18 31h1v1h-1zM23 22h1v1h-1zM27 22h1v1h-1zM46 8h1v1h-1zM48 9h1v1h-1z"/>
<path fill="#31e2da" d="M2 37h1v1h-1zM4 31h1v1h-1zM8 45h1v1h-1zM14 47h1v1h-1zM20 25h1v1h-1zM20 27h1v1h-1zM23 25h1v1h-1zM31 21h1v1h-1zM34 18h1v1h-1zM35 16h1v1h-1zM46 6h1v1h-1zM47 9h1v1h-1zM50 8h1v1h-1zM53 8h1v1h-1z"/>
<path fill="#0da5ef" d="M2 38h1v1h-1zM15 47h1v1h-1zM16 48h1v1h-1zM17 41h1v1h-1zM17 47h1v2h-1zM18 33h1v1h-1zM18 35h1v1h-1zM18 40h1v1h-1zM21 28h1v1h-1zM24 26h1v1h-1zM25 26h1v1h-1zM28 23h1v1h-1zM28 33h1v1h-1zM30 26h1v1h-1zM31 20h1v1h-1zM32 21h1v1h-1zM32 25h1v1h-1zM33 21h1v1h-1zM33 24h1v1h-1zM34 24h1v1h-1zM35 26h1v1h-1zM37 22h1v1h-1zM38 26h1v1h-1zM39 15h1v1h-1zM40 21h1v1h-1zM41 16h1v2h-1zM45 11h1v1h-1zM46 9h1v1h-1zM47 5h1v1h-1zM48 5h1v1h-1zM49 11h1v1h-1zM52 9h1v1h-1z"/>
<path fill="#1997f2" d="M3 15h1v1h-1zM3 24h1v1h-1zM3 28h1v1h-1zM3 36h1v1h-1zM10 4h1v1h-1zM15 48h1v1h-1zM17 38h1v1h-1zM17 45h1v1h-1zM18 36h1v1h-1zM21 38h1v2h-1zM22 28h1v1h-1zM22 31h1v3h-1zM23 2h1v1h-1zM24 27h1v2h-1zM24 34h1v1h-1zM25 24h1v1h-1zM26 27h1v1h-1zM27 29h1v1h-1zM27 35h1v1h-1zM28 29h1v1h-1zM30 20h1v1h-1zM30 22h1v1h-1zM31 41h1v1h-1zM32 29h1v1h-1zM33 29h1v1h-1zM38 21h1v2h-1zM39 14h1v1h-1zM39 19h1v1h-1zM41 14h1v1h-1zM42 14h1v1h-1zM42 16h1v1h-1zM43 17h1v1h-1zM43 19h1v1h-1zM46 5h1v1h-1zM46 10h1v2h-1zM46 17h1v1h-1zM47 11h1v1h-1zM49 12h1v1h-1zM51 10h1v1h-1zM53 9h1v1h-1z"/>
<path fill="#76ffba" d="M3 16h1v1h-1zM4 13h1v1h-1zM9 41h1v1h-1zM10 46h1v1h-1zM12 44h1v1h-1zM15 30h1v1h-1zM22 21h1v1h-1zM25 4h1v1h-1zM28 16h1v1h-1zM31 4h1v1h-1zM31 13h1v1h-1z"/>
<path fill="#6bfdbf" d="M3 17h1v1h-1zM5 27h1v1h-1zM16 31h1v1h-1zM18 26h1v1h-1zM22 20h1v1h-1zM45 7h1v1h-1z"/>
<path fill="#5ffac5" d="M3 19h1v1h-1zM5 30h1v1h-1zM8 6h1v1h-1zM9 48h1v1h-1zM12 48h1v1h-1zM19 25h1v1h-1zM24 20h1v1h-1zM25 19h1v1h-1zM26 4h1v1h-1zM37 12h1v1h-1z"/>
<path fill="#39e7d7" d="M3 20h1v1h-1zM5 39h1v1h-1zM6 43h1v1h-1zM13 46h1v1h-1zM15 42h1v1h-1zM17 34h1v1h-1zM18 32h1v1h-1zM19 30h1v1h-1zM19 34h1v1h-1zM22 24h1v1h-1zM24 25h1v1h-1zM26 22h1v1h-1zM27 20h1v1h-1zM33 16h1v1h-1zM40 10h1v1h-1zM40 14h1v1h-1zM48 6h1v1h-1zM49 10h1v1h-1z"/>
<path fill="#3a6bf9" d="M3 22h1v1h-1zM4 34h1v1h-1zM5 43h1v1h-1zM8 48h1v1h-1zM11 2h1v1h-1zM12 3h1v1h-1zM16 41h1v1h-1zM16 44h1v1h-1zM17 40h1v1h-1zM18 41h1v1h-1zM19 42h1v1h-1zM20 42h1v1h-1zM20 47h1v1h-1zM21 42h1v1h-1zM25 30h1v1h-1zM28 25h1v1h-1zM28 31h1v1h-1zM29 22h1v1h-1zM30 23h1v2h-1zM31 22h1v1h-1zM32 27h1v1h-1zM32 31h1v1h-1zM32 33h1v1h-1zM33 28h1v1h-1zM35 20h1v2h-1zM36 21h1v2h-1zM37 17h1v1h-1zM37 19h1v2h-1zM38 25h1v1h-1zM39 25h1v1h-1zM40 19h1v2h-1zM40 26h1v1h-1zM41 19h1v1h-1zM42 17h1v1h-1zM43 16h1v1h-1zM47 16h1v1h-1zM48 11h1v1h-1zM52 10h1v1h-1z"/>
<path fill="#4bf2cf" d="M3 27h1v1h-1zM4 30h1v1h-1zM6 40h1v1h-1zM6 49h1v1h-1zM7 44h1v1h-1zM9 49h1v1h-1zM13 47h1v1h-1zM29 17h1v1h-1zM36 15h1v1h-1zM39 11h1v1h-1zM43 11h1v1h-1zM49 9h1v1h-1z"/>
<path fill="#0cc2e8" d="M3 35h1v1h-1zM5 34h1v1h-1zM16 43h1v1h-1zM17 32h1v1h-1zM17 43h1v1h-1zM21 33h1v1h-1zM25 32h1v1h-1zM26 26h1v1h-1zM27 24h1v1h-1zM27 34h1v1h-1zM28 27h1v1h-1zM30 21h1v1h-1zM40 18h1v1h-1zM49 6h1v1h-1z"/>
<path fill="#6ffebd" d="M4 12h1v1h-1zM6 42h1v1h-1zM8 40h1v1h-1zM10 42h1v1h-1zM10 47h1v1h-1zM21 5h1v1h-1zM40 9h1v1h-1z"/>
<path fill="#9bfba4" d="M4 14h1v1h-1zM23 4h1v1h-1zM23 17h1v1h-1zM40 7h1v1h-1z"/>
<path fill="#9efaa2" d="M4 15h1v1h-1zM7 32h1v1h-1zM18 21h1v1h-1zM25 15h1v1h-1zM40 6h1v1h-1z"/>
<path fill="#97fca7" d="M4 16h1v1h-1zM7 33h1v1h-1z"/>
<path fill="#90feab" d="M4 17h1v1h-1zM22 5h1v1h-1z"/>
<path fill="#5df9c6" d="M4 19h1v1h-1zM5 31h1v1h-1zM7 42h1v1h-1zM10 48h1v1h-1zM14 35h1v1h-1zM23 21h1v1h-1zM39 10h1v1h-1zM48 8h1v1h-1z"/>
<path fill="#6afdc0" d="M4 20h1v1h-1zM9 38h1v1h-1zM42 5h1v1h-1z"/>
<path fill="#3febd4" d="M4 21h1v1h-1zM5 38h1v1h-1zM8 49h1v1h-1zM14 40h1v1h-1zM15 38h1v1h-1zM19 4h1v1h-1zM23 26h1v1h-1zM24 23h1v1h-1zM38 13h1v1h-1zM43 9h1v1h-1zM47 8h1v1h-1z"/>
<path fill="#29dbde" d="M4 22h1v1h-1zM7 49h1v1h-1zM8 47h1v1h-1zM14 49h1v1h-1zM28 21h1v1h-1zM32 16h1v1h-1zM34 17h1v1h-1zM38 14h1v1h-1zM40 13h1v1h-1zM41 13h1v1h-1zM45 10h1v1h-1zM48 10h1v1h-1z"/>
<path fill="#05baea" d="M4 23h1v1h-1zM4 28h1v1h-1zM6 44h1v1h-1zM7 6h1v1h-1zM14 46h1v1h-1zM15 44h1v1h-1zM16 42h1v1h-1zM19 29h1v1h-1zM19 36h1v1h-1zM19 41h1v1h-1zM22 34h1v1h-1zM23 27h1v3h-1zM24 29h1v1h-1zM25 22h1v1h-1zM26 25h1v1h-1zM32 20h1v1h-1zM34 4h1v1h-1zM35 4h1v1h-1zM35 18h1v2h-1zM37 25h1v1h-1zM39 17h1v1h-1zM40 15h1v1h-1zM41 18h1v1h-1zM42 15h1v1h-1zM43 14h1v1h-1z"/>
<path fill="#57f7c9" d="M4 25h1v1h-1zM11 49h1v1h-1zM17 30h1v1h-1zM30 16h1v1h-1zM31 15h1v1h-1zM36 14h1v1h-1z"/>
<path fill="#45efd2" d="M4 27h1v1h-1zM7 45h1v1h-1zM13 39h1v1h-1zM13 42h1v1h-1zM14 42h1v1h-1zM14 44h1v1h-1zM18 30h1v1h-1zM26 21h1v1h-1zM32 15h1v1h-1zM33 15h1v1h-1zM34 19h1v1h-1zM40 11h1v1h-1z"/>
<path fill="#a6f89d" d="M5 10h1v1h-1zM30 12h1v1h-1z"/>
<path fill="#aef599" d="M5 11h1v1h-1zM7 29h1v1h-1zM13 30h1v1h-1zM19 19h1v1h-1zM25 14h1v1h-1zM28 12h1v1h-1zM31 11h1v1h-1zM37 7h1v1h-1z"/>
<path fill="#bced90" d="M5 12h1v1h-1zM24 15h1v1h-1z"/>
<path fill="#bfec8e" d="M5 13h1v1h-1zM6 23h1v1h-1zM27 12h1v1h-1z"/>
<path fill="#b6f194" d="M5 14h1v1h-1zM16 24h1v1h-1zM32 9h1v1h-1zM36 6h1v1h-1z"/>
<path fill="#d4de80" d="M5 15h1v1h-1z"/>
<path fill="#c0eb8d" d="M5 16h1v1h-1zM12 32h1v1h-1zM35 7h1v1h-1z"/>
<path fill="#c1ea8c" d="M5 17h1v1h-1zM24 14h1v1h-1z"/>
<path fill="#a1faa1" d="M5 18h1v1h-1zM10 34h1v1h-1zM11 37h1v1h-1zM15 27h1v1h-1zM26 15h1v1h-1z"/>
<path fill="#94fda8" d="M5 19h1v1h-1zM8 33h1v1h-1zM11 35h1v1h-1zM12 34h1v1h-1zM16 28h1v1h-1zM28 14h1v1h-1z"/>
<path fill="#7fffb5" d="M5 21h1v1h-1zM5 28h1v1h-1zM7 36h1v1h-1zM9 40h1v1h-1zM13 34h1v1h-1zM16 5h1v1h-1zM24 17h1v1h-1zM28 5h1v1h-1zM28 15h1v1h-1z"/>
<path fill="#9dfba3" d="M5 22h1v1h-1zM7 30h1v1h-1zM8 7h1v1h-1zM8 34h1v1h-1zM17 24h1v1h-1zM28 13h1v1h-1z"/>
<path fill="#85ffb1" d="M5 24h1v1h-1zM12 38h1v1h-1zM21 20h1v1h-1z"/>
<path fill="#77ffb9" d="M5 25h1v1h-1zM8 42h1v1h-1zM12 41h1v1h-1zM32 12h1v1h-1zM42 7h1v1h-1z"/>
<path fill="#78ffb8" d="M5 26h1v1h-1zM7 38h1v1h-1zM8 44h1v1h-1zM9 36h1v1h-1zM12 40h1v1h-1zM13 37h1v1h-1zM15 29h1v1h-1zM15 32h1v1h-1zM29 15h1v1h-1zM30 15h1v1h-1zM45 6h1v1h-1z"/>
<path fill="#82ffb3" d="M5 29h1v1h-1zM13 36h1v1h-1zM14 31h1v2h-1zM22 19h1v1h-1z"/>
<path fill="#68fcc1" d="M5 33h1v1h-1zM7 41h1v1h-1zM15 33h1v1h-1zM16 30h1v1h-1zM21 22h1v1h-1zM38 11h1v1h-1zM43 10h1v1h-1z"/>
<path fill="#04b0ed" d="M5 36h1v2h-1zM6 46h1v1h-1zM15 49h1v1h-1zM17 36h1v1h-1zM17 44h1v1h-1zM19 31h1v3h-1zM20 33h1v1h-1zM21 29h1v1h-1zM21 31h1v2h-1zM22 27h1v1h-1zM22 43h1v2h-1zM25 25h1v1h-1zM27 23h1v1h-1zM27 26h1v1h-1zM28 22h1v1h-1zM29 20h1v2h-1zM32 22h1v2h-1zM33 23h1v1h-1zM34 26h1v1h-1zM36 20h1v1h-1zM37 24h1v1h-1zM39 16h1v1h-1zM41 15h1v1h-1zM44 15h1v1h-1zM45 12h1v1h-1zM50 7h1v1h-1z"/>
<path fill="#42edd3" d="M5 40h1v1h-1zM15 34h1v1h-1zM15 36h1v1h-1zM15 39h1v1h-1zM16 35h1v1h-1zM20 24h1v1h-1zM21 24h1v1h-1zM24 22h1v1h-1zM24 24h1v1h-1zM27 21h1v1h-1zM31 17h1v1h-1zM39 13h1v1h-1zM41 12h1v1h-1zM43 12h1v1h-1zM44 9h1v1h-1z"/>
<path fill="#72febc" d="M6 8h1v1h-1zM7 39h1v1h-1zM11 42h1v1h-1zM13 40h1v1h-1zM14 34h1v1h-1zM17 5h1v1h-1zM26 18h1v1h-1zM40 8h1v1h-1z"/>
<path fill="#9ffaa2" d="M6 9h1v1h-1zM25 5h1v1h-1zM33 9h1v1h-1z"/>
<path fill="#baee91" d="M6 10h1v1h-1zM7 27h1v1h-1zM22 6h1v1h-1z"/>
<path fill="#e6ce74" d="M6 11h1v2h-1z"/>
<path fill="#f0c46c" d="M6 13h1v1h-1zM7 24h1v1h-1zM12 25h1v1h-1z"/>
<path fill="#ffb160" d="M6 14h1v1h-1z"/>
<path fill="#ffac5c" d="M6 15h1v1h-1zM14 20h1v1h-1zM16 17h1v1h-1z"/>
<path fill="#f7bd68" d="M6 16h1v1h-1z"/>
<path fill="#ffb360" d="M6 17h1v1h-1z"/>
<path fill="#ebc970" d="M6 18h1v1h-1zM11 28h1v1h-1zM14 23h1v1h-1z"/>
<path fill="#edc76f" d="M6 19h1v1h-1zM7 10h1v1h-1z"/>
<path fill="#e5cf74" d="M6 20h1v1h-1zM9 28h1v1h-1zM10 27h1v1h-1zM17 18h1v1h-1z"/>
<path fill="#ddd679" d="M6 21h1v1h-1zM11 25h1v1h-1zM28 6h1v1h-1zM29 9h1v1h-1z"/>
<path fill="#dad97c" d="M6 22h1v1h-1zM8 26h1v1h-1z"/>
<path fill="#b9ef91" d="M6 24h1v1h-1zM13 28h1v1h-1zM18 20h1v1h-1z"/>
<path fill="#b5f194" d="M6 25h1v1h-1zM22 16h1v1h-1z"/>
<path fill="#a5f89e" d="M6 26h1v1h-1zM21 6h1v1h-1z"/>
<path fill="#9cfba4" d="M6 27h1v1h-1zM7 8h1v1h-1zM12 35h1v1h-1zM13 5h1v1h-1zM32 5h1v1h-1zM33 11h1v1h-1z"/>
<path fill="#a9f79c" d="M6 28h1v1h-1zM31 5h1v1h-1zM34 11h1v1h-1zM37 8h1v1h-1z"/>
<path fill="#acf69a" d="M6 29h1v1h-1z"/>
<path fill="#95fda8" d="M6 30h1v1h-1zM18 22h1v1h-1zM20 19h1v1h-1z"/>
<path fill="#87ffb0" d="M6 31h1v1h-1zM42 8h1v1h-1z"/>
<path fill="#8cfead" d="M6 33h1v1h-1zM9 39h1v1h-1zM27 15h1v1h-1z"/>
<path fill="#70febd" d="M6 34h1v1h-1zM10 43h1v1h-1zM10 45h1v1h-1zM12 46h1v1h-1zM27 17h1v1h-1zM44 5h1v1h-1z"/>
<path fill="#63fbc3" d="M6 37h1v1h-1zM9 42h1v1h-1zM12 39h1v1h-1zM13 45h1v1h-1zM13 49h1v1h-1zM19 24h1v1h-1zM21 21h1v1h-1zM24 21h1v1h-1zM25 18h1v1h-1zM42 9h1v1h-1zM43 5h1v1h-1z"/>
<path fill="#6dfdbe" d="M6 38h1v2h-1zM8 41h1v1h-1zM9 37h1v1h-1zM9 43h1v1h-1zM13 38h1v1h-1zM16 32h1v1h-1zM20 22h1v1h-1zM23 20h1v1h-1zM34 13h1v1h-1zM35 13h1v1h-1zM44 8h1v1h-1z"/>
<path fill="#24d7df" d="M6 48h1v1h-1zM17 33h1v1h-1zM21 25h1v1h-1zM30 17h1v2h-1zM33 18h1v1h-1zM36 17h1v1h-1zM40 16h1v1h-1zM45 9h1v1h-1z"/>
<path fill="#81ffb4" d="M7 7h1v1h-1zM8 37h1v1h-1zM17 25h1v1h-1zM36 11h1v1h-1z"/>
<path fill="#c4e98b" d="M7 9h1v1h-1zM9 30h1v1h-1z"/>
<path fill="#ff8e4a" d="M7 11h1v1h-1z"/>
<path fill="#ff8042" d="M7 12h1v1h-1z"/>
<path fill="#ff6b37" d="M7 13h1v1h-1z"/>
<path fill="#ff6735" d="M7 14h1v1h-1zM8 11h1v1h-1zM14 10h1v1h-1z"/>
<path fill="#ff4a26" d="M7 15h1v1h-1zM11 9h1v1h-1z"/>
<path fill="#ff6835" d="M7 16h1v1h-1z"/>
<path fill="#ff5d2f" d="M7 17h1v1h-1zM18 8h1v1h-1z"/>
<path fill="#ff4121" d="M7 18h1v1h-1zM8 17h1v1h-1zM11 10h1v1h-1zM14 13h1v1h-1z"/>
<path fill="#ff8344" d="M7 19h1v1h-1z"/>
<path fill="#ff9d53" d="M7 20h1v1h-1zM10 8h1v1h-1zM13 21h1v1h-1z"/>
<path fill="#ffb461" d="M7 21h1v1h-1zM23 9h1v1h-1zM30 8h1v1h-1z"/>
<path fill="#f1c36c" d="M7 22h1v1h-1z"/>
<path fill="#e9cb72" d="M7 23h1v1h-1zM7 25h1v1h-1zM9 25h1v1h-1zM13 6h1v1h-1z"/>
<path fill="#c7e688" d="M7 26h1v1h-1zM23 5h1v1h-1z"/>
<path fill="#b8f092" d="M7 28h1v1h-1zM9 7h1v1h-1zM18 6h1v1h-1z"/>
<path fill="#91feaa" d="M7 31h1v1h-1zM12 36h1v1h-1zM18 23h1v1h-1zM29 12h1v1h-1z"/>
<path fill="#84ffb2" d="M7 34h1v1h-1zM11 39h1v1h-1zM18 24h1v1h-1zM27 5h1v1h-1zM36 10h1v1h-1zM40 5h1v1h-1z"/>
<path fill="#7cffb6" d="M7 35h1v1h-1zM8 36h1v1h-1zM12 45h1v1h-1zM19 5h1v1h-1zM24 18h1v1h-1zM33 12h1v1h-1zM43 6h1v1h-1zM44 6h1v1h-1z"/>
<path fill="#65fcc3" d="M7 37h1v1h-1zM9 45h1v1h-1zM13 4h1v1h-1zM25 20h1v1h-1zM36 12h1v1h-1zM44 7h1v1h-1z"/>
<path fill="#67fcc2" d="M7 40h1v1h-1zM9 46h1v1h-1zM12 4h1v1h-1zM12 42h1v1h-1zM22 4h1v1h-1zM27 4h1v1h-1zM31 14h1v1h-1zM33 13h1v1h-1zM38 10h1v1h-1z"/>
<path fill="#2ddfdc" d="M7 43h1v1h-1zM17 35h1v1h-1zM18 3h1v2h-1zM18 29h1v1h-1zM33 17h1v1h-1zM36 4h1v1h-1zM36 16h1v1h-1zM43 13h1v1h-1zM48 7h1v1h-1zM49 8h1v1h-1zM50 9h1v1h-1z"/>
<path fill="#35e5d9" d="M7 46h1v1h-1zM15 35h1v1h-1zM17 4h1v1h-1zM20 28h1v1h-1zM21 26h1v1h-1zM23 23h1v1h-1zM25 23h1v1h-1zM31 18h1v1h-1zM32 4h1v1h-1zM35 14h1v1h-1zM35 17h1v1h-1zM42 13h1v1h-1zM44 10h1v1h-1z"/>
<path fill="#d5dc7f" d="M8 8h1v1h-1z"/>
<path fill="#e7cd73" d="M8 9h1v1h-1zM11 27h1v1h-1zM30 6h1v1h-1z"/>
<path fill="#ff914c" d="M8 10h1v1h-1z"/>
<path fill="#ff0f08" d="M8 12h1v1h-1z"/>
<path fill="#ff2613" d="M8 13h1v1h-1z"/>
<path fill="#ff2412" d="M8 14h1v1h-1z"/>
<path fill="#ff4322" d="M8 15h1v1h-1z"/>
<path fill="#ff180c" d="M8 16h1v1h-1z"/>
<path fill="#ff2915" d="M8 18h1v1h-1zM12 12h1v1h-1z"/>
<path fill="#ff713a" d="M8 19h1v1h-1zM13 17h1v1h-1z"/>
<path fill="#ff733b" d="M8 20h1v1h-1z"/>
<path fill="#ff9f54" d="M8 21h1v1h-1zM10 23h1v2h-1z"/>
<path fill="#ffab5c" d="M8 22h1v1h-1zM9 23h1v1h-1zM23 11h1v1h-1zM24 8h1v1h-1z"/>
<path fill="#ffa759" d="M8 23h1v1h-1zM9 9h1v1h-1z"/>
<path fill="#eec66e" d="M8 24h1v1h-1zM12 26h1v1h-1z"/>
<path fill="#f8bc67" d="M8 25h1v1h-1zM18 17h1v1h-1z"/>
<path fill="#cce385" d="M8 27h1v1h-1zM36 7h1v1h-1z"/>
<path fill="#c8e688" d="M8 28h1v1h-1zM15 6h1v1h-1z"/>
<path fill="#c5e88a" d="M8 29h1v1h-1zM10 32h1v1h-1zM35 6h1v1h-1z"/>
<path fill="#b5f195" d="M8 30h1v1h-1zM9 31h1v1h-1zM29 11h1v1h-1z"/>
<path fill="#a7f79d" d="M8 31h1v1h-1z"/>
<path fill="#aaf69c" d="M8 32h1v1h-1z"/>
<path fill="#8afeae" d="M9 6h1v1h-1zM10 37h1v1h-1zM19 23h1v1h-1z"/>
<path fill="#f6be68" d="M9 8h1v1h-1zM10 25h1v1h-1zM15 20h1v1h-1z"/>
<path fill="#ff4824" d="M9 10h1v1h-1zM12 17h1v1h-1z"/>
<path fill="#ff4925" d="M9 11h1v1h-1zM12 19h1v1h-1zM14 8h1v1h-1z"/>
<path fill="#ff1d0e" d="M9 12h1v1h-1z"/>
<path fill="#ff0201" d="M9 13h1v1h-1zM10 11h1v1h-1z"/>
<path fill="#ff0000" d="M9 14h1v1h-1zM10 14h1v2h-1zM11 12h1v1h-1zM11 14h1v1h-1z"/>
<path fill="#ff3018" d="M9 15h1v2h-1z"/>
<path fill="#ff2713" d="M9 17h1v1h-1zM13 14h1v1h-1z"/>
<path fill="#ff522a" d="M9 18h1v1h-1z"/>
<path fill="#ff4c26" d="M9 19h1v1h-1z"/>
<path fill="#ff5b2e" d="M9 20h1v1h-1zM10 20h1v1h-1zM19 8h1v1h-1z"/>
<path fill="#ff8a48" d="M9 21h1v1h-1z"/>
<path fill="#ff8b48" d="M9 22h1v1h-1zM14 18h1v1h-1z"/>
<path fill="#ffb05f" d="M9 24h1v1h-1zM28 8h1v1h-1z"/>
<path fill="#dad87c" d="M9 26h1v1h-1zM22 7h1v1h-1z"/>
<path fill="#c6e789" d="M9 27h1v1h-1zM10 30h1v1h-1z"/>
<path fill="#d4dd80" d="M9 29h1v1h-1zM11 29h1v1h-1zM14 22h1v1h-1zM27 11h1v1h-1zM30 10h1v1h-1z"/>
<path fill="#a5f89f" d="M9 32h1v1h-1z"/>
<path fill="#adf599" d="M9 33h1v1h-1zM13 32h1v1h-1zM27 13h1v1h-1zM34 10h1v1h-1z"/>
<path fill="#bded8f" d="M9 34h1v1h-1zM12 29h1v1h-1zM17 21h1v1h-1zM30 5h1v1h-1z"/>
<path fill="#89ffaf" d="M9 35h1v1h-1zM17 26h1v1h-1zM29 13h1v1h-1zM30 14h1v1h-1zM34 12h1v1h-1zM37 5h1v1h-1zM42 6h1v1h-1z"/>
<path fill="#86ffb0" d="M9 44h1v1h-1zM14 30h1v1h-1zM15 5h1v1h-1zM25 17h1v1h-1zM38 9h1v1h-1zM41 5h1v1h-1z"/>
<path fill="#80ffb4" d="M10 5h1v1h-1zM10 38h1v1h-1zM10 44h1v1h-1zM11 4h1v1h-1zM20 21h1v1h-1zM29 14h1v1h-1zM32 13h1v1h-1zM43 7h1v1h-1z"/>
<path fill="#abf69a" d="M10 6h1v1h-1z"/>
<path fill="#dbd87b" d="M10 7h1v1h-1zM11 6h1v1h-1z"/>
<path fill="#ff4f28" d="M10 9h1v1h-1zM12 15h1v1h-1zM18 10h1v1h-1z"/>
<path fill="#ff4422" d="M10 10h1v1h-1z"/>
<path fill="#ff1008" d="M10 12h1v1h-1z"/>
<path fill="#ff0101" d="M10 13h1v1h-1zM11 13h1v1h-1z"/>
<path fill="#ff0302" d="M10 16h1v1h-1zM11 11h1v1h-1z"/>
<path fill="#ff2312" d="M10 17h1v1h-1z"/>
<path fill="#ff2c16" d="M10 18h1v1h-1z"/>
<path fill="#ff4d27" d="M10 19h1v1h-1zM11 8h1v1h-1zM14 12h1v1h-1zM15 9h1v1h-1zM16 13h1v1h-1z"/>
<path fill="#ff5e30" d="M10 21h1v1h-1z"/>
<path fill="#ff8d4a" d="M10 22h1v1h-1z"/>
<path fill="#edc76e" d="M10 26h1v1h-1z"/>
<path fill="#d0e082" d="M10 28h1v1h-1zM28 10h1v1h-1z"/>
<path fill="#c3e98b" d="M10 29h1v1h-1zM10 31h1v1h-1zM21 15h1v1h-1zM26 13h1v1h-1zM34 6h1v1h-1z"/>
<path fill="#b1f397" d="M10 33h1v1h-1zM15 23h1v1h-1zM21 17h1v1h-1z"/>
<path fill="#8efeac" d="M10 40h1v1h-1zM35 12h1v1h-1z"/>
<path fill="#7dffb5" d="M10 41h1v1h-1zM11 45h1v1h-1zM23 19h1v1h-1zM30 13h1v1h-1z"/>
<path fill="#93fda9" d="M11 5h1v1h-1zM32 10h1v1h-1zM38 6h1v1h-1z"/>
<path fill="#ffa658" d="M11 7h1v1h-1zM12 22h1v1h-1z"/>
<path fill="#ff2e17" d="M11 15h1v1h-1z"/>
<path fill="#ff190d" d="M11 16h1v1h-1zM12 10h1v1h-1z"/>
<path fill="#ff1209" d="M11 17h1v1h-1z"/>
<path fill="#ff3c1e" d="M11 18h1v1h-1z"/>
<path fill="#ff542b" d="M11 19h1v1h-1zM15 14h1v1h-1zM16 12h1v1h-1z"/>
<path fill="#ff763c" d="M11 20h1v1h-1z"/>
<path fill="#ff5029" d="M11 21h1v1h-1z"/>
<path fill="#ff954f" d="M11 22h1v1h-1z"/>
<path fill="#f9bb66" d="M11 23h1v1h-1zM12 24h1v1h-1zM19 16h1v1h-1zM26 9h1v1h-1zM27 7h1v1h-1z"/>
<path fill="#ffa95a" d="M11 24h1v1h-1zM23 6h1v1h-1z"/>
<path fill="#e0d377" d="M11 26h1v1h-1zM17 19h1v1h-1z"/>
<path fill="#d8da7d" d="M11 30h1v1h-1zM12 31h1v1h-1zM31 8h1v1h-1z"/>
<path fill="#e1d277" d="M11 31h1v1h-1z"/>
<path fill="#dcd77b" d="M11 32h1v1h-1zM34 7h1v1h-1z"/>
<path fill="#acf59a" d="M11 33h1v1h-1zM13 29h1v1h-1zM26 14h1v1h-1z"/>
<path fill="#aaf69b" d="M11 34h1v1h-1zM36 9h1v1h-1zM37 6h1v1h-1z"/>
<path fill="#a3f9a0" d="M11 36h1v1h-1zM15 28h1v1h-1zM19 21h1v1h-1z"/>
<path fill="#8ffeab" d="M11 38h1v1h-1zM39 5h1v1h-1z"/>
<path fill="#74feba" d="M11 41h1v1h-1zM13 35h1v1h-1zM14 33h1v1h-1zM14 36h1v2h-1zM22 22h1v1h-1zM35 5h1v1h-1zM37 11h1v1h-1zM41 9h1v1h-1z"/>
<path fill="#8dfeac" d="M11 44h1v1h-1zM25 16h1v1h-1zM33 5h1v1h-1zM35 10h1v1h-1zM39 9h1v1h-1z"/>
<path fill="#7affb8" d="M11 46h1v1h-1z"/>
<path fill="#b4f295" d="M12 5h1v1h-1zM14 27h1v1h-1zM41 6h1v1h-1z"/>
<path fill="#e9cb71" d="M12 6h1v1h-1zM14 6h1v1h-1zM20 16h1v1h-1zM25 9h1v1h-1zM26 7h1v1h-1z"/>
<path fill="#ffa155" d="M12 7h1v1h-1z"/>
<path fill="#ff6d38" d="M12 8h1v1h-1zM13 8h1v1h-1z"/>
<path fill="#ff532a" d="M12 9h1v1h-1z"/>
<path fill="#ff1e0f" d="M12 11h1v1h-1zM17 11h1v1h-1z"/>
<path fill="#ff2110" d="M12 13h1v1h-1z"/>
<path fill="#ff1a0d" d="M12 14h1v1h-1z"/>
<path fill="#ff2814" d="M12 16h1v1h-1z"/>
<path fill="#ff582d" d="M12 18h1v1h-1z"/>
<path fill="#ff4b26" d="M12 20h1v1h-1zM15 12h1v1h-1zM16 11h1v1h-1zM17 9h1v1h-1z"/>
<path fill="#ff8746" d="M12 21h1v1h-1zM16 16h1v1h-1z"/>
<path fill="#ffa055" d="M12 23h1v1h-1zM16 7h1v1h-1zM20 8h1v1h-1zM21 11h1v1h-1z"/>
<path fill="#f4c06a" d="M12 27h1v1h-1z"/>
<path fill="#d0e083" d="M12 28h1v1h-1z"/>
<path fill="#cfe183" d="M12 30h1v1h-1zM22 15h1v1h-1z"/>
<path fill="#baef91" d="M12 33h1v1h-1z"/>
<path fill="#a6f89e" d="M12 37h1v1h-1zM38 7h1v1h-1z"/>
<path fill="#ffa156" d="M13 7h1v1h-1z"/>
<path fill="#ff592d" d="M13 9h1v1h-1z"/>
<path fill="#ff1b0d" d="M13 10h1v1h-1z"/>
<path fill="#ff331a" d="M13 11h1v1h-1z"/>
<path fill="#ff2f17" d="M13 12h1v1h-1zM13 15h1v1h-1z"/>
<path fill="#ff130a" d="M13 13h1v1h-1z"/>
<path fill="#ff572c" d="M13 16h1v1h-1z"/>
<path fill="#ff5f30" d="M13 18h1v1h-1z"/>
<path fill="#ff753c" d="M13 19h1v1h-1z"/>
<path fill="#ff9951" d="M13 20h1v1h-1z"/>
<path fill="#ffae5e" d="M13 22h1v1h-1zM20 14h1v1h-1z"/>
<path fill="#efc56d" d="M13 23h1v1h-1zM21 14h1v1h-1zM25 10h1v1h-1z"/>
<path fill="#d6dc7e" d="M13 24h1v1h-1zM24 13h1v1h-1z"/>
<path fill="#cbe486" d="M13 25h1v1h-1zM16 6h1v1h-1zM24 5h1v1h-1zM30 9h1v1h-1zM33 6h1v1h-1z"/>
<path fill="#ded579" d="M13 26h1v1h-1zM15 21h1v1h-1zM18 18h1v1h-1zM19 17h1v1h-1z"/>
<path fill="#beec8f" d="M13 27h1v1h-1z"/>
<path fill="#a3f99f" d="M13 31h1v1h-1zM27 14h1v1h-1zM39 7h1v1h-1z"/>
<path fill="#9bfba5" d="M13 33h1v1h-1zM16 25h1v1h-1zM19 20h1v1h-1zM35 11h1v1h-1z"/>
<path fill="#83ffb2" d="M14 5h1v1h-1zM20 5h1v1h-1zM38 5h1v1h-1z"/>
<path fill="#ff7e41" d="M14 7h1v1h-1z"/>
<path fill="#ff4724" d="M14 9h1v1h-1zM14 14h1v1h-1z"/>
<path fill="#ff3e1f" d="M14 11h1v1h-1zM17 10h1v1h-1z"/>
<path fill="#ff552b" d="M14 15h1v1h-1z"/>
<path fill="#ff8545" d="M14 16h1v1h-1zM20 11h1v1h-1z"/>
<path fill="#ff763d" d="M14 17h1v1h-1z"/>
<path fill="#ff954e" d="M14 19h1v1h-1z"/>
<path fill="#faba65" d="M14 21h1v1h-1zM23 8h1v1h-1zM30 7h1v1h-1z"/>
<path fill="#d9d97c" d="M14 24h1v2h-1zM33 7h1v1h-1z"/>
<path fill="#d3de81" d="M14 26h1v1h-1zM25 12h1v1h-1z"/>
<path fill="#a0faa1" d="M14 28h1v1h-1zM15 25h1v1h-1zM22 17h1v1h-1zM24 16h1v1h-1z"/>
<path fill="#13c8e5" d="M14 45h1v1h-1zM14 48h1v1h-1zM16 34h1v1h-1zM17 3h1v1h-1zM17 39h1v1h-1zM17 46h1v1h-1zM22 25h1v1h-1zM26 24h1v1h-1zM34 21h1v1h-1zM36 18h1v1h-1zM37 4h1v1h-1zM37 16h1v1h-1zM40 12h1v1h-1zM44 12h1v1h-1zM53 10h1v1h-1zM54 8h1v1h-1z"/>
<path fill="#ff9b52" d="M15 7h1v1h-1zM19 14h1v1h-1z"/>
<path fill="#ff2f18" d="M15 8h1v1h-1zM17 12h1v1h-1z"/>
<path fill="#ff562b" d="M15 10h1v1h-1z"/>
<path fill="#ff4624" d="M15 11h1v1h-1z"/>
<path fill="#ff6031" d="M15 13h1v1h-1zM19 9h1v1h-1z"/>
<path fill="#ff6533" d="M15 15h1v1h-1z"/>
<path fill="#ff7d41" d="M15 16h1v1h-1z"/>
<path fill="#ff8c49" d="M15 17h1v1h-1zM20 9h1v1h-1z"/>
<path fill="#ff8947" d="M15 18h1v1h-1zM18 14h1v1h-1z"/>
<path fill="#fbb864" d="M15 19h1v1h-1zM24 9h1v1h-1z"/>
<path fill="#e6ce73" d="M15 22h1v1h-1zM27 10h1v1h-1zM32 7h1v1h-1z"/>
<path fill="#beed8f" d="M15 24h1v1h-1z"/>
<path fill="#a2f9a0" d="M15 26h1v1h-1zM22 18h1v1h-1z"/>
<path fill="#7bffb7" d="M15 31h1v1h-1zM17 27h1v2h-1zM23 18h1v1h-1zM26 5h1v1h-1zM36 5h1v1h-1z"/>
<path fill="#ff4a25" d="M16 8h1v1h-1z"/>
<path fill="#ff4623" d="M16 9h1v1h-1z"/>
<path fill="#ff5a2e" d="M16 10h1v1h-1z"/>
<path fill="#ff8243" d="M16 14h1v1h-1z"/>
<path fill="#ff6333" d="M16 15h1v1h-1z"/>
<path fill="#f2c36b" d="M16 18h1v1h-1z"/>
<path fill="#f0c46d" d="M16 19h1v1h-1zM23 7h1v1h-1zM25 8h1v1h-1z"/>
<path fill="#e2d276" d="M16 20h1v1h-1z"/>
<path fill="#c9e587" d="M16 21h1v1h-1zM21 16h1v1h-1zM34 9h1v1h-1z"/>
<path fill="#c1eb8d" d="M16 22h1v1h-1zM26 12h1v1h-1zM30 11h1v1h-1z"/>
<path fill="#b7f093" d="M16 23h1v1h-1zM23 15h1v1h-1zM31 10h1v1h-1z"/>
<path fill="#9afca5" d="M16 26h1v1h-1z"/>
<path fill="#bbee91" d="M17 6h1v1h-1z"/>
<path fill="#ffb15f" d="M17 7h1v1h-1zM21 8h1v1h-1zM22 9h1v1h-1z"/>
<path fill="#ff341a" d="M17 8h1v1h-1z"/>
<path fill="#ff783e" d="M17 13h1v1h-1z"/>
<path fill="#ff8143" d="M17 14h1v1h-1zM20 10h1v1h-1z"/>
<path fill="#ff8847" d="M17 15h1v1h-1zM18 13h1v1h-1z"/>
<path fill="#ff8f4b" d="M17 16h1v1h-1z"/>
<path fill="#ffb562" d="M17 17h1v1h-1zM22 11h1v1h-1z"/>
<path fill="#cae587" d="M17 20h1v1h-1z"/>
<path fill="#c3ea8b" d="M17 22h1v1h-1z"/>
<path fill="#b0f498" d="M17 23h1v1h-1z"/>
<path fill="#ff9e54" d="M18 7h1v1h-1z"/>
<path fill="#ff4221" d="M18 9h1v1h-1zM19 10h1v1h-1z"/>
<path fill="#ff3b1e" d="M18 11h1v1h-1z"/>
<path fill="#ff6734" d="M18 12h1v1h-1z"/>
<path fill="#ff9850" d="M18 15h1v1h-1z"/>
<path fill="#feb562" d="M18 16h1v1h-1zM20 13h1v1h-1zM21 12h1v1h-1z"/>
<path fill="#b3f296" d="M18 19h1v1h-1zM20 18h1v1h-1zM23 16h1v1h-1z"/>
<path fill="#cde385" d="M19 6h1v1h-1zM28 11h1v1h-1zM34 8h1v1h-1z"/>
<path fill="#f2c26b" d="M19 7h1v1h-1zM21 13h1v1h-1zM22 13h1v1h-1zM29 6h1v1h-1z"/>
<path fill="#ff5d30" d="M19 11h1v1h-1z"/>
<path fill="#ff904b" d="M19 12h1v1h-1z"/>
<path fill="#ff974f" d="M19 13h1v1h-1zM20 12h1v1h-1z"/>
<path fill="#ffae5d" d="M19 15h1v1h-1z"/>
<path fill="#cde285" d="M19 18h1v1h-1zM23 14h1v1h-1z"/>
<path fill="#beec8e" d="M20 6h1v1h-1z"/>
<path fill="#ebca70" d="M20 7h1v1h-1z"/>
<path fill="#e4d075" d="M20 15h1v1h-1zM28 9h1v1h-1z"/>
<path fill="#c4e98a" d="M20 17h1v1h-1z"/>
<path fill="#92fdaa" d="M20 20h1v1h-1z"/>
<path fill="#e4cf75" d="M21 7h1v1h-1z"/>
<path fill="#ff934d" d="M21 9h1v1h-1z"/>
<path fill="#ff944e" d="M21 10h1v1h-1z"/>
<path fill="#a4f99f" d="M21 18h1v1h-1z"/>
<path fill="#94fda9" d="M21 19h1v1h-1zM37 9h1v1h-1z"/>
<path fill="#ffad5d" d="M22 8h1v1h-1zM22 12h1v1h-1zM23 10h1v1h-1z"/>
<path fill="#ffb361" d="M22 10h1v1h-1zM24 6h1v1h-1z"/>
<path fill="#e1d377" d="M22 14h1v1h-1z"/>
<path fill="#fcb764" d="M23 12h1v1h-1zM29 7h1v1h-1z"/>
<path fill="#e5ce74" d="M23 13h1v1h-1z"/>
<path fill="#8bfeae" d="M24 4h1v1h-1zM43 8h1v1h-1z"/>
<path fill="#ffaa5b" d="M24 7h1v1h-1z"/>
<path fill="#fcb864" d="M24 10h1v1h-1z"/>
<path fill="#f5bf69" d="M24 11h1v1h-1z"/>
<path fill="#f5c069" d="M24 12h1v1h-1z"/>
<path fill="#dcd77a" d="M25 6h1v1h-1z"/>
<path fill="#ffa95b" d="M25 7h1v1h-1z"/>
<path fill="#e8cc72" d="M25 11h1v1h-1z"/>
<path fill="#d1df82" d="M25 13h1v1h-1zM27 6h1v1h-1z"/>
<path fill="#d9da7d" d="M26 6h1v1h-1z"/>
<path fill="#f3c16a" d="M26 8h1v1h-1z"/>
<path fill="#e2d176" d="M26 10h1v1h-1zM29 8h1v1h-1z"/>
<path fill="#ddd67a" d="M26 11h1v1h-1zM31 9h1v1h-1z"/>
<path fill="#f1c46c" d="M27 8h1v1h-1z"/>
<path fill="#e3d176" d="M27 9h1v1h-1z"/>
<path fill="#f0c56d" d="M28 7h1v1h-1z"/>
<path fill="#c7e789" d="M29 10h1v1h-1z"/>
<path fill="#ecc86f" d="M31 6h1v1h-1z"/>
<path fill="#e0d478" d="M31 7h1v1h-1zM32 8h1v1h-1z"/>
<path fill="#cee284" d="M32 6h1v1h-1z"/>
<path fill="#96fda7" d="M32 11h1v1h-1zM38 8h1v1h-1z"/>
<path fill="#cee184" d="M33 8h1v1h-1z"/>
<path fill="#b0f497" d="M33 10h1v1h-1z"/>
<path fill="#cae486" d="M35 8h1v1h-1z"/>
<path fill="#b8ef92" d="M35 9h1v1h-1z"/>
<path fill="#aff498" d="M36 8h1v1h-1z"/>
<path fill="#9efba3" d="M39 6h1v1h-1z"/>
<path fill="#a8f79d" d="M39 8h1v1h-1z"/>
</g></g></g>
<g clip-path="url(#c4)" stroke="#6c6c6c" fill="#6c6c6c">
<path d="M1266.0 290.5V162.2M1306.1 309.2V155.9M1346.1 315.3V181.3M1386.2 334.8V167.0M1426.2 338.1V185.2M1466.2 327.9V221.0M1506.2 329.2V239.3M1546.3 330.9V243.8M1586.3 336.8V250.3M1626.4 344.8V252.5M1666.4 343.3V253.6M1706.4 336.8V269.9M1746.5 332.8V261.8M1786.5 331.5V267.7M1826.5 337.8V273.8M1866.6 339.1V277.9M1906.6 339.6V289.6M1946.6 333.3V299.4M1986.7 334.6V308.3M2026.7 322.6V306.1M2066.7 319.4V308.7" fill="none" stroke-width="4.0"/>
<path d="M1255.5 290.5h21.2M1255.5 162.2h21.2M1295.5 309.2h21.2M1295.5 155.9h21.2M1335.5 315.3h21.2M1335.5 181.3h21.2M1375.6 334.8h21.2M1375.6 167.0h21.2M1415.6 338.1h21.2M1415.6 185.2h21.2M1455.6 327.9h21.2M1455.6 221.0h21.2M1495.7 329.2h21.2M1495.7 239.3h21.2M1535.7 330.9h21.2M1535.7 243.8h21.2M1575.7 336.8h21.2M1575.7 250.3h21.2M1615.8 344.8h21.2M1615.8 252.5h21.2M1655.8 343.3h21.2M1655.8 253.6h21.2M1695.8 336.8h21.2M1695.8 269.9h21.2M1735.9 332.8h21.2M1735.9 261.8h21.2M1775.9 331.5h21.2M1775.9 267.7h21.2M1815.9 337.8h21.2M1815.9 273.8h21.2M1856.0 339.1h21.2M1856.0 277.9h21.2M1896.0 339.6h21.2M1896.0 289.6h21.2M1936.0 333.3h21.2M1936.0 299.4h21.2M1976.1 334.6h21.2M1976.1 308.3h21.2M2016.1 322.6h21.2M2016.1 306.1h21.2M2056.1 319.4h21.2M2056.1 308.7h21.2" fill="none" stroke-width="2.2" />
<polyline points="1266.0,226.7 1306.1,232.5 1346.1,248.6 1386.2,252.1 1426.2,262.7 1466.2,274.7 1506.2,284.6 1546.3,287.2 1586.3,294.0 1626.4,299.0 1666.4,298.8 1706.4,302.9 1746.5,297.2 1786.5,299.8 1826.5,306.1 1866.6,307.9 1906.6,313.7 1946.6,316.3 1986.7,320.9 2026.7,314.6 2066.7,313.7" fill="none" stroke-width="3.4" stroke-linejoin="round"/>
<rect x="1258.6" y="219.3" width="14.8" height="14.8" stroke="none"/>
<rect x="1298.7" y="225.1" width="14.8" height="14.8" stroke="none"/>
<rect x="1338.7" y="241.2" width="14.8" height="14.8" stroke="none"/>
<rect x="1378.8" y="244.7" width="14.8" height="14.8" stroke="none"/>
<rect x="1418.8" y="255.3" width="14.8" height="14.8" stroke="none"/>
<rect x="1458.8" y="267.3" width="14.8" height="14.8" stroke="none"/>
<rect x="1498.8" y="277.2" width="14.8" height="14.8" stroke="none"/>
<rect x="1538.9" y="279.8" width="14.8" height="14.8" stroke="none"/>
<rect x="1578.9" y="286.6" width="14.8" height="14.8" stroke="none"/>
<rect x="1619.0" y="291.6" width="14.8" height="14.8" stroke="none"/>
<rect x="1659.0" y="291.4" width="14.8" height="14.8" stroke="none"/>
<rect x="1699.0" y="295.5" width="14.8" height="14.8" stroke="none"/>
<rect x="1739.1" y="289.8" width="14.8" height="14.8" stroke="none"/>
<rect x="1779.1" y="292.4" width="14.8" height="14.8" stroke="none"/>
<rect x="1819.1" y="298.7" width="14.8" height="14.8" stroke="none"/>
<rect x="1859.2" y="300.5" width="14.8" height="14.8" stroke="none"/>
<rect x="1899.2" y="306.3" width="14.8" height="14.8" stroke="none"/>
<rect x="1939.2" y="308.9" width="14.8" height="14.8" stroke="none"/>
<rect x="1979.2" y="313.5" width="14.8" height="14.8" stroke="none"/>
<rect x="2019.3" y="307.2" width="14.8" height="14.8" stroke="none"/>
<rect x="2059.3" y="306.3" width="14.8" height="14.8" stroke="none"/>
</g>
</g>
<g id="panel5">
<clipPath id="c5"><rect x="1206.00" y="374.10" width="960.80" height="325.70"/></clipPath>
<g clip-path="url(#c5)"><g><g transform="translate(1206.000 695.876) scale(16.0133 -7.8482)" shape-rendering="crispEdges">
<path fill="#0da5ef" d="M1 1h1v1h-1zM14 10h1v1h-1zM15 10h1v1h-1zM17 16h1v1h-1zM21 15h1v1h-1zM21 17h1v1h-1zM24 18h1v1h-1zM25 21h1v1h-1zM26 19h1v1h-1zM27 4h1v1h-1zM27 18h1v1h-1zM29 18h1v1h-1zM29 21h1v1h-1zM30 16h1v1h-1zM31 5h1v1h-1zM32 18h1v1h-1zM33 4h1v1h-1zM34 5h1v1h-1zM34 22h1v2h-1zM35 22h1v1h-1zM35 24h1v1h-1zM37 24h1v1h-1zM41 20h1v1h-1zM42 12h1v1h-1zM42 20h1v1h-1zM44 20h1v2h-1zM45 13h1v2h-1zM48 19h1v1h-1zM49 16h1v2h-1zM50 15h1v1h-1zM51 20h1v1h-1z"/>
<path fill="#b5f195" d="M2 0h1v1h-1z"/>
<path fill="#aaf69b" d="M2 1h1v1h-1zM38 15h1v1h-1z"/>
<path fill="#b2f396" d="M3 0h1v1h-1z"/>
<path fill="#a7f79d" d="M3 1h1v1h-1z"/>
<path fill="#d4dd80" d="M4 0h1v1h-1z"/>
<path fill="#cde284" d="M4 1h1v1h-1z"/>
<path fill="#7cffb6" d="M4 2h1v1h-1zM13 7h1v1h-1zM17 1h1v1h-1zM26 12h1v1h-1zM38 18h1v1h-1z"/>
<path fill="#2784f6" d="M4 3h1v1h-1zM12 0h1v1h-1zM16 20h1v1h-1zM17 21h1v1h-1zM20 20h1v1h-1zM21 22h1v1h-1zM23 18h1v1h-1zM24 1h1v1h-1zM25 24h1v1h-1zM26 20h1v1h-1zM26 24h1v1h-1zM27 22h1v1h-1zM28 23h1v2h-1zM30 19h1v1h-1zM33 21h1v1h-1zM34 6h1v1h-1zM38 24h1v1h-1zM40 24h1v1h-1zM41 23h1v1h-1zM42 24h1v1h-1zM46 11h1v1h-1zM49 15h1v1h-1zM50 18h1v1h-1zM53 19h1v1h-1z"/>
<path fill="#8000ff" d="M4 4h1v1h-1zM6 7h1v1h-1zM11 11h1v1h-1zM11 21h1v1h-1zM12 12h1v1h-1zM13 0h1v1h-1zM15 17h1v1h-1zM15 20h1v1h-1zM16 22h1v1h-1zM17 17h1v1h-1zM18 18h1v1h-1zM18 20h1v1h-1zM19 19h1v1h-1zM20 21h1v1h-1zM21 23h1v1h-1zM22 19h1v1h-1zM22 22h1v2h-1zM23 1h1v1h-1zM23 22h1v2h-1zM23 25h1v3h-1zM24 20h1v1h-1zM24 26h1v1h-1zM24 29h1v1h-1zM25 25h1v2h-1zM25 28h1v2h-1zM26 3h1v1h-1zM26 23h1v1h-1zM26 26h1v1h-1zM26 29h1v1h-1zM26 31h1v1h-1zM27 24h1v2h-1zM27 27h1v1h-1zM27 29h1v2h-1zM28 3h1v1h-1zM29 20h1v1h-1zM29 26h1v1h-1zM29 29h1v1h-1zM30 3h1v1h-1zM30 18h1v1h-1zM30 22h1v3h-1zM30 26h1v3h-1zM30 32h1v1h-1zM31 2h1v3h-1zM31 22h1v4h-1zM31 27h1v1h-1zM31 33h1v1h-1zM31 36h1v1h-1zM32 3h1v2h-1zM32 26h1v3h-1zM32 30h1v1h-1zM32 35h1v1h-1zM33 22h1v1h-1zM33 25h1v1h-1zM33 33h1v1h-1zM33 38h1v1h-1zM34 26h1v1h-1zM34 28h1v1h-1zM34 30h1v2h-1zM35 23h1v1h-1zM35 27h1v1h-1zM36 7h1v1h-1zM36 26h1v1h-1zM37 26h1v1h-1zM38 27h1v1h-1zM39 8h1v1h-1zM39 19h1v1h-1zM39 29h1v1h-1zM40 8h1v1h-1zM40 29h1v1h-1zM41 22h1v1h-1zM41 24h1v1h-1zM41 27h1v1h-1zM42 23h1v1h-1zM42 27h1v1h-1zM44 10h1v1h-1zM44 23h1v3h-1zM45 22h1v5h-1zM45 28h1v1h-1zM46 10h1v1h-1zM46 20h1v1h-1zM46 22h1v1h-1zM46 25h1v2h-1zM46 30h1v1h-1zM47 11h1v1h-1zM47 22h1v4h-1zM48 11h1v1h-1zM48 22h1v1h-1zM50 19h1v1h-1zM51 13h1v1h-1zM51 21h1v2h-1zM52 13h1v1h-1zM52 17h1v2h-1zM52 21h1v2h-1zM54 18h1v1h-1zM54 21h1v1h-1z"/>
<path fill="#f7bd67" d="M5 0h1v1h-1z"/>
<path fill="#ffb15f" d="M5 1h1v1h-1z"/>
<path fill="#91feaa" d="M5 2h1v1h-1zM14 1h1v1h-1zM38 14h1v1h-1z"/>
<path fill="#85ffb1" d="M5 3h1v1h-1zM15 8h1v1h-1z"/>
<path fill="#13c8e5" d="M5 4h1v1h-1zM7 6h1v1h-1zM10 10h1v1h-1zM12 10h1v1h-1zM16 11h1v1h-1zM19 15h1v1h-1zM22 12h1v1h-1zM27 17h1v1h-1zM27 19h1v1h-1zM30 1h1v1h-1zM32 19h1v2h-1zM36 21h1v1h-1zM40 22h1v1h-1zM44 12h1v1h-1zM45 11h1v1h-1zM48 18h1v1h-1zM51 17h1v2h-1z"/>
<path fill="#a0faa1" d="M6 0h1v1h-1zM18 7h1v1h-1z"/>
<path fill="#ff5129" d="M6 1h1v1h-1z"/>
<path fill="#faba65" d="M6 2h1v1h-1z"/>
<path fill="#abf69b" d="M6 3h1v1h-1zM11 5h1v1h-1z"/>
<path fill="#80ffb4" d="M6 4h1v1h-1zM19 9h1v1h-1zM35 16h1v1h-1zM39 16h1v1h-1z"/>
<path fill="#1997f2" d="M6 5h1v1h-1zM16 13h1v1h-1zM20 17h1v1h-1zM21 18h1v1h-1zM22 18h1v1h-1zM22 21h1v1h-1zM27 2h1v1h-1zM28 18h1v1h-1zM28 22h1v1h-1zM29 17h1v1h-1zM30 17h1v1h-1zM30 25h1v1h-1zM31 19h1v1h-1zM32 21h1v2h-1zM34 20h1v1h-1zM35 21h1v1h-1zM37 23h1v1h-1zM42 21h1v1h-1zM44 13h1v1h-1zM45 21h1v1h-1zM46 13h1v1h-1zM47 13h1v2h-1zM48 13h1v1h-1zM50 20h1v1h-1zM51 16h1v1h-1z"/>
<path fill="#aef599" d="M7 0h1v1h-1zM21 8h1v1h-1zM27 10h1v1h-1zM28 8h1v1h-1zM28 11h1v1h-1z"/>
<path fill="#ff1e0f" d="M7 1h1v1h-1z"/>
<path fill="#ff8f4b" d="M7 2h1v1h-1z"/>
<path fill="#d9d97c" d="M7 3h1v1h-1zM26 7h1v1h-1z"/>
<path fill="#a8f79c" d="M7 4h1v1h-1zM29 8h1v1h-1z"/>
<path fill="#8dfeac" d="M7 5h1v1h-1zM29 7h1v1h-1z"/>
<path fill="#5345fd" d="M7 7h1v1h-1zM8 7h1v2h-1zM9 8h1v1h-1zM10 9h1v1h-1zM13 13h1v3h-1zM14 14h1v2h-1zM15 14h1v2h-1zM16 16h1v1h-1zM16 18h1v2h-1zM17 18h1v3h-1zM17 22h1v1h-1zM18 17h1v1h-1zM18 21h1v1h-1zM19 16h1v3h-1zM20 18h1v2h-1zM22 20h1v1h-1zM22 24h1v1h-1zM23 19h1v2h-1zM23 24h1v1h-1zM24 21h1v3h-1zM24 27h1v1h-1zM24 30h1v1h-1zM25 2h1v1h-1zM25 22h1v2h-1zM26 2h1v1h-1zM26 21h1v2h-1zM27 21h1v1h-1zM28 2h1v1h-1zM28 20h1v2h-1zM28 25h1v1h-1zM29 22h1v1h-1zM30 20h1v2h-1zM31 18h1v1h-1zM31 20h1v2h-1zM32 23h1v2h-1zM32 32h1v1h-1zM33 3h1v1h-1zM33 23h1v2h-1zM33 29h1v1h-1zM34 24h1v2h-1zM35 25h1v1h-1zM36 24h1v2h-1zM37 25h1v1h-1zM38 25h1v1h-1zM38 29h1v1h-1zM39 25h1v1h-1zM40 11h1v1h-1zM40 25h1v1h-1zM41 10h1v1h-1zM41 25h1v2h-1zM42 10h1v1h-1zM42 22h1v1h-1zM42 25h1v2h-1zM43 20h1v2h-1zM43 26h1v2h-1zM44 26h1v1h-1zM46 21h1v1h-1zM47 19h1v1h-1zM47 21h1v1h-1zM48 12h1v1h-1zM48 20h1v2h-1zM49 12h1v1h-1zM49 14h1v1h-1zM49 19h1v3h-1zM50 14h1v1h-1zM51 15h1v1h-1zM52 15h1v2h-1zM52 19h1v2h-1zM53 17h1v2h-1zM54 16h1v2h-1z"/>
<path fill="#d5dc7f" d="M8 0h1v1h-1z"/>
<path fill="#ff0302" d="M8 1h1v1h-1z"/>
<path fill="#ff552b" d="M8 2h1v1h-1z"/>
<path fill="#c7e688" d="M8 3h1v1h-1z"/>
<path fill="#aaf69c" d="M8 4h1v1h-1z"/>
<path fill="#76ffba" d="M8 5h1v1h-1zM30 13h1v1h-1zM39 18h1v1h-1zM40 14h1v1h-1zM40 17h1v1h-1z"/>
<path fill="#24d7df" d="M8 6h1v1h-1zM12 8h1v1h-1zM20 15h1v1h-1zM24 19h1v1h-1zM25 18h1v1h-1zM28 17h1v1h-1zM41 11h1v1h-1z"/>
<path fill="#a5f89e" d="M9 0h1v1h-1zM29 9h1v1h-1z"/>
<path fill="#ff0704" d="M9 1h1v1h-1z"/>
<path fill="#ff2e17" d="M9 2h1v1h-1z"/>
<path fill="#ffb461" d="M9 3h1v1h-1z"/>
<path fill="#a5f89f" d="M9 4h1v1h-1z"/>
<path fill="#99fca5" d="M9 5h1v1h-1zM15 7h1v1h-1zM20 8h1v1h-1zM24 10h1v1h-1z"/>
<path fill="#55f6ca" d="M9 6h1v1h-1zM14 9h1v1h-1zM16 9h1v1h-1zM24 3h1v1h-1zM26 14h1v1h-1zM27 15h1v1h-1zM28 14h1v1h-1zM29 5h1v1h-1zM30 15h1v1h-1zM36 10h1v1h-1z"/>
<path fill="#35e5d9" d="M9 7h1v1h-1zM11 10h1v1h-1zM20 12h1v1h-1zM22 13h1v1h-1zM23 14h1v1h-1zM24 16h1v2h-1zM26 16h1v1h-1zM33 17h1v1h-1zM36 19h1v1h-1zM41 13h1v1h-1z"/>
<path fill="#ff140a" d="M10 1h1v1h-1zM12 3h1v1h-1z"/>
<path fill="#ff0301" d="M10 2h1v1h-1z"/>
<path fill="#ff924c" d="M10 3h1v1h-1z"/>
<path fill="#bfec8e" d="M10 4h1v1h-1zM32 8h1v1h-1zM34 10h1v1h-1z"/>
<path fill="#acf69a" d="M10 5h1v1h-1zM21 3h1v1h-1zM30 9h1v2h-1zM35 14h1v1h-1z"/>
<path fill="#86ffb0" d="M10 6h1v1h-1zM36 16h1v1h-1z"/>
<path fill="#70febd" d="M10 7h1v1h-1zM24 11h1v1h-1zM27 5h1v1h-1zM34 17h1v1h-1zM39 13h1v1h-1zM41 15h1v1h-1zM43 16h1v1h-1zM44 18h1v1h-1z"/>
<path fill="#3ce9d6" d="M10 8h1v1h-1zM24 13h1v1h-1zM25 14h1v1h-1zM32 16h1v1h-1zM33 18h1v1h-1zM34 18h1v1h-1zM36 9h1v1h-1zM36 20h1v1h-1zM38 21h1v1h-1zM41 19h1v1h-1z"/>
<path fill="#3febd4" d="M11 0h1v1h-1zM18 11h1v1h-1zM25 17h1v1h-1zM30 14h1v1h-1zM31 14h1v1h-1zM42 19h1v1h-1zM46 15h1v1h-1z"/>
<path fill="#ff8444" d="M11 1h1v1h-1z"/>
<path fill="#ff0000" d="M11 2h1v1h-1z"/>
<path fill="#ff532a" d="M11 3h1v1h-1z"/>
<path fill="#e2d176" d="M11 4h1v1h-1z"/>
<path fill="#8bfeae" d="M11 6h1v1h-1z"/>
<path fill="#57f7c9" d="M11 7h1v1h-1zM14 11h1v1h-1zM15 9h1v1h-1zM20 11h1v1h-1zM22 11h1v1h-1zM26 13h1v1h-1zM27 14h1v1h-1zM35 20h1v1h-1zM44 15h1v1h-1zM47 18h1v1h-1z"/>
<path fill="#4bf2cf" d="M11 8h1v1h-1zM29 13h1v1h-1zM34 19h1v1h-1zM35 19h1v1h-1zM38 19h1v1h-1zM40 12h1v1h-1z"/>
<path fill="#0cc2e8" d="M11 9h1v1h-1zM16 14h1v1h-1zM23 15h1v1h-1zM25 19h1v1h-1zM33 19h1v1h-1zM36 22h1v1h-1zM38 22h1v1h-1zM42 11h1v1h-1z"/>
<path fill="#ffa659" d="M12 1h1v1h-1z"/>
<path fill="#ff2713" d="M12 2h1v1h-1z"/>
<path fill="#ffb562" d="M12 4h1v1h-1z"/>
<path fill="#a3f99f" d="M12 5h1v1h-1zM16 7h1v1h-1z"/>
<path fill="#81ffb4" d="M12 6h1v1h-1zM17 8h1v1h-1zM25 12h1v1h-1z"/>
<path fill="#4ef3ce" d="M12 7h1v1h-1zM22 2h1v1h-1zM41 14h1v1h-1zM42 15h1v1h-1zM46 16h1v1h-1zM48 15h1v1h-1z"/>
<path fill="#1fd3e1" d="M12 9h1v1h-1zM13 10h1v1h-1zM14 13h1v1h-1zM15 12h1v1h-1zM16 10h1v1h-1zM22 17h1v1h-1zM23 17h1v1h-1zM25 16h1v1h-1zM27 16h1v1h-1zM30 5h1v1h-1zM38 23h1v1h-1zM39 21h1v1h-1zM41 21h1v1h-1z"/>
<path fill="#19cee3" d="M12 11h1v1h-1zM16 12h1v1h-1zM18 12h1v1h-1zM22 14h1v2h-1zM23 16h1v1h-1zM29 3h1v1h-1zM39 10h1v1h-1zM46 14h1v1h-1zM49 18h1v1h-1zM53 20h1v1h-1z"/>
<path fill="#b8ef92" d="M13 1h1v1h-1zM27 11h1v1h-1z"/>
<path fill="#ff3d1f" d="M13 2h1v1h-1z"/>
<path fill="#ff150a" d="M13 3h1v1h-1z"/>
<path fill="#ff6f39" d="M13 4h1v1h-1z"/>
<path fill="#e6ce73" d="M13 5h1v1h-1z"/>
<path fill="#b7f093" d="M13 6h1v1h-1zM27 8h1v1h-1z"/>
<path fill="#67fcc2" d="M13 8h1v1h-1zM27 1h1v1h-1zM39 14h1v1h-1zM40 15h1v1h-1zM41 16h1v1h-1zM42 16h1v1h-1zM44 17h1v1h-1z"/>
<path fill="#05baea" d="M13 9h1v1h-1zM13 11h1v2h-1zM18 14h1v2h-1zM21 16h1v1h-1zM27 26h1v1h-1zM31 16h1v1h-1zM32 15h1v1h-1zM33 20h1v1h-1zM36 8h1v1h-1zM37 9h1v1h-1zM39 22h1v1h-1zM40 10h1v1h-1zM43 12h1v1h-1zM45 20h1v1h-1zM46 19h1v1h-1z"/>
<path fill="#ff7a3f" d="M14 2h1v1h-1z"/>
<path fill="#ff0d06" d="M14 3h1v1h-1z"/>
<path fill="#ff753c" d="M14 4h1v1h-1z"/>
<path fill="#e1d377" d="M14 5h1v1h-1zM25 8h1v1h-1z"/>
<path fill="#9dfba3" d="M14 6h1v1h-1zM25 9h1v1h-1z"/>
<path fill="#7affb8" d="M14 7h1v1h-1z"/>
<path fill="#6bfdbf" d="M14 8h1v1h-1zM20 10h1v1h-1zM23 11h1v1h-1zM38 17h1v1h-1z"/>
<path fill="#29dbde" d="M14 12h1v1h-1zM17 10h1v3h-1zM21 11h1v1h-1zM21 14h1v1h-1zM23 13h1v1h-1zM26 17h1v2h-1zM39 11h1v1h-1z"/>
<path fill="#5bf9c7" d="M15 1h1v1h-1zM19 10h1v1h-1zM21 1h1v1h-1z"/>
<path fill="#ffa458" d="M15 2h1v1h-1z"/>
<path fill="#ff2613" d="M15 3h1v1h-1z"/>
<path fill="#ff4322" d="M15 4h1v1h-1z"/>
<path fill="#ffad5d" d="M15 5h1v1h-1z"/>
<path fill="#c3ea8b" d="M15 6h1v1h-1z"/>
<path fill="#04b0ed" d="M15 11h1v1h-1zM16 15h1v1h-1zM17 13h1v1h-1zM19 12h1v1h-1zM19 20h1v1h-1zM20 14h1v1h-1zM22 16h1v1h-1zM24 2h1v1h-1zM27 23h1v1h-1zM28 19h1v1h-1zM31 26h1v1h-1zM33 5h1v1h-1zM34 21h1v1h-1zM35 7h1v1h-1zM36 23h1v1h-1zM38 8h1v1h-1zM38 26h1v1h-1zM39 9h1v1h-1zM40 26h1v1h-1zM44 28h1v1h-1zM46 12h1v1h-1zM48 14h1v1h-1z"/>
<path fill="#2ddfdc" d="M15 13h1v1h-1zM19 13h1v1h-1zM20 13h1v1h-1zM21 13h1v1h-1zM32 17h1v1h-1zM37 22h1v1h-1zM40 19h1v1h-1zM43 13h1v1h-1zM43 19h1v1h-1zM48 17h1v1h-1zM50 17h1v1h-1z"/>
<path fill="#77ffb9" d="M16 1h1v1h-1zM28 12h1v1h-1zM31 13h1v1h-1zM33 15h1v1h-1zM37 16h1v1h-1zM37 18h1v1h-1z"/>
<path fill="#ddd67a" d="M16 2h1v1h-1zM24 7h1v1h-1zM26 6h1v1h-1z"/>
<path fill="#ff713a" d="M16 3h1v1h-1z"/>
<path fill="#ff3c1e" d="M16 4h1v1h-1z"/>
<path fill="#ff904b" d="M16 5h1v1h-1z"/>
<path fill="#c7e789" d="M16 6h1v1h-1z"/>
<path fill="#68fcc1" d="M16 8h1v1h-1z"/>
<path fill="#3a6bf9" d="M16 21h1v1h-1zM17 14h1v2h-1zM18 16h1v1h-1zM19 14h1v1h-1zM20 16h1v1h-1zM25 1h1v1h-1zM25 20h1v1h-1zM26 25h1v1h-1zM27 20h1v1h-1zM29 19h1v1h-1zM31 17h1v1h-1zM32 2h1v1h-1zM38 9h1v1h-1zM39 23h1v2h-1zM40 23h1v1h-1zM43 22h1v1h-1zM43 24h1v2h-1zM43 28h1v1h-1zM47 20h1v1h-1zM50 16h1v1h-1zM51 19h1v1h-1z"/>
<path fill="#b6f194" d="M17 2h1v1h-1zM28 9h1v1h-1zM37 14h1v1h-1z"/>
<path fill="#ff7f42" d="M17 3h1v1h-1z"/>
<path fill="#ff2f18" d="M17 4h1v1h-1z"/>
<path fill="#ff8545" d="M17 5h1v1h-1z"/>
<path fill="#d0e083" d="M17 6h1v1h-1z"/>
<path fill="#adf599" d="M17 7h1v1h-1z"/>
<path fill="#59f8c8" d="M17 9h1v1h-1zM28 1h1v1h-1zM35 17h1v1h-1zM37 10h1v1h-1zM45 17h1v1h-1zM47 16h1v1h-1z"/>
<path fill="#52f5cc" d="M18 1h1v1h-1zM24 15h1v1h-1zM31 15h1v1h-1zM37 20h1v1h-1zM39 12h1v1h-1z"/>
<path fill="#84ffb2" d="M18 2h1v1h-1zM22 3h1v1h-1zM29 11h1v1h-1zM33 13h1v1h-1z"/>
<path fill="#ffa759" d="M18 3h1v1h-1zM19 6h1v1h-1z"/>
<path fill="#ff361b" d="M18 4h1v1h-1z"/>
<path fill="#ff723b" d="M18 5h1v1h-1z"/>
<path fill="#e6ce74" d="M18 6h1v1h-1z"/>
<path fill="#82ffb3" d="M18 8h1v1h-1zM32 7h1v1h-1z"/>
<path fill="#65fcc3" d="M18 9h1v1h-1zM29 1h1v1h-1zM35 9h1v1h-1zM42 17h1v1h-1z"/>
<path fill="#39e7d7" d="M18 10h1v1h-1zM29 14h1v1h-1zM32 5h1v1h-1zM37 21h1v1h-1zM38 10h1v1h-1zM42 14h1v1h-1zM44 16h1v1h-1z"/>
<path fill="#31e2da" d="M18 13h1v1h-1zM21 12h1v1h-1zM28 16h1v1h-1zM29 15h1v1h-1zM31 1h1v1h-1zM38 11h1v1h-1zM40 13h1v1h-1zM41 18h1v1h-1z"/>
<path fill="#72febc" d="M19 1h1v1h-1zM45 18h1v1h-1zM46 17h1v1h-1z"/>
<path fill="#9efba3" d="M19 2h1v1h-1zM23 4h1v1h-1zM38 13h1v1h-1z"/>
<path fill="#e4d075" d="M19 3h1v1h-1z"/>
<path fill="#ff783e" d="M19 4h1v1h-1z"/>
<path fill="#ff6031" d="M19 5h1v1h-1z"/>
<path fill="#d6dc7e" d="M19 7h1v1h-1z"/>
<path fill="#a4f99f" d="M19 8h1v1h-1zM25 11h1v1h-1z"/>
<path fill="#6afdc0" d="M19 11h1v1h-1zM34 7h1v1h-1zM35 18h1v1h-1z"/>
<path fill="#42edd3" d="M20 1h1v1h-1zM28 15h1v1h-1zM35 8h1v1h-1zM40 20h1v1h-1zM41 12h1v1h-1zM42 13h1v1h-1zM43 14h1v1h-1zM43 18h1v1h-1zM44 19h1v1h-1zM46 18h1v1h-1zM48 16h1v1h-1z"/>
<path fill="#98fca6" d="M20 2h1v1h-1zM21 2h1v1h-1zM31 10h1v1h-1z"/>
<path fill="#b3f396" d="M20 3h1v1h-1zM30 8h1v1h-1z"/>
<path fill="#ffab5c" d="M20 4h1v1h-1z"/>
<path fill="#ff6433" d="M20 5h1v1h-1z"/>
<path fill="#ff8d4a" d="M20 6h1v1h-1z"/>
<path fill="#ecc86f" d="M20 7h1v1h-1z"/>
<path fill="#8efeac" d="M20 9h1v1h-1zM26 5h1v1h-1zM31 7h1v1h-1z"/>
<path fill="#feb562" d="M21 4h1v1h-1z"/>
<path fill="#ff8042" d="M21 5h1v1h-1z"/>
<path fill="#ffa055" d="M21 6h1v1h-1z"/>
<path fill="#d7db7e" d="M21 7h1v1h-1z"/>
<path fill="#83ffb2" d="M21 9h1v1h-1zM37 12h1v1h-1z"/>
<path fill="#48f0d0" d="M21 10h1v1h-1zM28 4h1v1h-1zM42 18h1v1h-1zM45 19h1v1h-1zM47 15h1v1h-1z"/>
<path fill="#c5e88a" d="M22 4h1v1h-1zM34 11h1v1h-1z"/>
<path fill="#ffa356" d="M22 5h1v1h-1z"/>
<path fill="#ffa558" d="M22 6h1v1h-1z"/>
<path fill="#dfd478" d="M22 7h1v1h-1z"/>
<path fill="#aff498" d="M22 8h1v1h-1z"/>
<path fill="#9afca5" d="M22 9h1v1h-1zM34 8h1v1h-1z"/>
<path fill="#7bffb7" d="M22 10h1v1h-1zM27 13h1v1h-1zM32 13h1v1h-1zM40 18h1v1h-1z"/>
<path fill="#63fbc3" d="M23 2h1v1h-1zM37 11h1v1h-1z"/>
<path fill="#7dffb5" d="M23 3h1v1h-1zM28 6h1v1h-1z"/>
<path fill="#ffac5c" d="M23 5h1v1h-1z"/>
<path fill="#ffaf5e" d="M23 6h1v1h-1z"/>
<path fill="#dcd77b" d="M23 7h1v1h-1z"/>
<path fill="#b9ef92" d="M23 8h1v1h-1z"/>
<path fill="#97fca7" d="M23 9h1v1h-1zM31 11h1v1h-1z"/>
<path fill="#7fffb5" d="M23 10h1v1h-1z"/>
<path fill="#45efd2" d="M23 12h1v1h-1zM26 15h1v1h-1zM37 19h1v1h-1zM38 20h1v1h-1zM39 20h1v1h-1zM45 15h1v2h-1z"/>
<path fill="#a6f89d" d="M24 4h1v1h-1zM26 10h1v1h-1zM28 10h1v1h-1zM29 10h1v1h-1z"/>
<path fill="#e5cf74" d="M24 5h1v1h-1z"/>
<path fill="#fbb964" d="M24 6h1v1h-1z"/>
<path fill="#e3d176" d="M24 8h1v1h-1z"/>
<path fill="#b4f295" d="M24 9h1v1h-1z"/>
<path fill="#50f4cd" d="M24 12h1v1h-1zM25 3h1v1h-1z"/>
<path fill="#61fbc4" d="M24 14h1v1h-1zM25 15h1v1h-1zM30 12h1v1h-1zM31 6h1v1h-1zM33 6h1v1h-1z"/>
<path fill="#89ffaf" d="M25 4h1v1h-1zM28 5h1v1h-1zM32 6h1v1h-1zM32 12h1v1h-1z"/>
<path fill="#b1f397" d="M25 5h1v1h-1zM27 9h1v1h-1zM32 9h1v1h-1z"/>
<path fill="#f1c46c" d="M25 6h1v1h-1z"/>
<path fill="#eec66e" d="M25 7h1v1h-1z"/>
<path fill="#8afeae" d="M25 10h1v1h-1z"/>
<path fill="#6dfdbe" d="M25 13h1v1h-1zM26 4h1v1h-1zM29 12h1v1h-1z"/>
<path fill="#5ffac5" d="M26 1h1v1h-1zM36 17h1v1h-1zM44 14h1v1h-1z"/>
<path fill="#d6dc7f" d="M26 8h1v1h-1z"/>
<path fill="#a2f9a0" d="M26 9h1v1h-1zM40 16h1v1h-1z"/>
<path fill="#78ffb8" d="M26 11h1v1h-1zM38 12h1v1h-1z"/>
<path fill="#8cfead" d="M27 6h1v1h-1zM30 6h1v1h-1z"/>
<path fill="#bced90" d="M27 7h1v1h-1zM36 14h1v1h-1z"/>
<path fill="#87ffb0" d="M27 12h1v1h-1z"/>
<path fill="#93fda9" d="M28 7h1v1h-1zM33 14h1v1h-1zM34 9h1v1h-1zM43 17h1v1h-1z"/>
<path fill="#90feab" d="M28 13h1v1h-1z"/>
<path fill="#92fdaa" d="M29 6h1v1h-1zM34 15h1v1h-1z"/>
<path fill="#96fda7" d="M30 7h1v1h-1z"/>
<path fill="#9bfba5" d="M30 11h1v1h-1zM33 7h1v1h-1zM36 12h1v1h-1z"/>
<path fill="#c9e587" d="M31 8h1v1h-1z"/>
<path fill="#baef91" d="M31 9h1v1h-1zM35 12h1v1h-1z"/>
<path fill="#73febb" d="M31 12h1v1h-1zM33 16h1v1h-1zM34 16h1v1h-1z"/>
<path fill="#beec8f" d="M32 10h1v1h-1z"/>
<path fill="#9cfba4" d="M32 11h1v1h-1z"/>
<path fill="#74feba" d="M32 14h1v1h-1zM36 15h1v1h-1zM36 18h1v1h-1z"/>
<path fill="#a1faa1" d="M33 8h1v1h-1z"/>
<path fill="#bded8f" d="M33 9h1v1h-1z"/>
<path fill="#dbd77b" d="M33 10h1v1h-1z"/>
<path fill="#d3de81" d="M33 11h1v1h-1z"/>
<path fill="#c1ea8c" d="M33 12h1v1h-1z"/>
<path fill="#cee284" d="M34 12h1v1h-1z"/>
<path fill="#cde285" d="M34 13h1v1h-1z"/>
<path fill="#94fda8" d="M34 14h1v1h-1zM39 15h1v1h-1z"/>
<path fill="#9ffaa2" d="M35 10h1v1h-1z"/>
<path fill="#b3f296" d="M35 11h1v1h-1z"/>
<path fill="#cae587" d="M35 13h1v1h-1z"/>
<path fill="#8ffeab" d="M35 15h1v1h-1z"/>
<path fill="#88ffaf" d="M36 11h1v1h-1zM41 17h1v1h-1z"/>
<path fill="#bbee90" d="M36 13h1v1h-1z"/>
<path fill="#9efaa2" d="M37 13h1v1h-1z"/>
<path fill="#95fda8" d="M37 15h1v1h-1z"/>
<path fill="#6ffebd" d="M37 17h1v1h-1zM38 16h1v1h-1zM39 17h1v1h-1zM47 17h1v1h-1z"/>
<path fill="#5df9c6" d="M43 15h1v1h-1z"/>
</g></g></g>
<g clip-path="url(#c5)" stroke="#6c6c6c" fill="#6c6c6c">
<path d="M1266.0 692.3V682.9M1306.1 688.0V676.3M1346.1 685.3V669.6M1386.2 681.0V662.5M1426.2 677.0V653.5M1466.2 674.3V643.7M1506.2 670.4V638.2M1546.3 663.7V624.5M1586.3 660.6V610.7M1626.4 655.1V598.2M1666.4 649.6V594.2M1706.4 646.8V589.9M1746.5 630.7V569.1M1786.5 621.7V565.6M1826.5 619.7V557.7M1866.6 609.5V554.6M1906.6 607.2V547.2M1946.6 592.7V546.4M1986.7 583.6V543.6M2026.7 571.5V534.2M2066.7 565.6V533.4" fill="none" stroke-width="4.0"/>
<path d="M1255.5 692.3h21.2M1255.5 682.9h21.2M1295.5 688.0h21.2M1295.5 676.3h21.2M1335.5 685.3h21.2M1335.5 669.6h21.2M1375.6 681.0h21.2M1375.6 662.5h21.2M1415.6 677.0h21.2M1415.6 653.5h21.2M1455.6 674.3h21.2M1455.6 643.7h21.2M1495.7 670.4h21.2M1495.7 638.2h21.2M1535.7 663.7h21.2M1535.7 624.5h21.2M1575.7 660.6h21.2M1575.7 610.7h21.2M1615.8 655.1h21.2M1615.8 598.2h21.2M1655.8 649.6h21.2M1655.8 594.2h21.2M1695.8 646.8h21.2M1695.8 589.9h21.2M1735.9 630.7h21.2M1735.9 569.1h21.2M1775.9 621.7h21.2M1775.9 565.6h21.2M1815.9 619.7h21.2M1815.9 557.7h21.2M1856.0 609.5h21.2M1856.0 554.6h21.2M1896.0 607.2h21.2M1896.0 547.2h21.2M1936.0 592.7h21.2M1936.0 546.4h21.2M1976.1 583.6h21.2M1976.1 543.6h21.2M2016.1 571.5h21.2M2016.1 534.2h21.2M2056.1 565.6h21.2M2056.1 533.4h21.2" fill="none" stroke-width="2.2" />
<polyline points="1266.0,687.6 1306.1,682.1 1346.1,677.8 1386.2,672.3 1426.2,665.7 1466.2,659.8 1506.2,655.1 1546.3,644.9 1586.3,635.4 1626.4,626.4 1666.4,622.5 1706.4,619.4 1746.5,599.3 1786.5,593.1 1826.5,588.7 1866.6,581.7 1906.6,576.6 1946.6,569.1 1986.7,563.6 2026.7,552.6 2066.7,550.7" fill="none" stroke-width="3.4" stroke-linejoin="round"/>
<rect x="1258.6" y="680.2" width="14.8" height="14.8" stroke="none"/>
<rect x="1298.7" y="674.7" width="14.8" height="14.8" stroke="none"/>
<rect x="1338.7" y="670.4" width="14.8" height="14.8" stroke="none"/>
<rect x="1378.8" y="664.9" width="14.8" height="14.8" stroke="none"/>
<rect x="1418.8" y="658.3" width="14.8" height="14.8" stroke="none"/>
<rect x="1458.8" y="652.4" width="14.8" height="14.8" stroke="none"/>
<rect x="1498.8" y="647.7" width="14.8" height="14.8" stroke="none"/>
<rect x="1538.9" y="637.5" width="14.8" height="14.8" stroke="none"/>
<rect x="1578.9" y="628.0" width="14.8" height="14.8" stroke="none"/>
<rect x="1619.0" y="619.0" width="14.8" height="14.8" stroke="none"/>
<rect x="1659.0" y="615.1" width="14.8" height="14.8" stroke="none"/>
<rect x="1699.0" y="612.0" width="14.8" height="14.8" stroke="none"/>
<rect x="1739.1" y="591.9" width="14.8" height="14.8" stroke="none"/>
<rect x="1779.1" y="585.7" width="14.8" height="14.8" stroke="none"/>
<rect x="1819.1" y="581.3" width="14.8" height="14.8" stroke="none"/>
<rect x="1859.2" y="574.3" width="14.8" height="14.8" stroke="none"/>
<rect x="1899.2" y="569.2" width="14.8" height="14.8" stroke="none"/>
<rect x="1939.2" y="561.7" width="14.8" height="14.8" stroke="none"/>
<rect x="1979.2" y="556.2" width="14.8" height="14.8" stroke="none"/>
<rect x="2019.3" y="545.2" width="14.8" height="14.8" stroke="none"/>
<rect x="2059.3" y="543.3" width="14.8" height="14.8" stroke="none"/>
</g>
</g>
<g id="panel6">
<clipPath id="c6"><rect x="1206.00" y="699.80" width="960.80" height="325.70"/></clipPath>
<g clip-path="url(#c6)"><g><g transform="translate(1206.000 1025.500) scale(16.0133 -19.1588)" shape-rendering="crispEdges">
<path fill="#1fd3e1" d="M1 4h1v1h-1zM20 12h1v1h-1zM25 14h1v1h-1zM27 3h1v1h-1zM36 9h1v1h-1zM43 9h1v1h-1z"/>
<path fill="#70febd" d="M2 2h1v1h-1z"/>
<path fill="#cfe183" d="M2 3h1v1h-1zM6 7h1v1h-1z"/>
<path fill="#c5e88a" d="M2 4h1v1h-1z"/>
<path fill="#35e5d9" d="M3 2h1v1h-1zM8 13h1v1h-1zM33 4h1v1h-1zM39 9h1v1h-1z"/>
<path fill="#b4f295" d="M3 3h1v1h-1zM38 5h1v1h-1z"/>
<path fill="#a6f89e" d="M3 4h1v1h-1zM32 5h1v1h-1z"/>
<path fill="#adf599" d="M4 3h1v1h-1z"/>
<path fill="#abf69a" d="M4 4h1v1h-1zM26 10h1v1h-1zM34 5h1v1h-1z"/>
<path fill="#84ffb2" d="M4 5h1v1h-1z"/>
<path fill="#52f5cc" d="M4 6h1v1h-1zM26 13h1v1h-1zM42 8h1v1h-1zM45 7h1v1h-1z"/>
<path fill="#0da5ef" d="M4 7h1v1h-1zM17 2h1v1h-1zM17 14h1v1h-1zM19 12h1v1h-1zM27 2h1v1h-1zM38 10h1v1h-1zM50 7h1v1h-1zM54 6h1v1h-1z"/>
<path fill="#3a6bf9" d="M5 2h1v1h-1zM13 13h1v2h-1zM15 14h1v1h-1zM23 14h1v1h-1zM32 2h1v1h-1zM33 2h1v1h-1zM37 9h1v1h-1zM38 11h1v1h-1zM49 4h1v1h-1z"/>
<path fill="#cbe486" d="M5 3h1v1h-1zM19 10h1v1h-1zM37 7h1v1h-1z"/>
<path fill="#ffb260" d="M5 4h1v1h-1zM11 9h1v1h-1zM25 8h1v1h-1z"/>
<path fill="#ffa95b" d="M5 5h1v1h-1z"/>
<path fill="#dbd87b" d="M5 6h1v1h-1zM22 5h1v1h-1z"/>
<path fill="#7cffb6" d="M5 7h1v1h-1zM18 3h1v1h-1zM23 13h1v1h-1z"/>
<path fill="#24d7df" d="M5 8h1v1h-1zM16 2h1v1h-1zM25 4h1v1h-1zM30 4h1v1h-1zM31 4h1v1h-1zM34 10h1v1h-1zM35 11h1v1h-1zM37 11h1v1h-1zM42 9h1v1h-1zM45 8h1v1h-1zM53 6h1v1h-1z"/>
<path fill="#5345fd" d="M5 9h1v1h-1zM7 13h1v1h-1zM9 1h1v1h-1zM13 2h1v1h-1zM15 15h1v1h-1zM16 13h1v1h-1zM17 13h1v1h-1zM18 16h1v1h-1zM21 14h1v1h-1zM22 14h1v2h-1zM23 2h1v1h-1zM24 3h1v1h-1zM24 15h1v1h-1zM29 14h1v2h-1zM30 13h1v2h-1zM31 13h1v1h-1zM33 11h1v3h-1zM34 11h1v1h-1zM35 10h1v1h-1zM37 10h1v1h-1zM38 9h1v1h-1zM39 10h1v1h-1zM41 4h1v1h-1zM42 10h1v1h-1zM44 4h1v1h-1zM45 9h1v1h-1zM46 4h1v1h-1zM46 9h1v1h-1zM47 9h1v1h-1zM48 4h1v1h-1zM52 4h1v1h-1zM53 5h1v1h-1z"/>
<path fill="#5bf9c7" d="M6 2h1v1h-1zM17 11h1v1h-1zM28 12h1v1h-1z"/>
<path fill="#ff9b52" d="M6 3h1v1h-1z"/>
<path fill="#ff8645" d="M6 4h1v1h-1z"/>
<path fill="#ff7a3f" d="M6 5h1v1h-1z"/>
<path fill="#ffaa5b" d="M6 6h1v1h-1zM23 9h1v1h-1z"/>
<path fill="#a3f9a0" d="M6 8h1v1h-1z"/>
<path fill="#94fda8" d="M6 9h1v1h-1zM10 2h1v1h-1zM11 2h1v1h-1zM40 7h1v1h-1z"/>
<path fill="#6afdc0" d="M6 10h1v1h-1z"/>
<path fill="#29dbde" d="M6 11h1v1h-1zM14 14h1v1h-1zM20 14h1v1h-1zM27 13h1v1h-1zM33 10h1v1h-1z"/>
<path fill="#04b0ed" d="M6 12h1v1h-1zM15 13h1v1h-1zM26 4h1v1h-1zM28 13h1v1h-1zM29 3h1v1h-1zM40 9h1v1h-1zM41 9h1v1h-1zM43 4h1v1h-1zM47 8h1v1h-1z"/>
<path fill="#72febc" d="M7 2h1v1h-1zM28 4h1v1h-1zM46 6h1v1h-1z"/>
<path fill="#ffa156" d="M7 3h1v1h-1zM13 9h1v1h-1z"/>
<path fill="#ff381c" d="M7 4h1v1h-1zM11 4h1v1h-1z"/>
<path fill="#ff4724" d="M7 5h1v1h-1z"/>
<path fill="#ff5028" d="M7 6h1v1h-1z"/>
<path fill="#ffa558" d="M7 7h1v1h-1zM29 6h1v1h-1z"/>
<path fill="#c1ea8c" d="M7 8h1v1h-1z"/>
<path fill="#82ffb3" d="M7 9h1v1h-1zM37 8h1v1h-1z"/>
<path fill="#3febd4" d="M7 10h1v1h-1zM18 15h1v1h-1z"/>
<path fill="#57f7c9" d="M7 11h1v1h-1zM19 14h1v1h-1zM35 4h1v1h-1z"/>
<path fill="#31e2da" d="M7 12h1v1h-1zM16 12h1v1h-1zM24 14h1v1h-1zM29 12h1v1h-1zM35 12h1v1h-1z"/>
<path fill="#86ffb0" d="M8 2h1v1h-1zM30 10h1v1h-1z"/>
<path fill="#ff9c52" d="M8 3h1v1h-1z"/>
<path fill="#ff2412" d="M8 4h1v1h-1z"/>
<path fill="#ff1108" d="M8 5h1v1h-1z"/>
<path fill="#ff2915" d="M8 6h1v1h-1zM14 6h1v1h-1zM15 7h1v1h-1z"/>
<path fill="#ff8243" d="M8 7h1v1h-1z"/>
<path fill="#feb663" d="M8 8h1v1h-1zM20 9h1v1h-1z"/>
<path fill="#dfd478" d="M8 9h1v1h-1zM16 4h1v1h-1z"/>
<path fill="#a4f99f" d="M8 10h1v1h-1zM12 11h1v1h-1zM19 4h1v1h-1z"/>
<path fill="#8bfeae" d="M8 11h1v1h-1zM26 12h1v1h-1z"/>
<path fill="#6dfdbe" d="M8 12h1v1h-1zM22 13h1v1h-1zM23 12h1v1h-1zM27 12h1v1h-1z"/>
<path fill="#77ffb9" d="M9 2h1v1h-1zM22 11h1v1h-1zM23 11h1v1h-1z"/>
<path fill="#ff974f" d="M9 3h1v1h-1z"/>
<path fill="#ff351b" d="M9 4h1v1h-1zM18 7h1v1h-1z"/>
<path fill="#ff0301" d="M9 5h1v1h-1zM12 6h1v1h-1z"/>
<path fill="#ff160b" d="M9 6h1v1h-1z"/>
<path fill="#ff6433" d="M9 7h1v1h-1z"/>
<path fill="#ff8c49" d="M9 8h1v1h-1z"/>
<path fill="#faba65" d="M9 9h1v1h-1z"/>
<path fill="#b1f397" d="M9 10h1v1h-1zM23 10h1v1h-1z"/>
<path fill="#7dffb5" d="M9 11h1v1h-1zM24 12h1v1h-1zM45 6h1v1h-1z"/>
<path fill="#45efd2" d="M9 12h1v1h-1z"/>
<path fill="#67fcc2" d="M9 13h1v1h-1zM20 11h1v1h-1zM34 9h1v1h-1zM41 8h1v1h-1zM50 6h1v1h-1z"/>
<path fill="#05baea" d="M9 14h1v1h-1zM28 3h1v1h-1zM29 13h1v1h-1zM32 4h1v1h-1zM40 4h1v1h-1zM44 9h1v1h-1zM50 5h1v1h-1z"/>
<path fill="#3ce9d6" d="M10 1h1v1h-1zM18 14h1v1h-1zM44 8h1v1h-1z"/>
<path fill="#ffa658" d="M10 3h1v1h-1zM22 6h1v1h-1z"/>
<path fill="#ff2513" d="M10 4h1v1h-1zM10 7h1v1h-1z"/>
<path fill="#ff0000" d="M10 5h1v1h-1zM11 5h1v2h-1z"/>
<path fill="#ff0a05" d="M10 6h1v1h-1z"/>
<path fill="#ff763d" d="M10 8h1v1h-1zM11 8h1v1h-1zM14 8h1v1h-1z"/>
<path fill="#ffb461" d="M10 9h1v1h-1z"/>
<path fill="#c6e789" d="M10 10h1v1h-1zM38 6h1v1h-1z"/>
<path fill="#78ffb8" d="M10 11h1v1h-1zM43 5h1v1h-1z"/>
<path fill="#0cc2e8" d="M10 12h1v1h-1zM28 14h1v1h-1zM38 4h1v1h-1z"/>
<path fill="#2784f6" d="M10 13h1v1h-1zM11 14h1v1h-1zM15 2h1v1h-1zM24 2h1v1h-1zM26 14h1v1h-1zM31 3h1v1h-1zM32 12h1v2h-1zM34 12h1v1h-1zM35 13h1v1h-1zM47 4h1v1h-1zM50 4h1v1h-1z"/>
<path fill="#8000ff" d="M10 14h1v1h-1zM11 13h1v1h-1zM12 13h1v1h-1zM12 15h1v1h-1zM14 15h1v1h-1zM15 16h1v1h-1zM16 14h1v1h-1zM17 16h1v1h-1zM18 1h1v1h-1zM20 2h1v1h-1zM20 15h1v1h-1zM21 2h1v1h-1zM23 15h1v1h-1zM25 3h1v1h-1zM28 2h1v1h-1zM30 3h1v1h-1zM30 12h1v1h-1zM31 2h1v1h-1zM31 12h1v1h-1zM32 3h1v1h-1zM33 3h1v1h-1zM34 14h1v1h-1zM36 12h1v1h-1zM37 4h1v1h-1zM39 11h1v1h-1zM40 10h1v2h-1zM41 10h1v2h-1zM42 4h1v1h-1zM43 10h1v1h-1zM46 10h1v1h-1zM49 9h1v1h-1zM51 4h1v2h-1zM51 7h1v1h-1zM53 7h1v1h-1zM54 5h1v1h-1z"/>
<path fill="#feb662" d="M11 3h1v1h-1z"/>
<path fill="#ff3219" d="M11 7h1v1h-1z"/>
<path fill="#e8cc72" d="M11 10h1v1h-1z"/>
<path fill="#a2f9a0" d="M11 11h1v1h-1z"/>
<path fill="#1997f2" d="M11 12h1v1h-1zM12 14h1v1h-1zM19 2h1v1h-1zM34 13h1v1h-1zM45 4h1v1h-1zM46 8h1v1h-1zM49 5h1v1h-1zM52 5h1v1h-1z"/>
<path fill="#39e7d7" d="M12 2h1v1h-1zM18 2h1v1h-1zM18 13h1v1h-1zM21 3h1v1h-1zM44 7h1v1h-1z"/>
<path fill="#d6dc7e" d="M12 3h1v1h-1zM30 7h1v1h-1z"/>
<path fill="#ff743c" d="M12 4h1v1h-1z"/>
<path fill="#ff2e17" d="M12 5h1v1h-1z"/>
<path fill="#ff2f18" d="M12 7h1v1h-1z"/>
<path fill="#ff8344" d="M12 8h1v1h-1z"/>
<path fill="#ffb360" d="M12 9h1v1h-1z"/>
<path fill="#ded579" d="M12 10h1v1h-1zM26 8h1v1h-1z"/>
<path fill="#50f4cd" d="M12 12h1v1h-1zM23 3h1v1h-1zM46 7h1v1h-1z"/>
<path fill="#acf69a" d="M13 3h1v1h-1z"/>
<path fill="#f2c26b" d="M13 4h1v1h-1zM25 7h1v1h-1z"/>
<path fill="#ff582d" d="M13 5h1v1h-1z"/>
<path fill="#ff1d0f" d="M13 6h1v1h-1z"/>
<path fill="#ff4121" d="M13 7h1v1h-1z"/>
<path fill="#ff753c" d="M13 8h1v1h-1z"/>
<path fill="#cde284" d="M13 10h1v1h-1z"/>
<path fill="#a8f79c" d="M13 11h1v1h-1z"/>
<path fill="#59f8c8" d="M13 12h1v1h-1zM43 8h1v1h-1zM49 6h1v1h-1z"/>
<path fill="#2ddfdc" d="M14 2h1v1h-1zM27 4h1v1h-1zM29 4h1v1h-1zM31 11h1v1h-1zM36 11h1v1h-1zM39 4h1v1h-1zM52 6h1v1h-1z"/>
<path fill="#a5f89f" d="M14 3h1v1h-1zM31 5h1v1h-1z"/>
<path fill="#ffb05f" d="M14 4h1v1h-1z"/>
<path fill="#ff6c38" d="M14 5h1v1h-1zM18 8h1v1h-1z"/>
<path fill="#ff341a" d="M14 7h1v1h-1z"/>
<path fill="#ff914c" d="M14 9h1v1h-1z"/>
<path fill="#d1df82" d="M14 10h1v1h-1zM36 6h1v1h-1z"/>
<path fill="#95fda8" d="M14 11h1v1h-1z"/>
<path fill="#6bfdbf" d="M14 12h1v1h-1zM15 12h1v1h-1zM20 3h1v1h-1zM20 13h1v1h-1zM25 12h1v1h-1z"/>
<path fill="#13c8e5" d="M14 13h1v1h-1zM27 14h1v1h-1z"/>
<path fill="#96fda7" d="M15 3h1v1h-1z"/>
<path fill="#efc66d" d="M15 4h1v1h-1z"/>
<path fill="#ff8545" d="M15 5h1v1h-1zM19 6h1v1h-1z"/>
<path fill="#ff3119" d="M15 6h1v1h-1z"/>
<path fill="#ff542b" d="M15 8h1v1h-1z"/>
<path fill="#ff9850" d="M15 9h1v1h-1z"/>
<path fill="#d7db7e" d="M15 10h1v1h-1z"/>
<path fill="#9bfba4" d="M15 11h1v1h-1zM27 10h1v1h-1z"/>
<path fill="#8ffeab" d="M16 3h1v1h-1zM19 3h1v1h-1zM44 5h1v1h-1z"/>
<path fill="#ffac5d" d="M16 5h1v1h-1z"/>
<path fill="#ff562c" d="M16 6h1v1h-1z"/>
<path fill="#ff2d16" d="M16 7h1v1h-1z"/>
<path fill="#ff5a2e" d="M16 8h1v1h-1z"/>
<path fill="#ff9951" d="M16 9h1v1h-1z"/>
<path fill="#c1eb8d" d="M16 10h1v1h-1z"/>
<path fill="#74feba" d="M16 11h1v1h-1z"/>
<path fill="#73febb" d="M17 3h1v1h-1zM21 11h1v1h-1zM28 11h1v1h-1zM29 10h1v1h-1zM31 9h1v1h-1z"/>
<path fill="#d8da7d" d="M17 4h1v1h-1zM28 8h1v1h-1z"/>
<path fill="#ffab5c" d="M17 5h1v1h-1zM21 6h1v1h-1z"/>
<path fill="#ff6936" d="M17 6h1v1h-1z"/>
<path fill="#ff3f20" d="M17 7h1v1h-1z"/>
<path fill="#ff5f30" d="M17 8h1v1h-1z"/>
<path fill="#ff934d" d="M17 9h1v1h-1zM18 6h1v1h-1z"/>
<path fill="#c2ea8c" d="M17 10h1v1h-1z"/>
<path fill="#5ffac5" d="M17 12h1v1h-1zM19 13h1v1h-1zM22 3h1v1h-1z"/>
<path fill="#baef91" d="M18 4h1v1h-1z"/>
<path fill="#fcb763" d="M18 5h1v1h-1z"/>
<path fill="#ff924c" d="M18 9h1v1h-1z"/>
<path fill="#bded8f" d="M18 10h1v1h-1z"/>
<path fill="#6ffebd" d="M18 11h1v1h-1zM40 8h1v1h-1z"/>
<path fill="#19cee3" d="M18 12h1v1h-1zM35 9h1v1h-1z"/>
<path fill="#f9bb66" d="M19 5h1v1h-1zM31 6h1v1h-1z"/>
<path fill="#ff361b" d="M19 7h1v1h-1z"/>
<path fill="#ff7d40" d="M19 8h1v1h-1z"/>
<path fill="#ffae5e" d="M19 9h1v1h-1zM24 9h1v1h-1z"/>
<path fill="#89ffaf" d="M19 11h1v1h-1zM31 10h1v1h-1z"/>
<path fill="#9efaa2" d="M20 4h1v1h-1z"/>
<path fill="#f1c36c" d="M20 5h1v1h-1zM26 7h1v1h-1z"/>
<path fill="#ff8d4a" d="M20 6h1v1h-1z"/>
<path fill="#ff4f28" d="M20 7h1v1h-1z"/>
<path fill="#ff6e39" d="M20 8h1v1h-1z"/>
<path fill="#b2f396" d="M20 10h1v1h-1z"/>
<path fill="#9efba3" d="M21 4h1v1h-1zM24 11h1v1h-1zM41 5h1v1h-1z"/>
<path fill="#ecc86f" d="M21 5h1v1h-1z"/>
<path fill="#ff5b2e" d="M21 7h1v1h-1z"/>
<path fill="#ff7c40" d="M21 8h1v1h-1z"/>
<path fill="#ffb361" d="M21 9h1v1h-1z"/>
<path fill="#c4e98a" d="M21 10h1v1h-1z"/>
<path fill="#4ef3ce" d="M21 12h1v1h-1z"/>
<path fill="#68fcc1" d="M21 13h1v1h-1zM33 9h1v1h-1zM39 8h1v1h-1zM47 7h1v1h-1zM48 5h1v1h-1zM48 7h1v1h-1z"/>
<path fill="#9afca5" d="M22 4h1v1h-1zM25 13h1v1h-1z"/>
<path fill="#ff743b" d="M22 7h1v1h-1z"/>
<path fill="#ff8444" d="M22 8h1v1h-1z"/>
<path fill="#ffac5c" d="M22 9h1v1h-1z"/>
<path fill="#b8f093" d="M22 10h1v1h-1zM30 8h1v1h-1zM40 6h1v1h-1z"/>
<path fill="#61fbc4" d="M22 12h1v1h-1zM34 4h1v1h-1z"/>
<path fill="#85ffb1" d="M23 4h1v1h-1zM46 5h1v1h-1z"/>
<path fill="#d1e082" d="M23 5h1v1h-1zM32 7h1v1h-1zM33 7h1v1h-1z"/>
<path fill="#fdb763" d="M23 6h1v1h-1zM26 6h1v1h-1z"/>
<path fill="#ff9f54" d="M23 7h1v1h-1z"/>
<path fill="#ffa457" d="M23 8h1v1h-1z"/>
<path fill="#7fffb5" d="M24 4h1v1h-1zM32 9h1v1h-1z"/>
<path fill="#bfec8e" d="M24 5h1v1h-1zM27 9h1v1h-1z"/>
<path fill="#f7bd68" d="M24 6h1v1h-1z"/>
<path fill="#ffa458" d="M24 7h1v1h-1z"/>
<path fill="#ffa256" d="M24 8h1v1h-1z"/>
<path fill="#eec76e" d="M24 10h1v1h-1z"/>
<path fill="#8dfeac" d="M24 13h1v1h-1zM32 10h1v1h-1z"/>
<path fill="#c9e587" d="M25 5h1v1h-1zM31 7h1v1h-1zM39 6h1v1h-1z"/>
<path fill="#e2d276" d="M25 6h1v1h-1zM34 6h1v1h-1z"/>
<path fill="#fdb663" d="M25 9h1v1h-1z"/>
<path fill="#e5ce74" d="M25 10h1v1h-1z"/>
<path fill="#a7f79d" d="M25 11h1v1h-1z"/>
<path fill="#b3f296" d="M26 5h1v1h-1z"/>
<path fill="#f4c06a" d="M26 9h1v1h-1z"/>
<path fill="#8afeae" d="M26 11h1v1h-1z"/>
<path fill="#a3f99f" d="M27 5h1v1h-1z"/>
<path fill="#eaca70" d="M27 6h1v2h-1z"/>
<path fill="#e1d377" d="M27 8h1v1h-1z"/>
<path fill="#7affb8" d="M27 11h1v1h-1zM42 7h1v1h-1zM45 5h1v1h-1zM47 6h1v1h-1z"/>
<path fill="#b7f093" d="M28 5h1v1h-1z"/>
<path fill="#dcd67a" d="M28 6h1v1h-1z"/>
<path fill="#f3c16a" d="M28 7h1v1h-1zM30 6h1v1h-1z"/>
<path fill="#acf59a" d="M28 9h1v1h-1z"/>
<path fill="#90feab" d="M28 10h1v1h-1z"/>
<path fill="#a1faa1" d="M29 5h1v1h-1zM30 9h1v1h-1zM32 8h1v1h-1z"/>
<path fill="#e6ce73" d="M29 7h1v1h-1z"/>
<path fill="#d4dd80" d="M29 8h1v1h-1z"/>
<path fill="#a8f79d" d="M29 9h1v1h-1zM37 5h1v1h-1z"/>
<path fill="#88ffaf" d="M29 11h1v1h-1zM44 6h1v1h-1z"/>
<path fill="#aaf69b" d="M30 5h1v1h-1z"/>
<path fill="#65fcc3" d="M30 11h1v1h-1z"/>
<path fill="#bbee91" d="M31 8h1v1h-1z"/>
<path fill="#e9cb72" d="M32 6h1v1h-1z"/>
<path fill="#5df9c6" d="M32 11h1v1h-1z"/>
<path fill="#abf69b" d="M33 5h1v1h-1z"/>
<path fill="#dad87c" d="M33 6h1v1h-1z"/>
<path fill="#9bfba5" d="M33 8h1v1h-1z"/>
<path fill="#e3d176" d="M34 7h1v1h-1z"/>
<path fill="#9cfba4" d="M34 8h1v1h-1zM40 5h1v1h-1z"/>
<path fill="#a9f79c" d="M35 5h1v1h-1z"/>
<path fill="#d3de81" d="M35 6h1v1h-1z"/>
<path fill="#d7da7d" d="M35 7h1v1h-1z"/>
<path fill="#83ffb2" d="M35 8h1v1h-1zM36 8h1v1h-1zM38 8h1v1h-1z"/>
<path fill="#55f6ca" d="M36 4h1v1h-1zM47 5h1v1h-1z"/>
<path fill="#98fca6" d="M36 5h1v1h-1zM41 7h1v1h-1z"/>
<path fill="#d9d97c" d="M36 7h1v1h-1z"/>
<path fill="#d5dd7f" d="M37 6h1v1h-1z"/>
<path fill="#b8ef92" d="M38 7h1v1h-1z"/>
<path fill="#92fdaa" d="M39 5h1v1h-1z"/>
<path fill="#b5f195" d="M39 7h1v1h-1z"/>
<path fill="#c0eb8d" d="M41 6h1v1h-1z"/>
<path fill="#80ffb4" d="M42 5h1v1h-1z"/>
<path fill="#aef599" d="M42 6h1v1h-1z"/>
<path fill="#91feaa" d="M43 6h1v1h-1z"/>
<path fill="#7bffb7" d="M43 7h1v1h-1z"/>
<path fill="#87ffb0" d="M48 6h1v1h-1z"/>
<path fill="#63fbc3" d="M49 7h1v1h-1z"/>
<path fill="#4bf2cf" d="M51 6h1v1h-1z"/>
</g></g></g>
<g clip-path="url(#c6)" stroke="#6c6c6c" fill="#6c6c6c">
<path d="M1266.0 960.0V926.1M1306.1 946.2V890.4M1346.1 943.1V875.3M1386.2 942.5V858.4M1426.2 924.3V858.4M1466.2 917.3V851.7M1506.2 928.0V826.8M1546.3 905.9V839.3M1586.3 905.2V828.2M1626.4 901.2V821.5M1666.4 917.3V837.6M1706.4 917.6V851.2M1746.5 918.0V858.6M1786.5 919.0V863.0M1826.5 915.5V870.7M1866.6 919.4V877.0M1906.6 920.1V877.0M1946.6 922.6V883.1M1986.7 915.1V885.8M2026.7 914.8V891.0M2066.7 913.8V893.3" fill="none" stroke-width="4.0"/>
<path d="M1255.5 960.0h21.2M1255.5 926.1h21.2M1295.5 946.2h21.2M1295.5 890.4h21.2M1335.5 943.1h21.2M1335.5 875.3h21.2M1375.6 942.5h21.2M1375.6 858.4h21.2M1415.6 924.3h21.2M1415.6 858.4h21.2M1455.6 917.3h21.2M1455.6 851.7h21.2M1495.7 928.0h21.2M1495.7 826.8h21.2M1535.7 905.9h21.2M1535.7 839.3h21.2M1575.7 905.2h21.2M1575.7 828.2h21.2M1615.8 901.2h21.2M1615.8 821.5h21.2M1655.8 917.3h21.2M1655.8 837.6h21.2M1695.8 917.6h21.2M1695.8 851.2h21.2M1735.9 918.0h21.2M1735.9 858.6h21.2M1775.9 919.0h21.2M1775.9 863.0h21.2M1815.9 915.5h21.2M1815.9 870.7h21.2M1856.0 919.4h21.2M1856.0 877.0h21.2M1896.0 920.1h21.2M1896.0 877.0h21.2M1936.0 922.6h21.2M1936.0 883.1h21.2M1976.1 915.1h21.2M1976.1 885.8h21.2M2016.1 914.8h21.2M2016.1 891.0h21.2M2056.1 913.8h21.2M2056.1 893.3h21.2" fill="none" stroke-width="2.2" />
<polyline points="1266.0,942.5 1306.1,918.6 1346.1,909.8 1386.2,900.4 1426.2,891.4 1466.2,884.7 1506.2,878.0 1546.3,873.2 1586.3,867.1 1626.4,861.1 1666.4,877.0 1706.4,884.5 1746.5,888.5 1786.5,891.6 1826.5,894.1 1866.6,898.7 1906.6,898.7 1946.6,902.3 1986.7,901.0 2026.7,902.9 2066.7,903.6" fill="none" stroke-width="3.4" stroke-linejoin="round"/>
<rect x="1258.6" y="935.1" width="14.8" height="14.8" stroke="none"/>
<rect x="1298.7" y="911.2" width="14.8" height="14.8" stroke="none"/>
<rect x="1338.7" y="902.4" width="14.8" height="14.8" stroke="none"/>
<rect x="1378.8" y="893.0" width="14.8" height="14.8" stroke="none"/>
<rect x="1418.8" y="884.0" width="14.8" height="14.8" stroke="none"/>
<rect x="1458.8" y="877.3" width="14.8" height="14.8" stroke="none"/>
<rect x="1498.8" y="870.6" width="14.8" height="14.8" stroke="none"/>
<rect x="1538.9" y="865.8" width="14.8" height="14.8" stroke="none"/>
<rect x="1578.9" y="859.7" width="14.8" height="14.8" stroke="none"/>
<rect x="1619.0" y="853.7" width="14.8" height="14.8" stroke="none"/>
<rect x="1659.0" y="869.6" width="14.8" height="14.8" stroke="none"/>
<rect x="1699.0" y="877.1" width="14.8" height="14.8" stroke="none"/>
<rect x="1739.1" y="881.1" width="14.8" height="14.8" stroke="none"/>
<rect x="1779.1" y="884.2" width="14.8" height="14.8" stroke="none"/>
<rect x="1819.1" y="886.7" width="14.8" height="14.8" stroke="none"/>
<rect x="1859.2" y="891.3" width="14.8" height="14.8" stroke="none"/>
<rect x="1899.2" y="891.3" width="14.8" height="14.8" stroke="none"/>
<rect x="1939.2" y="894.9" width="14.8" height="14.8" stroke="none"/>
<rect x="1979.2" y="893.6" width="14.8" height="14.8" stroke="none"/>
<rect x="2019.3" y="895.5" width="14.8" height="14.8" stroke="none"/>
<rect x="2059.3" y="896.2" width="14.8" height="14.8" stroke="none"/>
</g>
</g>
<g id="panel7">
<clipPath id="c7"><rect x="1206.00" y="1025.50" width="960.80" height="325.70"/></clipPath>
<g clip-path="url(#c7)"><g><g transform="translate(1206.000 1340.287) scale(16.0133 -10.4929)" shape-rendering="crispEdges">
<path fill="#5345fd" d="M1 1h1v2h-1zM2 8h1v1h-1zM2 11h1v1h-1zM3 7h1v1h-1zM3 9h1v2h-1zM4 11h1v1h-1zM4 13h1v1h-1zM4 16h1v1h-1zM5 13h1v1h-1zM5 21h1v1h-1zM6 18h1v1h-1zM6 27h1v1h-1zM7 23h1v1h-1zM14 27h1v1h-1zM14 29h1v1h-1zM26 25h1v1h-1zM27 25h1v1h-1zM28 24h1v1h-1zM28 28h1v1h-1zM29 24h1v1h-1zM29 27h1v2h-1zM30 0h1v1h-1zM30 26h1v2h-1zM31 23h1v1h-1zM31 27h1v1h-1zM32 1h1v1h-1zM32 27h1v2h-1zM33 24h1v1h-1zM33 29h1v1h-1zM35 21h1v1h-1zM36 20h1v1h-1zM37 1h1v1h-1zM37 18h1v1h-1zM38 23h1v1h-1zM41 19h1v1h-1zM41 21h1v2h-1zM42 3h1v1h-1zM43 19h1v1h-1zM43 22h1v1h-1zM43 25h1v1h-1zM44 3h1v1h-1zM44 15h1v1h-1zM44 21h1v1h-1zM44 23h1v1h-1zM44 29h1v1h-1zM45 4h1v1h-1zM45 18h1v1h-1zM45 20h1v1h-1zM46 7h1v1h-1zM46 18h1v2h-1zM46 28h1v2h-1zM47 5h1v1h-1zM47 7h1v1h-1zM47 14h1v1h-1zM47 19h1v1h-1zM48 5h1v1h-1zM48 15h1v1h-1zM48 17h1v1h-1zM49 8h1v1h-1zM49 15h1v1h-1zM49 20h1v1h-1zM50 11h1v1h-1zM50 18h1v1h-1zM50 20h1v1h-1zM51 14h1v3h-1zM51 20h1v1h-1zM52 15h1v1h-1z"/>
<path fill="#1997f2" d="M1 3h1v1h-1zM4 8h1v1h-1zM5 17h1v1h-1zM6 17h1v1h-1zM6 22h1v1h-1zM7 16h1v1h-1zM8 27h1v1h-1zM9 28h1v1h-1zM16 28h1v1h-1zM17 27h1v1h-1zM19 28h1v1h-1zM24 23h1v1h-1zM25 25h1v1h-1zM26 23h1v1h-1zM27 24h1v1h-1zM28 20h1v1h-1zM29 25h1v1h-1zM30 19h1v1h-1zM31 22h1v1h-1zM32 19h1v1h-1zM32 23h1v1h-1zM32 26h1v1h-1zM32 29h1v1h-1zM33 1h1v1h-1zM33 19h1v2h-1zM33 26h1v1h-1zM36 1h1v1h-1zM36 24h1v1h-1zM36 27h1v1h-1zM37 2h1v1h-1zM38 17h1v1h-1zM38 19h1v1h-1zM38 24h1v1h-1zM38 28h1v1h-1zM39 17h1v1h-1zM39 22h1v1h-1zM40 4h1v1h-1zM40 21h1v2h-1zM41 3h1v2h-1zM41 6h1v1h-1zM42 19h1v2h-1zM43 8h1v1h-1zM43 16h1v1h-1zM43 21h1v1h-1zM43 29h1v1h-1zM44 7h1v1h-1zM44 17h1v1h-1zM45 22h1v1h-1zM45 24h1v1h-1zM46 5h1v1h-1zM47 6h1v1h-1zM47 11h1v1h-1zM47 15h1v1h-1zM47 20h1v1h-1zM48 20h1v2h-1zM49 10h1v1h-1zM49 14h1v1h-1zM51 19h1v1h-1z"/>
<path fill="#8000ff" d="M1 10h1v1h-1zM2 7h1v1h-1zM2 10h1v1h-1zM2 13h1v1h-1zM2 16h1v1h-1zM2 20h1v1h-1zM3 8h1v1h-1zM3 13h1v1h-1zM4 9h1v1h-1zM4 12h1v1h-1zM5 15h1v1h-1zM5 18h1v2h-1zM5 28h1v1h-1zM6 23h1v1h-1zM6 25h1v1h-1zM7 26h1v1h-1zM7 28h1v2h-1zM8 26h1v1h-1zM9 29h1v1h-1zM15 26h1v1h-1zM22 29h1v1h-1zM23 27h1v1h-1zM24 29h1v1h-1zM25 26h1v1h-1zM27 22h1v1h-1zM29 0h1v1h-1zM30 28h1v2h-1zM31 0h1v1h-1zM31 25h1v1h-1zM32 21h1v1h-1zM36 26h1v1h-1zM36 28h1v1h-1zM37 27h1v1h-1zM38 1h1v1h-1zM39 1h1v1h-1zM39 27h1v2h-1zM40 1h1v3h-1zM40 26h1v2h-1zM40 29h1v1h-1zM41 23h1v1h-1zM41 29h1v1h-1zM42 1h1v1h-1zM42 16h1v1h-1zM42 21h1v2h-1zM42 24h1v1h-1zM42 27h1v1h-1zM43 3h1v1h-1zM43 24h1v1h-1zM43 26h1v1h-1zM44 4h1v2h-1zM44 19h1v1h-1zM44 25h1v1h-1zM45 3h1v1h-1zM45 5h1v1h-1zM45 7h1v1h-1zM45 25h1v3h-1zM45 29h1v1h-1zM46 3h1v1h-1zM46 24h1v4h-1zM47 4h1v1h-1zM47 16h1v2h-1zM47 27h1v2h-1zM48 23h1v1h-1zM48 25h1v1h-1zM49 18h1v2h-1zM49 24h1v2h-1zM49 29h1v1h-1zM50 4h1v1h-1zM50 7h1v1h-1zM50 24h1v2h-1zM50 29h1v1h-1zM51 8h1v2h-1zM51 12h1v1h-1zM51 18h1v1h-1zM51 23h1v1h-1zM51 25h1v2h-1zM52 5h1v1h-1zM52 9h1v1h-1zM52 11h1v2h-1zM52 14h1v1h-1zM52 23h1v1h-1zM52 26h1v3h-1zM53 12h1v2h-1zM53 16h1v1h-1zM53 18h1v1h-1zM53 27h1v2h-1zM54 18h1v1h-1zM54 21h1v1h-1zM54 23h1v4h-1z"/>
<path fill="#7bffb7" d="M2 0h1v1h-1zM15 20h1v1h-1zM21 15h1v1h-1zM23 16h1v1h-1zM29 11h1v1h-1zM32 9h1v1h-1zM33 4h1v1h-1zM33 7h1v1h-1z"/>
<path fill="#9ffaa2" d="M2 1h1v1h-1z"/>
<path fill="#9bfba4" d="M2 2h1v1h-1zM27 9h1v1h-1zM29 2h1v1h-1z"/>
<path fill="#8bfeae" d="M2 3h1v1h-1zM19 16h1v1h-1zM30 5h1v1h-1zM32 5h1v1h-1zM33 8h1v1h-1z"/>
<path fill="#4bf2cf" d="M2 4h1v1h-1zM3 5h1v1h-1zM4 6h1v1h-1zM6 9h1v2h-1zM9 14h1v1h-1zM13 22h1v1h-1zM24 18h1v1h-1zM28 16h1v1h-1zM35 11h1v1h-1zM37 10h1v1h-1z"/>
<path fill="#19cee3" d="M2 5h1v1h-1zM7 20h1v1h-1zM13 28h1v1h-1zM15 28h1v1h-1zM20 24h1v1h-1zM20 27h1v1h-1zM27 18h1v1h-1zM28 0h1v1h-1zM30 22h1v1h-1zM31 17h1v1h-1zM33 17h1v1h-1zM34 14h1v1h-1zM36 14h1v1h-1zM38 18h1v1h-1zM40 12h1v1h-1zM40 15h1v1h-1zM42 10h1v1h-1zM44 11h1v3h-1zM46 12h1v1h-1z"/>
<path fill="#2784f6" d="M2 6h1v1h-1zM4 10h1v1h-1zM5 11h1v1h-1zM6 16h1v1h-1zM8 20h1v1h-1zM8 24h1v1h-1zM10 25h1v1h-1zM22 28h1v1h-1zM23 26h1v1h-1zM23 28h1v1h-1zM24 25h1v1h-1zM26 24h1v1h-1zM26 26h1v1h-1zM26 28h1v1h-1zM27 0h1v1h-1zM27 26h1v1h-1zM27 28h1v1h-1zM28 27h1v1h-1zM29 26h1v1h-1zM30 24h1v2h-1zM31 29h1v1h-1zM32 25h1v1h-1zM33 18h1v1h-1zM33 23h1v1h-1zM33 25h1v1h-1zM33 28h1v1h-1zM34 19h1v1h-1zM34 22h1v1h-1zM35 22h1v1h-1zM35 28h1v1h-1zM36 19h1v1h-1zM36 25h1v1h-1zM37 24h1v1h-1zM38 16h1v1h-1zM38 21h1v1h-1zM38 29h1v1h-1zM39 2h1v1h-1zM39 24h1v1h-1zM40 20h1v1h-1zM40 23h1v1h-1zM40 25h1v1h-1zM41 17h1v1h-1zM41 24h1v3h-1zM42 17h1v2h-1zM44 16h1v1h-1zM44 27h1v1h-1zM45 15h1v1h-1zM46 14h1v1h-1zM46 16h1v1h-1zM46 20h1v1h-1zM47 12h1v1h-1zM47 22h1v1h-1zM48 8h1v1h-1zM48 11h1v1h-1zM48 19h1v1h-1zM48 24h1v1h-1zM48 26h1v2h-1zM49 12h1v2h-1zM49 16h1v1h-1zM49 23h1v1h-1zM50 8h1v1h-1zM50 10h1v1h-1zM50 15h1v2h-1zM51 10h1v1h-1zM52 18h1v1h-1z"/>
<path fill="#3a6bf9" d="M2 9h1v1h-1zM3 0h1v1h-1zM5 14h1v1h-1zM5 16h1v1h-1zM7 19h1v1h-1zM9 26h1v1h-1zM10 29h1v1h-1zM20 28h1v1h-1zM22 27h1v1h-1zM27 29h1v1h-1zM28 25h1v1h-1zM29 20h1v1h-1zM31 20h1v1h-1zM32 24h1v1h-1zM33 22h1v1h-1zM38 26h1v2h-1zM39 3h1v1h-1zM39 20h1v1h-1zM40 19h1v1h-1zM43 5h1v1h-1zM43 20h1v1h-1zM43 27h1v1h-1zM44 20h1v1h-1zM44 24h1v1h-1zM45 9h1v1h-1zM45 19h1v1h-1zM46 17h1v1h-1zM47 13h1v1h-1zM47 18h1v1h-1zM47 24h1v1h-1zM49 21h1v1h-1zM49 26h1v1h-1zM50 12h1v1h-1zM50 14h1v1h-1zM51 13h1v1h-1z"/>
<path fill="#abf69a" d="M3 1h1v1h-1zM14 14h1v1h-1zM15 14h1v1h-1z"/>
<path fill="#a5f89e" d="M3 2h1v1h-1zM28 2h1v1h-1z"/>
<path fill="#81ffb4" d="M3 3h1v1h-1zM18 0h1v1h-1zM20 16h1v1h-1zM27 12h1v1h-1z"/>
<path fill="#4ef3ce" d="M3 4h1v1h-1zM15 23h1v1h-1zM25 17h1v2h-1zM36 5h1v1h-1zM36 12h1v1h-1zM41 10h1v1h-1z"/>
<path fill="#0da5ef" d="M3 6h1v1h-1zM6 19h1v2h-1zM7 27h1v1h-1zM10 24h1v1h-1zM10 26h1v2h-1zM11 28h1v1h-1zM15 27h1v1h-1zM15 29h1v1h-1zM20 29h1v1h-1zM22 25h1v1h-1zM25 24h1v1h-1zM25 27h1v1h-1zM27 21h1v1h-1zM27 23h1v1h-1zM34 17h1v1h-1zM34 24h1v1h-1zM34 28h1v1h-1zM35 2h1v1h-1zM35 19h1v2h-1zM35 23h1v1h-1zM35 27h1v1h-1zM36 18h1v1h-1zM36 21h1v1h-1zM38 25h1v1h-1zM40 24h1v1h-1zM41 20h1v1h-1zM42 6h1v1h-1zM42 29h1v1h-1zM43 23h1v1h-1zM44 6h1v1h-1zM44 18h1v1h-1zM46 6h1v1h-1zM46 21h1v2h-1zM47 25h1v1h-1zM48 7h1v1h-1zM48 18h1v1h-1zM49 11h1v1h-1zM49 17h1v1h-1zM50 26h1v1h-1zM51 11h1v1h-1zM53 24h1v1h-1z"/>
<path fill="#84ffb2" d="M4 0h1v1h-1z"/>
<path fill="#b0f498" d="M4 1h1v1h-1zM14 0h1v1h-1z"/>
<path fill="#a8f79d" d="M4 2h1v1h-1zM10 13h1v1h-1zM19 14h1v1h-1zM30 7h1v1h-1z"/>
<path fill="#acf69a" d="M4 3h1v1h-1z"/>
<path fill="#73febb" d="M4 4h1v1h-1zM12 20h1v1h-1zM14 21h1v1h-1zM18 16h1v1h-1zM21 17h1v1h-1zM24 14h1v1h-1zM32 3h1v1h-1z"/>
<path fill="#70febd" d="M4 5h1v1h-1zM25 13h1v1h-1zM34 5h1v1h-1zM35 5h1v1h-1z"/>
<path fill="#04b0ed" d="M4 7h1v1h-1zM6 15h1v1h-1zM7 15h1v1h-1zM8 29h1v1h-1zM9 27h1v1h-1zM11 27h1v1h-1zM18 28h1v1h-1zM19 26h1v1h-1zM19 29h1v1h-1zM21 25h1v1h-1zM23 24h1v2h-1zM24 28h1v1h-1zM26 29h1v1h-1zM28 17h1v1h-1zM28 26h1v1h-1zM29 18h1v1h-1zM29 21h1v1h-1zM29 23h1v1h-1zM29 29h1v1h-1zM30 23h1v1h-1zM31 28h1v1h-1zM34 23h1v1h-1zM34 25h1v1h-1zM34 27h1v1h-1zM34 29h1v1h-1zM35 26h1v1h-1zM36 16h1v1h-1zM37 25h1v1h-1zM37 28h1v1h-1zM38 20h1v1h-1zM39 19h1v1h-1zM39 25h1v1h-1zM41 5h1v1h-1zM41 14h1v1h-1zM41 18h1v1h-1zM41 28h1v1h-1zM42 4h1v1h-1zM42 25h1v2h-1zM43 17h1v1h-1zM44 10h1v1h-1zM44 22h1v1h-1zM45 6h1v1h-1zM45 10h1v1h-1zM45 14h1v1h-1zM45 23h1v1h-1zM48 4h1v1h-1zM48 12h1v1h-1zM48 16h1v1h-1zM49 22h1v1h-1zM50 19h1v1h-1z"/>
<path fill="#91feaa" d="M5 0h1v1h-1zM8 9h1v1h-1z"/>
<path fill="#e5ce74" d="M5 1h1v1h-1z"/>
<path fill="#eaca71" d="M5 2h1v1h-1zM14 10h1v1h-1z"/>
<path fill="#d2df81" d="M5 3h1v1h-1zM12 13h1v1h-1zM14 12h1v1h-1z"/>
<path fill="#aaf69c" d="M5 4h1v1h-1zM17 12h1v1h-1z"/>
<path fill="#83ffb2" d="M5 5h1v1h-1zM15 17h1v1h-1z"/>
<path fill="#78ffb8" d="M5 6h1v1h-1zM27 14h1v1h-1z"/>
<path fill="#57f7c9" d="M5 7h1v1h-1zM11 19h1v1h-1zM15 22h1v1h-1zM16 22h1v1h-1zM16 26h1v1h-1zM18 21h1v1h-1zM29 13h1v1h-1zM31 1h1v1h-1zM31 13h1v1h-1zM33 14h1v1h-1zM34 12h1v1h-1zM37 9h1v1h-1z"/>
<path fill="#5ffac5" d="M5 8h1v1h-1z"/>
<path fill="#55f6ca" d="M5 9h1v1h-1zM9 16h1v1h-1zM10 16h1v1h-1zM10 18h1v1h-1zM22 18h1v1h-1zM24 17h1v1h-1zM33 9h1v1h-1zM33 11h1v1h-1zM37 6h1v1h-1zM38 8h1v1h-1z"/>
<path fill="#45efd2" d="M5 10h1v1h-1zM7 14h1v1h-1zM8 15h1v1h-1zM11 20h1v1h-1zM12 22h1v1h-1zM15 25h1v1h-1zM17 28h1v1h-1zM28 18h1v1h-1zM29 15h1v1h-1zM40 8h1v2h-1z"/>
<path fill="#05baea" d="M5 12h1v1h-1zM6 13h1v2h-1zM6 21h1v1h-1zM7 21h1v1h-1zM8 23h1v1h-1zM12 27h1v1h-1zM19 25h1v1h-1zM20 23h1v1h-1zM21 27h1v1h-1zM21 29h1v1h-1zM23 29h1v1h-1zM24 24h1v1h-1zM25 20h1v1h-1zM26 22h1v1h-1zM26 27h1v1h-1zM28 21h1v1h-1zM31 18h1v2h-1zM31 21h1v1h-1zM32 18h1v1h-1zM32 20h1v1h-1zM32 22h1v1h-1zM34 1h1v1h-1zM34 18h1v1h-1zM34 21h1v1h-1zM35 1h1v1h-1zM35 18h1v1h-1zM35 24h1v1h-1zM37 21h1v1h-1zM37 26h1v1h-1zM38 13h1v1h-1zM39 18h1v1h-1zM39 26h1v1h-1zM42 13h1v1h-1zM43 18h1v1h-1zM44 9h1v1h-1zM46 13h1v1h-1zM48 13h1v1h-1zM48 22h1v1h-1zM49 27h1v1h-1zM50 17h1v1h-1z"/>
<path fill="#29dbde" d="M5 23h1v1h-1zM10 21h1v1h-1zM10 28h1v1h-1zM13 26h1v1h-1zM14 24h1v1h-1zM23 20h1v2h-1zM25 28h1v1h-1zM29 16h1v1h-1zM37 12h1v1h-1zM37 17h1v1h-1zM38 3h1v1h-1zM39 4h1v1h-1zM42 7h1v1h-1zM43 12h1v1h-1z"/>
<path fill="#bded8f" d="M6 0h1v1h-1zM18 13h1v1h-1zM19 10h1v1h-1zM19 12h1v1h-1zM27 5h1v1h-1z"/>
<path fill="#ffa759" d="M6 1h1v1h-1z"/>
<path fill="#ff8545" d="M6 2h1v1h-1z"/>
<path fill="#fcb864" d="M6 3h1v1h-1z"/>
<path fill="#d1df82" d="M6 4h1v1h-1zM14 11h1v1h-1z"/>
<path fill="#a4f99f" d="M6 5h1v1h-1zM22 11h1v1h-1zM26 10h1v1h-1z"/>
<path fill="#a1faa1" d="M6 6h1v1h-1zM17 13h1v1h-1zM18 14h1v1h-1zM21 12h1v1h-1zM26 1h1v1h-1z"/>
<path fill="#85ffb1" d="M6 7h1v1h-1zM9 12h1v1h-1zM18 17h1v1h-1zM26 12h1v1h-1zM29 10h1v1h-1z"/>
<path fill="#6afdc0" d="M6 8h1v1h-1zM15 18h1v1h-1zM16 18h1v1h-1zM16 20h1v1h-1zM19 17h1v1h-1z"/>
<path fill="#61fbc4" d="M6 11h1v1h-1zM7 13h1v1h-1zM9 15h1v1h-1zM15 21h1v1h-1zM16 19h1v1h-1zM18 19h1v1h-1zM32 12h1v1h-1zM33 3h1v1h-1z"/>
<path fill="#52f5cc" d="M6 12h1v1h-1zM7 11h1v1h-1zM9 17h1v1h-1zM16 21h1v1h-1zM23 17h1v1h-1zM27 16h1v1h-1zM28 14h1v1h-1zM33 12h1v2h-1zM34 7h1v1h-1zM38 6h1v1h-1z"/>
<path fill="#cce385" d="M7 0h1v1h-1zM13 13h1v1h-1z"/>
<path fill="#ff4423" d="M7 1h1v1h-1z"/>
<path fill="#ff4221" d="M7 2h1v1h-1z"/>
<path fill="#ff6534" d="M7 3h1v1h-1z"/>
<path fill="#ffa85a" d="M7 4h1v1h-1zM12 9h1v1h-1z"/>
<path fill="#e7cd73" d="M7 5h1v1h-1zM18 10h1v1h-1zM25 4h1v1h-1z"/>
<path fill="#b4f295" d="M7 6h1v1h-1zM24 9h1v1h-1z"/>
<path fill="#8dfeac" d="M7 7h1v1h-1zM13 18h1v1h-1zM24 11h1v1h-1zM28 7h1v1h-1z"/>
<path fill="#86ffb0" d="M7 8h1v1h-1zM8 10h1v1h-1zM12 16h1v1h-1zM13 16h1v1h-1zM18 15h1v1h-1zM26 13h1v1h-1z"/>
<path fill="#7cffb6" d="M7 9h1v1h-1zM20 15h1v1h-1zM27 13h1v1h-1zM30 12h1v1h-1z"/>
<path fill="#7affb8" d="M7 10h1v1h-1zM8 11h1v1h-1zM17 17h1v1h-1zM22 15h1v1h-1zM27 11h1v1h-1z"/>
<path fill="#67fcc2" d="M7 12h1v1h-1zM17 20h1v1h-1zM19 18h1v1h-1zM20 19h1v1h-1zM21 18h1v1h-1zM30 11h1v1h-1zM30 13h1v1h-1zM31 12h1v1h-1zM32 10h1v1h-1zM38 7h1v1h-1z"/>
<path fill="#39e7d7" d="M7 17h1v2h-1zM8 22h1v1h-1zM11 24h1v1h-1zM17 24h1v1h-1zM21 21h1v1h-1zM21 28h1v1h-1zM24 22h1v1h-1zM26 18h1v1h-1zM26 21h1v1h-1zM28 19h1v1h-1zM29 17h1v1h-1zM31 15h1v1h-1zM32 14h1v1h-1zM35 12h1v1h-1zM37 13h1v1h-1zM38 4h1v1h-1zM38 10h1v1h-1zM39 6h1v1h-1z"/>
<path fill="#13c8e5" d="M7 24h1v1h-1zM8 19h1v1h-1zM8 21h1v1h-1zM11 29h1v1h-1zM13 27h1v1h-1zM13 29h1v1h-1zM16 29h1v1h-1zM18 26h1v1h-1zM19 27h1v1h-1zM20 25h1v2h-1zM21 26h1v1h-1zM26 0h1v1h-1zM27 27h1v1h-1zM29 22h1v1h-1zM31 24h1v1h-1zM32 16h1v1h-1zM35 25h1v1h-1zM36 2h1v1h-1zM37 22h1v1h-1zM38 2h1v1h-1zM38 15h1v1h-1zM40 17h1v1h-1zM41 16h1v1h-1zM42 9h1v1h-1zM43 7h1v1h-1zM45 11h1v1h-1zM45 16h1v2h-1zM48 9h1v2h-1zM49 9h1v1h-1z"/>
<path fill="#31e2da" d="M7 25h1v1h-1zM9 19h1v1h-1zM9 21h1v1h-1zM10 22h1v1h-1zM11 22h1v2h-1zM12 25h1v1h-1zM16 24h1v1h-1zM16 27h1v1h-1zM21 0h1v1h-1zM22 21h1v2h-1zM24 0h1v1h-1zM24 26h1v1h-1zM25 19h1v1h-1zM26 19h1v1h-1zM30 18h1v1h-1zM35 15h1v1h-1zM38 5h1v1h-1zM38 12h1v1h-1zM39 5h1v1h-1zM39 9h1v1h-1zM39 12h1v2h-1zM40 13h1v1h-1zM41 12h1v1h-1zM42 12h1v1h-1z"/>
<path fill="#cde284" d="M8 0h1v1h-1zM11 12h1v1h-1z"/>
<path fill="#ff1d0e" d="M8 1h1v1h-1z"/>
<path fill="#ff0f07" d="M8 2h1v1h-1zM11 3h1v1h-1z"/>
<path fill="#ff5129" d="M8 3h1v1h-1z"/>
<path fill="#ff743b" d="M8 4h1v1h-1zM14 7h1v1h-1z"/>
<path fill="#ffad5d" d="M8 5h1v1h-1z"/>
<path fill="#d4de80" d="M8 6h1v1h-1zM16 11h1v1h-1zM17 11h1v1h-1z"/>
<path fill="#bfec8e" d="M8 7h1v1h-1z"/>
<path fill="#b2f396" d="M8 8h1v1h-1zM26 9h1v1h-1z"/>
<path fill="#6bfdbf" d="M8 12h1v1h-1zM22 16h1v1h-1zM35 7h1v1h-1z"/>
<path fill="#5bf9c7" d="M8 13h1v1h-1zM12 19h1v1h-1zM20 18h1v1h-1zM29 14h1v1h-1zM35 10h1v1h-1zM36 9h1v1h-1z"/>
<path fill="#2ddfdc" d="M8 14h1v1h-1zM12 24h1v1h-1zM12 28h1v1h-1zM13 24h1v1h-1zM14 28h1v1h-1zM16 23h1v1h-1zM19 0h1v1h-1zM19 24h1v1h-1zM21 23h1v2h-1zM22 24h1v1h-1zM24 20h1v1h-1zM25 22h1v1h-1zM27 17h1v1h-1zM30 15h1v2h-1zM35 3h1v1h-1zM37 3h1v1h-1zM39 10h1v1h-1zM40 16h1v1h-1zM41 11h1v1h-1zM43 13h1v1h-1z"/>
<path fill="#42edd3" d="M8 16h1v1h-1zM10 23h1v1h-1zM12 23h1v1h-1zM12 29h1v1h-1zM17 21h1v2h-1zM23 0h1v1h-1zM35 4h1v1h-1zM35 13h1v1h-1zM36 13h1v1h-1zM43 11h1v1h-1z"/>
<path fill="#24d7df" d="M8 17h1v1h-1zM9 20h1v1h-1zM9 22h1v1h-1zM9 25h1v1h-1zM14 23h1v1h-1zM17 23h1v1h-1zM18 29h1v1h-1zM25 0h1v1h-1zM30 20h1v1h-1zM33 2h1v1h-1zM33 21h1v1h-1zM34 26h1v1h-1zM35 14h1v1h-1zM36 17h1v1h-1zM39 15h1v1h-1zM40 6h1v1h-1zM40 11h1v1h-1zM41 13h1v1h-1zM43 14h1v1h-1zM46 10h1v1h-1zM47 8h1v1h-1z"/>
<path fill="#3ce9d6" d="M8 18h1v1h-1zM18 22h1v1h-1zM20 0h1v1h-1zM22 23h1v1h-1zM31 14h1v1h-1zM34 15h1v1h-1zM35 17h1v1h-1zM36 4h1v1h-1zM37 11h1v1h-1zM40 10h1v1h-1zM42 8h1v1h-1zM42 11h1v1h-1zM43 9h1v1h-1z"/>
<path fill="#0cc2e8" d="M8 25h1v1h-1zM14 25h1v1h-1zM17 26h1v1h-1zM17 29h1v1h-1zM18 24h1v1h-1zM18 27h1v1h-1zM22 20h1v1h-1zM22 26h1v1h-1zM24 27h1v1h-1zM26 20h1v1h-1zM28 23h1v1h-1zM30 17h1v1h-1zM33 27h1v1h-1zM36 22h1v1h-1zM37 16h1v1h-1zM37 19h1v2h-1zM37 23h1v1h-1zM38 14h1v1h-1zM38 22h1v1h-1zM39 21h1v1h-1zM40 18h1v1h-1zM41 15h1v1h-1zM42 5h1v1h-1zM42 14h1v2h-1zM42 28h1v1h-1zM43 6h1v1h-1zM44 8h1v1h-1zM44 14h1v1h-1zM45 8h1v1h-1zM45 12h1v1h-1zM47 9h1v2h-1zM50 9h1v1h-1z"/>
<path fill="#ffa659" d="M9 0h1v1h-1z"/>
<path fill="#ff0201" d="M9 1h1v1h-1z"/>
<path fill="#ff0a05" d="M9 2h1v1h-1zM10 1h1v1h-1z"/>
<path fill="#ff0c06" d="M9 3h1v1h-1z"/>
<path fill="#ff4824" d="M9 4h1v1h-1z"/>
<path fill="#ff753c" d="M9 5h1v1h-1z"/>
<path fill="#ffab5c" d="M9 6h1v1h-1zM17 1h1v1h-1z"/>
<path fill="#ddd67a" d="M9 7h1v1h-1zM23 7h1v1h-1z"/>
<path fill="#d0e083" d="M9 8h1v1h-1zM11 0h1v1h-1zM20 9h1v1h-1z"/>
<path fill="#aef599" d="M9 9h1v1h-1zM10 12h1v1h-1zM12 0h1v1h-1zM29 5h1v1h-1z"/>
<path fill="#9dfba3" d="M9 10h1v1h-1zM25 11h1v1h-1zM27 7h1v1h-1z"/>
<path fill="#93fda9" d="M9 11h1v1h-1zM30 3h1v1h-1z"/>
<path fill="#76ffba" d="M9 13h1v1h-1zM35 9h1v1h-1z"/>
<path fill="#1fd3e1" d="M9 18h1v1h-1zM9 23h1v2h-1zM10 20h1v1h-1zM13 25h1v1h-1zM14 26h1v1h-1zM15 24h1v1h-1zM17 25h1v1h-1zM18 25h1v1h-1zM19 23h1v1h-1zM21 22h1v1h-1zM23 22h1v1h-1zM24 21h1v1h-1zM25 21h1v1h-1zM25 23h1v1h-1zM25 29h1v1h-1zM28 22h1v1h-1zM30 21h1v1h-1zM32 15h1v1h-1zM32 17h1v1h-1zM33 15h1v2h-1zM34 16h1v1h-1zM34 20h1v1h-1zM36 3h1v1h-1zM36 15h1v1h-1zM37 15h1v1h-1zM38 11h1v1h-1zM39 14h1v1h-1zM39 16h1v1h-1zM40 14h1v1h-1zM43 28h1v1h-1zM45 13h1v1h-1zM46 8h1v2h-1zM46 11h1v1h-1zM46 15h1v1h-1z"/>
<path fill="#f8bb66" d="M10 0h1v1h-1z"/>
<path fill="#ff0100" d="M10 2h1v1h-1z"/>
<path fill="#ff0000" d="M10 3h1v1h-1zM11 2h1v1h-1z"/>
<path fill="#ff0e07" d="M10 4h1v1h-1z"/>
<path fill="#ff4422" d="M10 5h1v1h-1z"/>
<path fill="#ff6a36" d="M10 6h1v1h-1z"/>
<path fill="#ffa658" d="M10 7h1v1h-1zM22 2h1v1h-1zM22 4h1v1h-1z"/>
<path fill="#ffb15f" d="M10 8h1v1h-1z"/>
<path fill="#efc56d" d="M10 9h1v1h-1z"/>
<path fill="#ded579" d="M10 10h1v1h-1zM12 12h1v1h-1zM16 10h1v1h-1z"/>
<path fill="#cbe486" d="M10 11h1v1h-1z"/>
<path fill="#8afeae" d="M10 14h1v1h-1z"/>
<path fill="#68fcc1" d="M10 15h1v1h-1zM11 21h1v1h-1zM21 19h1v1h-1zM36 10h1v1h-1zM37 8h1v1h-1zM39 8h1v1h-1z"/>
<path fill="#59f8c8" d="M10 17h1v1h-1zM13 21h1v1h-1zM14 22h1v1h-1zM18 23h1v1h-1zM19 20h1v1h-1zM22 19h1v1h-1zM23 18h1v1h-1zM28 13h1v1h-1zM32 2h1v1h-1z"/>
<path fill="#50f4cd" d="M10 19h1v1h-1zM12 21h1v1h-1zM13 20h1v1h-1zM19 21h1v1h-1zM21 20h1v1h-1zM23 19h1v1h-1zM26 16h1v2h-1zM27 20h1v1h-1zM30 14h1v1h-1zM32 13h1v1h-1zM36 8h1v1h-1zM38 9h1v1h-1zM39 7h1v1h-1zM41 9h1v1h-1z"/>
<path fill="#ff4724" d="M11 1h1v1h-1zM16 4h1v1h-1z"/>
<path fill="#ff0603" d="M11 4h1v1h-1z"/>
<path fill="#ff4020" d="M11 5h1v1h-1z"/>
<path fill="#ff703a" d="M11 6h1v1h-1z"/>
<path fill="#ff6f39" d="M11 7h1v1h-1z"/>
<path fill="#ff904b" d="M11 8h1v1h-1zM16 7h1v1h-1z"/>
<path fill="#ffb461" d="M11 9h1v1h-1z"/>
<path fill="#f9bb66" d="M11 10h1v1h-1z"/>
<path fill="#dad87c" d="M11 11h1v1h-1zM25 5h1v1h-1zM26 4h1v1h-1z"/>
<path fill="#b8f092" d="M11 13h1v1h-1zM15 13h1v1h-1z"/>
<path fill="#9bfba5" d="M11 14h1v1h-1zM15 0h1v1h-1zM30 4h1v1h-1z"/>
<path fill="#9cfba4" d="M11 15h1v1h-1zM27 1h1v1h-1zM28 9h1v1h-1z"/>
<path fill="#77ffb9" d="M11 16h1v1h-1zM14 20h1v1h-1zM19 19h1v1h-1zM23 13h1v1h-1zM24 12h1v1h-1zM31 10h1v1h-1zM32 7h1v1h-1z"/>
<path fill="#7fffb5" d="M11 17h1v1h-1zM14 18h1v1h-1zM16 0h1v1h-1zM16 15h1v1h-1zM23 14h1v1h-1zM26 14h1v1h-1zM31 3h1v1h-1zM31 8h1v1h-1zM32 8h1v1h-1z"/>
<path fill="#74feba" d="M11 18h1v1h-1zM21 16h1v1h-1zM27 15h1v1h-1zM32 6h1v1h-1z"/>
<path fill="#48f0d0" d="M11 25h1v1h-1zM22 0h1v1h-1zM24 19h1v1h-1zM31 16h1v1h-1zM34 13h1v1h-1z"/>
<path fill="#35e5d9" d="M11 26h1v1h-1zM12 26h1v1h-1zM27 19h1v1h-1zM29 19h1v1h-1zM34 2h1v1h-1zM35 16h1v1h-1zM37 4h1v2h-1zM37 14h1v1h-1zM39 11h1v1h-1zM40 5h1v1h-1zM40 7h1v1h-1zM43 10h1v1h-1zM43 15h1v1h-1z"/>
<path fill="#ff3f20" d="M12 1h1v1h-1z"/>
<path fill="#ff0b05" d="M12 2h1v1h-1z"/>
<path fill="#ff0d07" d="M12 3h1v1h-1z"/>
<path fill="#ff2613" d="M12 4h1v1h-1z"/>
<path fill="#ff3b1e" d="M12 5h1v1h-1zM15 4h1v1h-1z"/>
<path fill="#ff5d2f" d="M12 6h1v1h-1z"/>
<path fill="#ff6b37" d="M12 7h1v1h-1zM16 6h1v1h-1z"/>
<path fill="#ff934d" d="M12 8h1v1h-1z"/>
<path fill="#feb663" d="M12 10h1v1h-1zM18 1h1v1h-1zM21 6h1v1h-1z"/>
<path fill="#f3c16a" d="M12 11h1v1h-1zM18 8h1v1h-1zM20 8h1v1h-1z"/>
<path fill="#a6f89e" d="M12 14h1v1h-1zM23 11h1v1h-1z"/>
<path fill="#9efba3" d="M12 15h1v1h-1zM13 15h1v1h-1z"/>
<path fill="#89ffaf" d="M12 17h1v1h-1zM31 7h1v1h-1z"/>
<path fill="#6ffebd" d="M12 18h1v1h-1zM24 15h1v1h-1zM28 10h1v1h-1zM31 11h1v1h-1zM34 4h1v1h-1z"/>
<path fill="#9efaa2" d="M13 0h1v1h-1z"/>
<path fill="#ff3c1e" d="M13 1h1v1h-1z"/>
<path fill="#ff1209" d="M13 2h1v1h-1z"/>
<path fill="#ff1b0d" d="M13 3h1v1h-1z"/>
<path fill="#ff4f28" d="M13 4h1v1h-1z"/>
<path fill="#ff4925" d="M13 5h1v1h-1z"/>
<path fill="#ff6232" d="M13 6h1v1h-1z"/>
<path fill="#ff763d" d="M13 7h1v1h-1z"/>
<path fill="#fdb763" d="M13 8h1v1h-1z"/>
<path fill="#ffb160" d="M13 9h1v1h-1z"/>
<path fill="#eec66e" d="M13 10h1v1h-1z"/>
<path fill="#e6ce73" d="M13 11h1v1h-1z"/>
<path fill="#d3de81" d="M13 12h1v1h-1z"/>
<path fill="#c4e98a" d="M13 14h1v1h-1z"/>
<path fill="#90feab" d="M13 17h1v1h-1zM21 13h1v1h-1zM31 5h1v1h-1z"/>
<path fill="#72febc" d="M13 19h1v1h-1zM22 14h1v1h-1zM22 17h1v1h-1zM24 13h1v1h-1zM31 9h1v1h-1z"/>
<path fill="#3febd4" d="M13 23h1v1h-1zM16 25h1v1h-1zM19 22h1v1h-1zM20 20h1v3h-1zM23 23h1v1h-1zM33 10h1v1h-1zM41 7h1v2h-1z"/>
<path fill="#ff5e30" d="M14 1h1v1h-1zM18 2h1v1h-1z"/>
<path fill="#ff3219" d="M14 2h1v1h-1z"/>
<path fill="#ff2714" d="M14 3h1v1h-1z"/>
<path fill="#ff3a1d" d="M14 4h1v1h-1z"/>
<path fill="#ff4b26" d="M14 5h1v1h-1z"/>
<path fill="#ff6734" d="M14 6h1v1h-1z"/>
<path fill="#ff8947" d="M14 8h1v1h-1z"/>
<path fill="#ffb05f" d="M14 9h1v1h-1zM17 7h1v1h-1z"/>
<path fill="#c7e688" d="M14 13h1v1h-1z"/>
<path fill="#96fda7" d="M14 15h1v2h-1z"/>
<path fill="#87ffb0" d="M14 17h1v1h-1zM32 4h1v1h-1z"/>
<path fill="#8efeac" d="M14 19h1v1h-1z"/>
<path fill="#ff5b2e" d="M15 1h1v1h-1z"/>
<path fill="#ff4322" d="M15 2h1v1h-1z"/>
<path fill="#ff5028" d="M15 3h1v1h-1z"/>
<path fill="#ff5a2e" d="M15 5h1v1h-1z"/>
<path fill="#ff773d" d="M15 6h1v1h-1z"/>
<path fill="#ff8646" d="M15 7h1v1h-1z"/>
<path fill="#ffb462" d="M15 8h1v1h-1z"/>
<path fill="#ffb562" d="M15 9h1v1h-1z"/>
<path fill="#e6ce74" d="M15 10h1v1h-1z"/>
<path fill="#e3d176" d="M15 11h1v1h-1zM21 8h1v1h-1z"/>
<path fill="#c5e88a" d="M15 12h1v1h-1zM27 4h1v1h-1z"/>
<path fill="#a2f9a0" d="M15 15h1v1h-1z"/>
<path fill="#8cfead" d="M15 16h1v1h-1zM16 17h1v1h-1zM31 6h1v1h-1z"/>
<path fill="#82ffb3" d="M15 19h1v1h-1zM22 13h1v1h-1zM23 15h1v1h-1zM25 14h1v1h-1zM28 1h1v1h-1zM30 8h1v1h-1z"/>
<path fill="#ff9d53" d="M16 1h1v1h-1z"/>
<path fill="#ff4c27" d="M16 2h1v1h-1z"/>
<path fill="#ff572c" d="M16 3h1v1h-1z"/>
<path fill="#ff723a" d="M16 5h1v1h-1z"/>
<path fill="#ff9a51" d="M16 8h1v1h-1z"/>
<path fill="#e9cb71" d="M16 9h1v1h-1zM17 9h1v1h-1z"/>
<path fill="#bbee90" d="M16 12h1v1h-1z"/>
<path fill="#aff498" d="M16 13h1v1h-1zM27 2h1v1h-1zM28 3h1v1h-1z"/>
<path fill="#a6f89d" d="M16 14h1v1h-1z"/>
<path fill="#7dffb5" d="M16 16h1v1h-1zM17 18h1v1h-1zM20 17h1v1h-1zM28 11h1v1h-1zM29 1h1v1h-1zM30 9h1v1h-1z"/>
<path fill="#9afca5" d="M17 0h1v1h-1zM17 15h1v1h-1z"/>
<path fill="#ff4121" d="M17 2h1v1h-1z"/>
<path fill="#ff4e27" d="M17 3h1v1h-1z"/>
<path fill="#ff6735" d="M17 4h1v1h-1zM18 4h1v1h-1z"/>
<path fill="#ff582d" d="M17 5h1v1h-1z"/>
<path fill="#ff713a" d="M17 6h1v1h-1z"/>
<path fill="#e0d377" d="M17 8h1v1h-1z"/>
<path fill="#d6dc7f" d="M17 10h1v1h-1z"/>
<path fill="#a0faa1" d="M17 14h1v1h-1z"/>
<path fill="#94fda8" d="M17 16h1v1h-1zM26 11h1v1h-1z"/>
<path fill="#6dfdbe" d="M17 19h1v1h-1zM24 16h1v1h-1zM26 15h1v1h-1zM28 12h1v1h-1zM29 12h1v1h-1zM34 8h1v1h-1z"/>
<path fill="#ff6835" d="M18 3h1v1h-1z"/>
<path fill="#ff7c40" d="M18 5h1v1h-1z"/>
<path fill="#ff974f" d="M18 6h1v1h-1z"/>
<path fill="#ff9850" d="M18 7h1v1h-1z"/>
<path fill="#ebc970" d="M18 9h1v1h-1z"/>
<path fill="#c7e789" d="M18 11h1v1h-1z"/>
<path fill="#a8f79c" d="M18 12h1v1h-1zM20 12h1v1h-1z"/>
<path fill="#63fbc3" d="M18 18h1v1h-1zM18 20h1v1h-1zM25 16h1v1h-1zM31 2h1v1h-1zM33 5h1v1h-1zM34 9h1v1h-1zM34 11h1v1h-1zM36 7h1v1h-1zM36 11h1v1h-1z"/>
<path fill="#e2d276" d="M19 1h1v1h-1z"/>
<path fill="#ff7b3f" d="M19 2h1v1h-1z"/>
<path fill="#ff6e38" d="M19 3h1v1h-1z"/>
<path fill="#ff8243" d="M19 4h1v1h-1z"/>
<path fill="#ff8f4b" d="M19 5h1v1h-1z"/>
<path fill="#ff9c52" d="M19 6h1v1h-1z"/>
<path fill="#ff964f" d="M19 7h1v1h-1zM21 3h1v1h-1z"/>
<path fill="#e8cc72" d="M19 8h1v1h-1z"/>
<path fill="#e5cf74" d="M19 9h1v1h-1zM26 3h1v1h-1z"/>
<path fill="#c1eb8d" d="M19 11h1v1h-1zM20 10h1v1h-1z"/>
<path fill="#adf599" d="M19 13h1v1h-1z"/>
<path fill="#80ffb4" d="M19 15h1v1h-1zM28 8h1v1h-1zM33 6h1v1h-1zM34 6h1v1h-1z"/>
<path fill="#dbd77b" d="M20 1h1v1h-1z"/>
<path fill="#ff8645" d="M20 2h1v1h-1z"/>
<path fill="#ff914c" d="M20 3h1v1h-1z"/>
<path fill="#ffa155" d="M20 4h1v1h-1z"/>
<path fill="#ff944e" d="M20 5h1v1h-1z"/>
<path fill="#ffa055" d="M20 6h1v1h-1z"/>
<path fill="#f0c46c" d="M20 7h1v1h-1z"/>
<path fill="#a9f79c" d="M20 11h1v1h-1zM20 13h1v1h-1z"/>
<path fill="#92fdaa" d="M20 14h1v1h-1zM21 14h1v1h-1zM22 12h1v1h-1z"/>
<path fill="#dcd77b" d="M21 1h1v1h-1z"/>
<path fill="#ffa256" d="M21 2h1v1h-1z"/>
<path fill="#ff924c" d="M21 4h1v1h-1z"/>
<path fill="#ffa558" d="M21 5h1v1h-1z"/>
<path fill="#f2c26b" d="M21 7h1v1h-1z"/>
<path fill="#dad97c" d="M21 9h1v1h-1zM24 6h1v1h-1z"/>
<path fill="#bbee91" d="M21 10h1v1h-1z"/>
<path fill="#b5f194" d="M21 11h1v1h-1z"/>
<path fill="#cfe183" d="M22 1h1v1h-1z"/>
<path fill="#ff9951" d="M22 3h1v1h-1z"/>
<path fill="#ffaf5e" d="M22 5h1v2h-1zM24 5h1v1h-1z"/>
<path fill="#e1d277" d="M22 7h1v1h-1z"/>
<path fill="#d0e082" d="M22 8h1v1h-1z"/>
<path fill="#b3f396" d="M22 9h1v1h-1zM29 3h1v1h-1z"/>
<path fill="#baef91" d="M22 10h1v1h-1z"/>
<path fill="#b7f093" d="M23 1h1v1h-1zM24 10h1v1h-1z"/>
<path fill="#f7bd67" d="M23 2h1v1h-1z"/>
<path fill="#feb562" d="M23 3h1v1h-1zM23 5h1v1h-1z"/>
<path fill="#ecc86f" d="M23 4h1v1h-1z"/>
<path fill="#f1c36c" d="M23 6h1v1h-1z"/>
<path fill="#cee284" d="M23 8h1v1h-1z"/>
<path fill="#aaf69b" d="M23 9h1v2h-1zM25 10h1v1h-1z"/>
<path fill="#98fca6" d="M23 12h1v1h-1zM25 1h1v1h-1zM29 8h1v1h-1z"/>
<path fill="#a3f9a0" d="M24 1h1v1h-1zM31 4h1v1h-1z"/>
<path fill="#e9cb72" d="M24 2h1v1h-1z"/>
<path fill="#f8bc67" d="M24 3h1v1h-1z"/>
<path fill="#f1c36b" d="M24 4h1v1h-1z"/>
<path fill="#c4e98b" d="M24 7h1v1h-1z"/>
<path fill="#cee184" d="M24 8h1v1h-1zM25 7h1v1h-1z"/>
<path fill="#d9d97c" d="M25 2h1v1h-1z"/>
<path fill="#dcd77a" d="M25 3h1v1h-1z"/>
<path fill="#dfd478" d="M25 6h1v1h-1z"/>
<path fill="#b9ef91" d="M25 8h1v1h-1zM28 5h1v1h-1z"/>
<path fill="#b5f195" d="M25 9h1v1h-1zM28 4h1v1h-1z"/>
<path fill="#88ffaf" d="M25 12h1v1h-1zM30 1h1v1h-1zM30 10h1v1h-1z"/>
<path fill="#5df9c6" d="M25 15h1v1h-1zM28 15h1v1h-1zM34 3h1v1h-1zM34 10h1v1h-1zM35 6h1v1h-1zM35 8h1v1h-1zM36 6h1v1h-1z"/>
<path fill="#c9e587" d="M26 2h1v1h-1z"/>
<path fill="#c8e688" d="M26 5h1v1h-1z"/>
<path fill="#beed8f" d="M26 6h1v1h-1z"/>
<path fill="#c2ea8c" d="M26 7h1v1h-1z"/>
<path fill="#bcee90" d="M26 8h1v1h-1z"/>
<path fill="#c3e98b" d="M27 3h1v1h-1z"/>
<path fill="#c0eb8d" d="M27 6h1v1h-1z"/>
<path fill="#acf59a" d="M27 8h1v1h-1zM29 6h1v1h-1z"/>
<path fill="#97fca7" d="M27 10h1v1h-1zM29 9h1v1h-1zM30 6h1v1h-1z"/>
<path fill="#b3f296" d="M28 6h1v1h-1z"/>
<path fill="#a5f89f" d="M29 4h1v1h-1z"/>
<path fill="#b1f397" d="M29 7h1v1h-1z"/>
<path fill="#8ffeab" d="M30 2h1v1h-1z"/>
<path fill="#65fcc3" d="M32 11h1v1h-1zM37 7h1v1h-1z"/>
</g></g></g>
<g clip-path="url(#c7)" stroke="#6c6c6c" fill="#6c6c6c">
<path d="M1266.0 1333.0V1280.2M1306.1 1334.4V1250.2M1346.1 1336.5V1229.6M1386.2 1335.3V1213.3M1426.2 1335.3V1198.1M1466.2 1332.5V1193.3M1506.2 1325.6V1192.2M1546.3 1325.1V1166.0M1586.3 1328.5V1161.2M1626.4 1331.2V1137.4M1666.4 1332.4V1129.2M1706.4 1315.6V1128.5M1746.5 1295.6V1105.1M1786.5 1288.0V1108.9M1826.5 1283.7V1091.2M1866.6 1274.8V1074.7M1906.6 1264.0V1086.9M1946.6 1252.6V1084.1M1986.7 1262.2V1089.2M2026.7 1238.1V1089.4M2066.7 1167.7V1049.4" fill="none" stroke-width="4.0"/>
<path d="M1255.5 1333.0h21.2M1255.5 1280.2h21.2M1295.5 1334.4h21.2M1295.5 1250.2h21.2M1335.5 1336.5h21.2M1335.5 1229.6h21.2M1375.6 1335.3h21.2M1375.6 1213.3h21.2M1415.6 1335.3h21.2M1415.6 1198.1h21.2M1455.6 1332.5h21.2M1455.6 1193.3h21.2M1495.7 1325.6h21.2M1495.7 1192.2h21.2M1535.7 1325.1h21.2M1535.7 1166.0h21.2M1575.7 1328.5h21.2M1575.7 1161.2h21.2M1615.8 1331.2h21.2M1615.8 1137.4h21.2M1655.8 1332.4h21.2M1655.8 1129.2h21.2M1695.8 1315.6h21.2M1695.8 1128.5h21.2M1735.9 1295.6h21.2M1735.9 1105.1h21.2M1775.9 1288.0h21.2M1775.9 1108.9h21.2M1815.9 1283.7h21.2M1815.9 1091.2h21.2M1856.0 1274.8h21.2M1856.0 1074.7h21.2M1896.0 1264.0h21.2M1896.0 1086.9h21.2M1936.0 1252.6h21.2M1936.0 1084.1h21.2M1976.1 1262.2h21.2M1976.1 1089.2h21.2M2016.1 1238.1h21.2M2016.1 1089.4h21.2M2056.1 1167.7h21.2M2056.1 1049.4h21.2" fill="none" stroke-width="2.2" />
<polyline points="1266.0,1306.3 1306.1,1293.0 1346.1,1283.6 1386.2,1274.3 1426.2,1267.0 1466.2,1263.1 1506.2,1259.6 1546.3,1245.6 1586.3,1245.4 1626.4,1234.0 1666.4,1231.0 1706.4,1221.9 1746.5,1200.6 1786.5,1198.8 1826.5,1187.9 1866.6,1174.8 1906.6,1175.5 1946.6,1168.9 1986.7,1176.1 2026.7,1163.9 2066.7,1108.9" fill="none" stroke-width="3.4" stroke-linejoin="round"/>
<rect x="1258.6" y="1298.9" width="14.8" height="14.8" stroke="none"/>
<rect x="1298.7" y="1285.6" width="14.8" height="14.8" stroke="none"/>
<rect x="1338.7" y="1276.2" width="14.8" height="14.8" stroke="none"/>
<rect x="1378.8" y="1266.9" width="14.8" height="14.8" stroke="none"/>
<rect x="1418.8" y="1259.6" width="14.8" height="14.8" stroke="none"/>
<rect x="1458.8" y="1255.7" width="14.8" height="14.8" stroke="none"/>
<rect x="1498.8" y="1252.2" width="14.8" height="14.8" stroke="none"/>
<rect x="1538.9" y="1238.2" width="14.8" height="14.8" stroke="none"/>
<rect x="1578.9" y="1238.0" width="14.8" height="14.8" stroke="none"/>
<rect x="1619.0" y="1226.6" width="14.8" height="14.8" stroke="none"/>
<rect x="1659.0" y="1223.6" width="14.8" height="14.8" stroke="none"/>
<rect x="1699.0" y="1214.5" width="14.8" height="14.8" stroke="none"/>
<rect x="1739.1" y="1193.2" width="14.8" height="14.8" stroke="none"/>
<rect x="1779.1" y="1191.4" width="14.8" height="14.8" stroke="none"/>
<rect x="1819.1" y="1180.5" width="14.8" height="14.8" stroke="none"/>
<rect x="1859.2" y="1167.4" width="14.8" height="14.8" stroke="none"/>
<rect x="1899.2" y="1168.1" width="14.8" height="14.8" stroke="none"/>
<rect x="1939.2" y="1161.5" width="14.8" height="14.8" stroke="none"/>
<rect x="1979.2" y="1168.7" width="14.8" height="14.8" stroke="none"/>
<rect x="2019.3" y="1156.5" width="14.8" height="14.8" stroke="none"/>
<rect x="2059.3" y="1101.5" width="14.8" height="14.8" stroke="none"/>
</g>
</g>
<text x="104.9" y="308.9" text-anchor="end" font-size="21.6">500</text>
<text x="104.9" y="234.9" text-anchor="end" font-size="21.6">1000</text>
<text x="104.9" y="160.8" text-anchor="end" font-size="21.6">1500</text>
<text x="104.9" y="86.8" text-anchor="end" font-size="21.6">2000</text>
<path d="M120.40 300.08h-7.20M120.40 226.05h-7.20M120.40 152.03h-7.20M120.40 78.01h-7.20M312.60 374.10v-7.20M504.80 374.10v-7.20M697.00 374.10v-7.20M889.20 374.10v-7.20" stroke="#000" stroke-width="1.70" fill="none"/>
<rect x="120.40" y="48.40" width="961.00" height="325.70" fill="none" stroke="#000" stroke-width="1.70"/>
<text x="104.9" y="628.4" text-anchor="end" font-size="21.6">5</text>
<text x="104.9" y="546.6" text-anchor="end" font-size="21.6">10</text>
<text x="104.9" y="464.7" text-anchor="end" font-size="21.6">15</text>
<text x="104.9" y="382.9" text-anchor="end" font-size="21.6">20</text>
<path d="M120.40 619.60h-7.20M120.40 537.77h-7.20M120.40 455.93h-7.20M120.40 374.10h-7.20M312.60 699.80v-7.20M504.80 699.80v-7.20M697.00 699.80v-7.20M889.20 699.80v-7.20" stroke="#000" stroke-width="1.70" fill="none"/>
<rect x="120.40" y="374.10" width="961.00" height="325.70" fill="none" stroke="#000" stroke-width="1.70"/>
<text x="104.9" y="1004.7" text-anchor="end" font-size="21.6">3</text>
<text x="104.9" y="945.5" text-anchor="end" font-size="21.6">4</text>
<text x="104.9" y="886.3" text-anchor="end" font-size="21.6">5</text>
<text x="104.9" y="827.0" text-anchor="end" font-size="21.6">6</text>
<text x="104.9" y="767.8" text-anchor="end" font-size="21.6">7</text>
<path d="M120.40 995.89h-7.20M120.40 936.67h-7.20M120.40 877.45h-7.20M120.40 818.24h-7.20M120.40 759.02h-7.20M312.60 1025.50v-7.20M504.80 1025.50v-7.20M697.00 1025.50v-7.20M889.20 1025.50v-7.20" stroke="#000" stroke-width="1.70" fill="none"/>
<rect x="120.40" y="699.80" width="961.00" height="325.70" fill="none" stroke="#000" stroke-width="1.70"/>
<text x="104.9" y="1360.0" text-anchor="end" font-size="21.6">0</text>
<text x="104.9" y="1278.6" text-anchor="end" font-size="21.6">20</text>
<text x="104.9" y="1197.1" text-anchor="end" font-size="21.6">40</text>
<text x="104.9" y="1115.7" text-anchor="end" font-size="21.6">60</text>
<text x="104.9" y="1034.3" text-anchor="end" font-size="21.6">80</text>
<text x="120.4" y="1383.1" text-anchor="middle" font-size="21.6">100</text>
<text x="312.6" y="1383.1" text-anchor="middle" font-size="21.6">200</text>
<text x="504.8" y="1383.1" text-anchor="middle" font-size="21.6">300</text>
<text x="697.0" y="1383.1" text-anchor="middle" font-size="21.6">400</text>
<text x="889.2" y="1383.1" text-anchor="middle" font-size="21.6">500</text>
<text x="1081.4" y="1383.1" text-anchor="middle" font-size="21.6">600</text>
<path d="M120.40 1351.20h-7.20M120.40 1269.78h-7.20M120.40 1188.35h-7.20M120.40 1106.92h-7.20M120.40 1025.50h-7.20M120.40 1351.20v7.20M312.60 1351.20v7.20M504.80 1351.20v7.20M697.00 1351.20v7.20M889.20 1351.20v7.20M1081.40 1351.20v7.20" stroke="#000" stroke-width="1.70" fill="none"/>
<rect x="120.40" y="1025.50" width="961.00" height="325.70" fill="none" stroke="#000" stroke-width="1.70"/>
<text x="1190.5" y="382.9" text-anchor="end" font-size="21.6">0</text>
<text x="1190.5" y="317.8" text-anchor="end" font-size="21.6">3</text>
<text x="1190.5" y="252.6" text-anchor="end" font-size="21.6">6</text>
<text x="1190.5" y="187.5" text-anchor="end" font-size="21.6">9</text>
<text x="1190.5" y="122.3" text-anchor="end" font-size="21.6">12</text>
<text x="1190.5" y="57.2" text-anchor="end" font-size="21.6">15</text>
<path d="M1206.00 374.10h-7.20M1206.00 308.96h-7.20M1206.00 243.82h-7.20M1206.00 178.68h-7.20M1206.00 113.54h-7.20M1206.00 48.40h-7.20M1286.07 374.10v-7.20M1446.20 374.10v-7.20M1606.33 374.10v-7.20M1766.47 374.10v-7.20M1926.60 374.10v-7.20M2086.73 374.10v-7.20" stroke="#000" stroke-width="1.70" fill="none"/>
<rect x="1206.00" y="48.40" width="960.80" height="325.70" fill="none" stroke="#000" stroke-width="1.70"/>
<text x="1190.5" y="704.7" text-anchor="end" font-size="21.6">0</text>
<text x="1190.5" y="626.2" text-anchor="end" font-size="21.6">2</text>
<text x="1190.5" y="547.7" text-anchor="end" font-size="21.6">4</text>
<text x="1190.5" y="469.2" text-anchor="end" font-size="21.6">6</text>
<text x="1190.5" y="390.7" text-anchor="end" font-size="21.6">8</text>
<path d="M1206.00 695.88h-7.20M1206.00 617.39h-7.20M1206.00 538.91h-7.20M1206.00 460.43h-7.20M1206.00 381.95h-7.20M1286.07 699.80v-7.20M1446.20 699.80v-7.20M1606.33 699.80v-7.20M1766.47 699.80v-7.20M1926.60 699.80v-7.20M2086.73 699.80v-7.20" stroke="#000" stroke-width="1.70" fill="none"/>
<rect x="1206.00" y="374.10" width="960.80" height="325.70" fill="none" stroke="#000" stroke-width="1.70"/>
<text x="1190.5" y="1015.1" text-anchor="end" font-size="21.6">0.5</text>
<text x="1190.5" y="919.3" text-anchor="end" font-size="21.6">1.0</text>
<text x="1190.5" y="823.6" text-anchor="end" font-size="21.6">1.5</text>
<text x="1190.5" y="727.8" text-anchor="end" font-size="21.6">2.0</text>
<path d="M1206.00 1006.34h-7.20M1206.00 910.55h-7.20M1206.00 814.75h-7.20M1206.00 718.96h-7.20M1286.07 1025.50v-7.20M1446.20 1025.50v-7.20M1606.33 1025.50v-7.20M1766.47 1025.50v-7.20M1926.60 1025.50v-7.20M2086.73 1025.50v-7.20" stroke="#000" stroke-width="1.70" fill="none"/>
<rect x="1206.00" y="699.80" width="960.80" height="325.70" fill="none" stroke="#000" stroke-width="1.70"/>
<text x="1190.5" y="1349.1" text-anchor="end" font-size="21.6">0</text>
<text x="1190.5" y="1244.2" text-anchor="end" font-size="21.6">1</text>
<text x="1190.5" y="1139.2" text-anchor="end" font-size="21.6">2</text>
<text x="1190.5" y="1034.3" text-anchor="end" font-size="21.6">3</text>
<text x="1286.1" y="1383.1" text-anchor="middle" font-size="21.6">300</text>
<text x="1446.2" y="1383.1" text-anchor="middle" font-size="21.6">400</text>
<text x="1606.3" y="1383.1" text-anchor="middle" font-size="21.6">500</text>
<text x="1766.5" y="1383.1" text-anchor="middle" font-size="21.6">600</text>
<text x="1926.6" y="1383.1" text-anchor="middle" font-size="21.6">700</text>
<text x="2086.7" y="1383.1" text-anchor="middle" font-size="21.6">800</text>
<path d="M1206.00 1340.29h-7.20M1206.00 1235.36h-7.20M1206.00 1130.43h-7.20M1206.00 1025.50h-7.20M1286.07 1351.20v7.20M1446.20 1351.20v7.20M1606.33 1351.20v7.20M1766.47 1351.20v7.20M1926.60 1351.20v7.20M2086.73 1351.20v7.20" stroke="#000" stroke-width="1.70" fill="none"/>
<rect x="1206.00" y="1025.50" width="960.80" height="325.70" fill="none" stroke="#000" stroke-width="1.70"/>
<text x="586.5" y="25.4" text-anchor="middle" font-size="30.6">PSP<tspan class="i" dx="9.6">R</tspan><tspan dx="5.6">≤</tspan><tspan dx="5.6">30</tspan><tspan class="i">R</tspan><tspan dy="4.8" font-size="21.4" class="i">s</tspan><tspan dy="-4.8" font-size="21.4">&#8203;</tspan></text>
<text x="1670.6" y="25.4" text-anchor="middle" font-size="30.6">WIND 2019</text>
<text x="601.9" y="1418.7" text-anchor="middle" font-size="30.6"><tspan class="i">V</tspan><tspan dy="4.8" font-size="21.4" class="i">SW</tspan><tspan dy="-4.8" font-size="21.4">&#8203;</tspan> km/s</text>
<text x="1687.2" y="1418.7" text-anchor="middle" font-size="30.6"><tspan class="i">V</tspan><tspan dy="4.8" font-size="21.4" class="i">SW</tspan><tspan dy="-4.8" font-size="21.4">&#8203;</tspan> km/s</text>
<text transform="translate(30.6 213.5) rotate(-90)" text-anchor="middle" font-size="30.6"><tspan class="i">N</tspan><tspan dy="4.8" font-size="21.4" class="i">p</tspan><tspan dy="-4.8" font-size="21.4">&#8203;</tspan>/<tspan class="i">cm</tspan><tspan dy="-11.7" font-size="21.4">−3</tspan><tspan dy="11.7" font-size="21.4">&#8203;</tspan></text>
<text transform="translate(58.8 536.8) rotate(-90)" text-anchor="middle" font-size="30.6"><tspan class="i">T</tspan><tspan dy="4.8" font-size="21.4" class="i">p</tspan><tspan dy="-4.8" font-size="21.4">&#8203;</tspan>/10<tspan dy="-11.7" font-size="21.4">5</tspan><tspan dy="11.7" font-size="21.4">&#8203;</tspan> K</text>
<text transform="translate(76.2 862.7) rotate(-90)" text-anchor="middle" font-size="30.6"><tspan class="i">T</tspan><tspan dy="4.8" font-size="21.4">e</tspan><tspan dy="-4.8" font-size="21.4">&#8203;</tspan>/10<tspan dy="-11.7" font-size="21.4">5</tspan><tspan dy="11.7" font-size="21.4">&#8203;</tspan> K</text>
<text transform="translate(61.2 1186.5) rotate(-90)" text-anchor="middle" font-size="30.6">|<tspan class="i">δB</tspan>| nT</text>
<text transform="translate(1143.6 213.5) rotate(-90)" text-anchor="middle" font-size="30.6"><tspan class="i">N</tspan><tspan dy="4.8" font-size="21.4" class="i">p</tspan><tspan dy="-4.8" font-size="21.4">&#8203;</tspan>/<tspan class="i">cm</tspan><tspan dy="-11.7" font-size="21.4">−3</tspan><tspan dy="11.7" font-size="21.4">&#8203;</tspan></text>
<text transform="translate(1158.5 536.8) rotate(-90)" text-anchor="middle" font-size="30.6"><tspan class="i">T</tspan><tspan dy="4.8" font-size="21.4" class="i">p</tspan><tspan dy="-4.8" font-size="21.4">&#8203;</tspan>/10<tspan dy="-11.7" font-size="21.4">5</tspan><tspan dy="11.7" font-size="21.4">&#8203;</tspan> K</text>
<text transform="translate(1140.7 862.7) rotate(-90)" text-anchor="middle" font-size="30.6"><tspan class="i">T</tspan><tspan dy="4.8" font-size="21.4">e</tspan><tspan dy="-4.8" font-size="21.4">&#8203;</tspan>/10<tspan dy="-11.7" font-size="21.4">5</tspan><tspan dy="11.7" font-size="21.4">&#8203;</tspan> K</text>
<text transform="translate(1160.9 1186.5) rotate(-90)" text-anchor="middle" font-size="30.6">|<tspan class="i">δB</tspan>| nT</text>
</svg></body></html>
